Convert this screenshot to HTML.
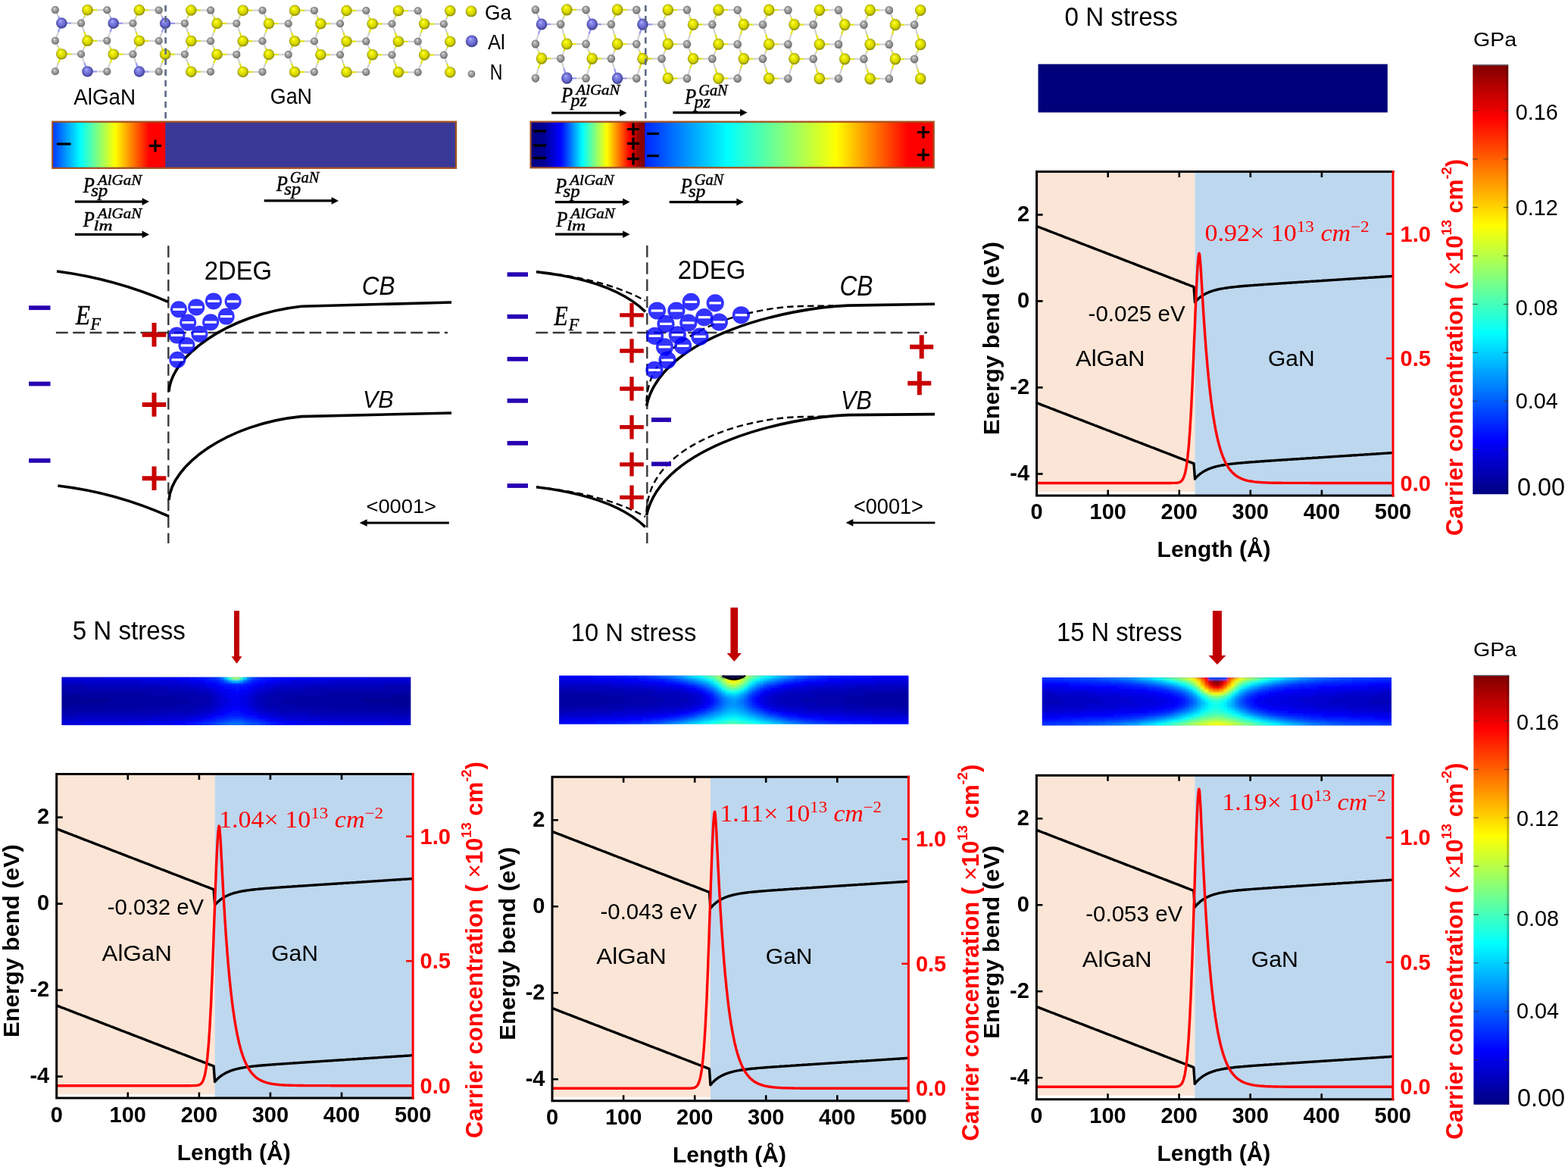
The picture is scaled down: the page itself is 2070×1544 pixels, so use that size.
<!DOCTYPE html><html><head><meta charset="utf-8"><title>AlGaN/GaN</title><style>html,body{margin:0;padding:0;background:#fff;overflow:hidden}svg{display:block}</style></head><body>
<svg width="2070" height="1544" viewBox="0 0 2070 1544">
<rect width="2070" height="1544" fill="#fff"/>
<defs>
<radialGradient id="gGa" cx="0.5" cy="0.5" r="0.55" fx="0.38" fy="0.3"><stop offset="0" stop-color="#ffffa0"/><stop offset="0.2" stop-color="#f4f400"/><stop offset="0.65" stop-color="#d2d200"/><stop offset="1" stop-color="#6e6e00"/></radialGradient>
<radialGradient id="gAl" cx="0.5" cy="0.5" r="0.55" fx="0.38" fy="0.3"><stop offset="0" stop-color="#c8c8ff"/><stop offset="0.2" stop-color="#8c8cf0"/><stop offset="0.65" stop-color="#6666cc"/><stop offset="1" stop-color="#2a2a70"/></radialGradient>
<radialGradient id="gN" cx="0.5" cy="0.5" r="0.55" fx="0.38" fy="0.3"><stop offset="0" stop-color="#eeeeee"/><stop offset="0.25" stop-color="#b4b4b4"/><stop offset="0.7" stop-color="#8c8c8c"/><stop offset="1" stop-color="#4a4a4a"/></radialGradient>
<linearGradient id="bar1" gradientUnits="userSpaceOnUse" x1="70" y1="0" x2="218" y2="0"><stop offset="0.0000" stop-color="#0038ff"/><stop offset="0.0405" stop-color="#0059ff"/><stop offset="0.0811" stop-color="#007aff"/><stop offset="0.1216" stop-color="#009cff"/><stop offset="0.1622" stop-color="#00bdff"/><stop offset="0.2027" stop-color="#00deff"/><stop offset="0.2432" stop-color="#00ffff"/><stop offset="0.2950" stop-color="#2bffd4"/><stop offset="0.3468" stop-color="#55ffaa"/><stop offset="0.3986" stop-color="#80ff80"/><stop offset="0.4505" stop-color="#aaff55"/><stop offset="0.5023" stop-color="#d5ff2a"/><stop offset="0.5541" stop-color="#ffff00"/><stop offset="0.6047" stop-color="#ffd500"/><stop offset="0.6554" stop-color="#ffaa00"/><stop offset="0.7061" stop-color="#ff8000"/><stop offset="0.7568" stop-color="#ff5500"/><stop offset="0.8074" stop-color="#ff2a00"/><stop offset="0.8581" stop-color="#ff0000"/><stop offset="0.8818" stop-color="#ff0000"/><stop offset="0.9054" stop-color="#ff0000"/><stop offset="0.9291" stop-color="#ff0000"/><stop offset="0.9527" stop-color="#ff0000"/><stop offset="0.9764" stop-color="#ff0000"/><stop offset="1.0000" stop-color="#ff0000"/></linearGradient>
<linearGradient id="bar2a" gradientUnits="userSpaceOnUse" x1="701" y1="0" x2="851" y2="0"><stop offset="0.0000" stop-color="#000080"/><stop offset="0.0189" stop-color="#000083"/><stop offset="0.0378" stop-color="#000086"/><stop offset="0.0567" stop-color="#00008a"/><stop offset="0.0756" stop-color="#00008d"/><stop offset="0.0944" stop-color="#000091"/><stop offset="0.1133" stop-color="#000094"/><stop offset="0.1400" stop-color="#0000a8"/><stop offset="0.1667" stop-color="#0000bd"/><stop offset="0.1933" stop-color="#0000d1"/><stop offset="0.2200" stop-color="#0000e6"/><stop offset="0.2467" stop-color="#0000fa"/><stop offset="0.2733" stop-color="#000fff"/><stop offset="0.3033" stop-color="#0037ff"/><stop offset="0.3333" stop-color="#005fff"/><stop offset="0.3633" stop-color="#0087ff"/><stop offset="0.3933" stop-color="#00afff"/><stop offset="0.4233" stop-color="#00d7ff"/><stop offset="0.4533" stop-color="#00ffff"/><stop offset="0.4889" stop-color="#2bffd4"/><stop offset="0.5244" stop-color="#55ffaa"/><stop offset="0.5600" stop-color="#80ff80"/><stop offset="0.5956" stop-color="#aaff55"/><stop offset="0.6311" stop-color="#d5ff2a"/><stop offset="0.6667" stop-color="#ffff00"/><stop offset="0.7000" stop-color="#ffd500"/><stop offset="0.7333" stop-color="#ffaa00"/><stop offset="0.7667" stop-color="#ff8000"/><stop offset="0.8000" stop-color="#ff5500"/><stop offset="0.8333" stop-color="#ff2a00"/><stop offset="0.8667" stop-color="#ff0000"/><stop offset="0.8800" stop-color="#ed0000"/><stop offset="0.8933" stop-color="#db0000"/><stop offset="0.9067" stop-color="#c90000"/><stop offset="0.9200" stop-color="#b80000"/><stop offset="0.9333" stop-color="#a60000"/><stop offset="0.9467" stop-color="#940000"/><stop offset="0.9556" stop-color="#910000"/><stop offset="0.9644" stop-color="#8d0000"/><stop offset="0.9733" stop-color="#8a0000"/><stop offset="0.9822" stop-color="#860000"/><stop offset="0.9911" stop-color="#830000"/><stop offset="1.0000" stop-color="#800000"/></linearGradient>
<linearGradient id="bar2b" gradientUnits="userSpaceOnUse" x1="851" y1="0" x2="1232" y2="0"><stop offset="0.0000" stop-color="#0024ff"/><stop offset="0.0477" stop-color="#0048ff"/><stop offset="0.0954" stop-color="#006dff"/><stop offset="0.1430" stop-color="#0091ff"/><stop offset="0.1907" stop-color="#00b6ff"/><stop offset="0.2384" stop-color="#00daff"/><stop offset="0.2861" stop-color="#00ffff"/><stop offset="0.3491" stop-color="#2bffd4"/><stop offset="0.4121" stop-color="#55ffaa"/><stop offset="0.4751" stop-color="#80ff80"/><stop offset="0.5381" stop-color="#aaff55"/><stop offset="0.6010" stop-color="#d5ff2a"/><stop offset="0.6640" stop-color="#ffff00"/><stop offset="0.7056" stop-color="#ffd500"/><stop offset="0.7472" stop-color="#ffaa00"/><stop offset="0.7887" stop-color="#ff8000"/><stop offset="0.8303" stop-color="#ff5500"/><stop offset="0.8718" stop-color="#ff2a00"/><stop offset="0.9134" stop-color="#ff0000"/><stop offset="0.9278" stop-color="#ff0000"/><stop offset="0.9423" stop-color="#ff0000"/><stop offset="0.9567" stop-color="#ff0000"/><stop offset="0.9711" stop-color="#ff0000"/><stop offset="0.9856" stop-color="#ff0000"/><stop offset="1.0000" stop-color="#ff0000"/></linearGradient>
<linearGradient id="cbar" x1="0" y1="0" x2="0" y2="1"><stop offset="0.000" stop-color="#800000"/><stop offset="0.025" stop-color="#990000"/><stop offset="0.050" stop-color="#b30000"/><stop offset="0.075" stop-color="#cc0000"/><stop offset="0.100" stop-color="#e50000"/><stop offset="0.125" stop-color="#ff0000"/><stop offset="0.150" stop-color="#ff1a00"/><stop offset="0.175" stop-color="#ff3300"/><stop offset="0.200" stop-color="#ff4c00"/><stop offset="0.225" stop-color="#ff6600"/><stop offset="0.250" stop-color="#ff8000"/><stop offset="0.275" stop-color="#ff9900"/><stop offset="0.300" stop-color="#ffb300"/><stop offset="0.325" stop-color="#ffcc00"/><stop offset="0.350" stop-color="#ffe500"/><stop offset="0.375" stop-color="#ffff00"/><stop offset="0.400" stop-color="#e5ff1a"/><stop offset="0.425" stop-color="#ccff33"/><stop offset="0.450" stop-color="#b3ff4c"/><stop offset="0.475" stop-color="#99ff66"/><stop offset="0.500" stop-color="#80ff80"/><stop offset="0.525" stop-color="#66ff99"/><stop offset="0.550" stop-color="#4cffb3"/><stop offset="0.575" stop-color="#33ffcc"/><stop offset="0.600" stop-color="#1affe5"/><stop offset="0.625" stop-color="#00ffff"/><stop offset="0.650" stop-color="#00e5ff"/><stop offset="0.675" stop-color="#00ccff"/><stop offset="0.700" stop-color="#00b3ff"/><stop offset="0.725" stop-color="#0099ff"/><stop offset="0.750" stop-color="#0080ff"/><stop offset="0.775" stop-color="#0066ff"/><stop offset="0.800" stop-color="#004cff"/><stop offset="0.825" stop-color="#0033ff"/><stop offset="0.850" stop-color="#001aff"/><stop offset="0.875" stop-color="#0000ff"/><stop offset="0.900" stop-color="#0000e5"/><stop offset="0.925" stop-color="#0000cc"/><stop offset="0.950" stop-color="#0000b3"/><stop offset="0.975" stop-color="#000099"/><stop offset="1" stop-color="#000080"/></linearGradient>
<filter id="blur2" x="-5%" y="-20%" width="110%" height="140%"><feGaussianBlur stdDeviation="2.2"/></filter>
<filter id="blur1" x="-5%" y="-20%" width="110%" height="140%"><feGaussianBlur stdDeviation="1.2"/></filter>
<clipPath id="cm5"><rect x="81.4" y="893.5" width="460.9" height="63.5"/></clipPath>
<clipPath id="cm10"><rect x="738.1" y="891.6" width="461.4" height="64.2"/></clipPath>
<clipPath id="cm15"><rect x="1375.7" y="894" width="461.3" height="63.5"/></clipPath>
</defs>
<g stroke-width="2.3"><line x1="115.5" y1="13.2" x2="128.4" y2="13.2" stroke="#e2e21a"/><line x1="128.4" y1="13.2" x2="141.3" y2="13.2" stroke="#d2d2d2"/><line x1="183.9" y1="13.3" x2="196.8" y2="13.4" stroke="#e2e21a"/><line x1="196.8" y1="13.4" x2="209.7" y2="13.4" stroke="#d2d2d2"/><line x1="252.3" y1="13.5" x2="265.2" y2="13.5" stroke="#e2e21a"/><line x1="265.2" y1="13.5" x2="278.1" y2="13.6" stroke="#d2d2d2"/><line x1="320.7" y1="13.7" x2="333.6" y2="13.7" stroke="#e2e21a"/><line x1="333.6" y1="13.7" x2="346.5" y2="13.7" stroke="#d2d2d2"/><line x1="389.1" y1="13.8" x2="402" y2="13.8" stroke="#e2e21a"/><line x1="402" y1="13.8" x2="414.9" y2="13.9" stroke="#d2d2d2"/><line x1="457.5" y1="14" x2="470.4" y2="14" stroke="#e2e21a"/><line x1="470.4" y1="14" x2="483.3" y2="14" stroke="#d2d2d2"/><line x1="525.9" y1="14.1" x2="538.8" y2="14.2" stroke="#e2e21a"/><line x1="538.8" y1="14.2" x2="551.7" y2="14.2" stroke="#d2d2d2"/><line x1="81.3" y1="30.5" x2="94.2" y2="30.5" stroke="#9c9cf2"/><line x1="94.2" y1="30.5" x2="107.1" y2="30.6" stroke="#d2d2d2"/><line x1="149.7" y1="30.7" x2="162.6" y2="30.7" stroke="#9c9cf2"/><line x1="162.6" y1="30.7" x2="175.5" y2="30.7" stroke="#d2d2d2"/><line x1="218.1" y1="30.8" x2="231" y2="30.8" stroke="#9c9cf2"/><line x1="231" y1="30.8" x2="243.9" y2="30.9" stroke="#d2d2d2"/><line x1="286.5" y1="31" x2="299.4" y2="31" stroke="#e2e21a"/><line x1="299.4" y1="31" x2="312.3" y2="31" stroke="#d2d2d2"/><line x1="354.9" y1="31.1" x2="367.8" y2="31.2" stroke="#e2e21a"/><line x1="367.8" y1="31.2" x2="380.7" y2="31.2" stroke="#d2d2d2"/><line x1="423.3" y1="31.3" x2="436.2" y2="31.3" stroke="#e2e21a"/><line x1="436.2" y1="31.3" x2="449.1" y2="31.3" stroke="#d2d2d2"/><line x1="491.7" y1="31.4" x2="504.6" y2="31.5" stroke="#e2e21a"/><line x1="504.6" y1="31.5" x2="517.5" y2="31.5" stroke="#d2d2d2"/><line x1="560.1" y1="31.6" x2="573" y2="31.6" stroke="#e2e21a"/><line x1="573" y1="31.6" x2="585.9" y2="31.7" stroke="#d2d2d2"/><line x1="115.5" y1="53.8" x2="128.4" y2="53.8" stroke="#e2e21a"/><line x1="128.4" y1="53.8" x2="141.3" y2="53.8" stroke="#d2d2d2"/><line x1="183.9" y1="53.9" x2="196.8" y2="54" stroke="#e2e21a"/><line x1="196.8" y1="54" x2="209.7" y2="54" stroke="#d2d2d2"/><line x1="252.3" y1="54.1" x2="265.2" y2="54.1" stroke="#e2e21a"/><line x1="265.2" y1="54.1" x2="278.1" y2="54.2" stroke="#d2d2d2"/><line x1="320.7" y1="54.3" x2="333.6" y2="54.3" stroke="#e2e21a"/><line x1="333.6" y1="54.3" x2="346.5" y2="54.3" stroke="#d2d2d2"/><line x1="389.1" y1="54.4" x2="402" y2="54.4" stroke="#e2e21a"/><line x1="402" y1="54.4" x2="414.9" y2="54.5" stroke="#d2d2d2"/><line x1="457.5" y1="54.6" x2="470.4" y2="54.6" stroke="#e2e21a"/><line x1="470.4" y1="54.6" x2="483.3" y2="54.6" stroke="#d2d2d2"/><line x1="525.9" y1="54.7" x2="538.8" y2="54.8" stroke="#e2e21a"/><line x1="538.8" y1="54.8" x2="551.7" y2="54.8" stroke="#d2d2d2"/><line x1="81.3" y1="71.4" x2="94.2" y2="71.4" stroke="#e2e21a"/><line x1="94.2" y1="71.4" x2="107.1" y2="71.5" stroke="#d2d2d2"/><line x1="149.7" y1="71.6" x2="162.6" y2="71.6" stroke="#e2e21a"/><line x1="162.6" y1="71.6" x2="175.5" y2="71.6" stroke="#d2d2d2"/><line x1="218.1" y1="71.7" x2="231" y2="71.7" stroke="#e2e21a"/><line x1="231" y1="71.7" x2="243.9" y2="71.8" stroke="#d2d2d2"/><line x1="286.5" y1="71.9" x2="299.4" y2="71.9" stroke="#e2e21a"/><line x1="299.4" y1="71.9" x2="312.3" y2="71.9" stroke="#d2d2d2"/><line x1="354.9" y1="72" x2="367.8" y2="72.1" stroke="#e2e21a"/><line x1="367.8" y1="72.1" x2="380.7" y2="72.1" stroke="#d2d2d2"/><line x1="423.3" y1="72.2" x2="436.2" y2="72.2" stroke="#e2e21a"/><line x1="436.2" y1="72.2" x2="449.1" y2="72.2" stroke="#d2d2d2"/><line x1="491.7" y1="72.3" x2="504.6" y2="72.4" stroke="#e2e21a"/><line x1="504.6" y1="72.4" x2="517.5" y2="72.4" stroke="#d2d2d2"/><line x1="560.1" y1="72.5" x2="573" y2="72.5" stroke="#e2e21a"/><line x1="573" y1="72.5" x2="585.9" y2="72.6" stroke="#d2d2d2"/><line x1="115.5" y1="94.4" x2="128.4" y2="94.4" stroke="#9c9cf2"/><line x1="128.4" y1="94.4" x2="141.3" y2="94.4" stroke="#d2d2d2"/><line x1="183.9" y1="94.5" x2="196.8" y2="94.6" stroke="#9c9cf2"/><line x1="196.8" y1="94.6" x2="209.7" y2="94.6" stroke="#d2d2d2"/><line x1="252.3" y1="94.7" x2="265.2" y2="94.7" stroke="#e2e21a"/><line x1="265.2" y1="94.7" x2="278.1" y2="94.8" stroke="#d2d2d2"/><line x1="320.7" y1="94.9" x2="333.6" y2="94.9" stroke="#e2e21a"/><line x1="333.6" y1="94.9" x2="346.5" y2="94.9" stroke="#d2d2d2"/><line x1="389.1" y1="95" x2="402" y2="95" stroke="#e2e21a"/><line x1="402" y1="95" x2="414.9" y2="95.1" stroke="#d2d2d2"/><line x1="457.5" y1="95.2" x2="470.4" y2="95.2" stroke="#e2e21a"/><line x1="470.4" y1="95.2" x2="483.3" y2="95.2" stroke="#d2d2d2"/><line x1="525.9" y1="95.3" x2="538.8" y2="95.4" stroke="#e2e21a"/><line x1="538.8" y1="95.4" x2="551.7" y2="95.4" stroke="#d2d2d2"/><line x1="72.9" y1="13.1" x2="77.1" y2="21.8" stroke="#d2d2d2"/><line x1="77.1" y1="21.8" x2="81.3" y2="30.5" stroke="#9c9cf2"/><line x1="141.3" y1="13.2" x2="145.5" y2="21.9" stroke="#d2d2d2"/><line x1="145.5" y1="21.9" x2="149.7" y2="30.7" stroke="#9c9cf2"/><line x1="115.5" y1="13.2" x2="111.3" y2="21.9" stroke="#e2e21a"/><line x1="111.3" y1="21.9" x2="107.1" y2="30.6" stroke="#d2d2d2"/><line x1="209.7" y1="13.4" x2="213.9" y2="22.1" stroke="#d2d2d2"/><line x1="213.9" y1="22.1" x2="218.1" y2="30.8" stroke="#9c9cf2"/><line x1="183.9" y1="13.3" x2="179.7" y2="22" stroke="#e2e21a"/><line x1="179.7" y1="22" x2="175.5" y2="30.7" stroke="#d2d2d2"/><line x1="278.1" y1="13.6" x2="282.3" y2="22.3" stroke="#d2d2d2"/><line x1="282.3" y1="22.3" x2="286.5" y2="31" stroke="#e2e21a"/><line x1="252.3" y1="13.5" x2="248.1" y2="22.2" stroke="#e2e21a"/><line x1="248.1" y1="22.2" x2="243.9" y2="30.9" stroke="#d2d2d2"/><line x1="346.5" y1="13.7" x2="350.7" y2="22.4" stroke="#d2d2d2"/><line x1="350.7" y1="22.4" x2="354.9" y2="31.1" stroke="#e2e21a"/><line x1="320.7" y1="13.7" x2="316.5" y2="22.3" stroke="#e2e21a"/><line x1="316.5" y1="22.3" x2="312.3" y2="31" stroke="#d2d2d2"/><line x1="414.9" y1="13.9" x2="419.1" y2="22.6" stroke="#d2d2d2"/><line x1="419.1" y1="22.6" x2="423.3" y2="31.3" stroke="#e2e21a"/><line x1="389.1" y1="13.8" x2="384.9" y2="22.5" stroke="#e2e21a"/><line x1="384.9" y1="22.5" x2="380.7" y2="31.2" stroke="#d2d2d2"/><line x1="483.3" y1="14" x2="487.5" y2="22.7" stroke="#d2d2d2"/><line x1="487.5" y1="22.7" x2="491.7" y2="31.4" stroke="#e2e21a"/><line x1="457.5" y1="14" x2="453.3" y2="22.7" stroke="#e2e21a"/><line x1="453.3" y1="22.7" x2="449.1" y2="31.3" stroke="#d2d2d2"/><line x1="551.7" y1="14.2" x2="555.9" y2="22.9" stroke="#d2d2d2"/><line x1="555.9" y1="22.9" x2="560.1" y2="31.6" stroke="#e2e21a"/><line x1="525.9" y1="14.1" x2="521.7" y2="22.8" stroke="#e2e21a"/><line x1="521.7" y1="22.8" x2="517.5" y2="31.5" stroke="#d2d2d2"/><line x1="594.3" y1="14.3" x2="590.1" y2="23" stroke="#e2e21a"/><line x1="590.1" y1="23" x2="585.9" y2="31.7" stroke="#d2d2d2"/><line x1="72.9" y1="53.7" x2="77.1" y2="42.1" stroke="#d2d2d2"/><line x1="77.1" y1="42.1" x2="81.3" y2="30.5" stroke="#9c9cf2"/><line x1="141.3" y1="53.8" x2="145.5" y2="42.2" stroke="#d2d2d2"/><line x1="145.5" y1="42.2" x2="149.7" y2="30.7" stroke="#9c9cf2"/><line x1="115.5" y1="53.8" x2="111.3" y2="42.2" stroke="#e2e21a"/><line x1="111.3" y1="42.2" x2="107.1" y2="30.6" stroke="#d2d2d2"/><line x1="209.7" y1="54" x2="213.9" y2="42.4" stroke="#d2d2d2"/><line x1="213.9" y1="42.4" x2="218.1" y2="30.8" stroke="#9c9cf2"/><line x1="183.9" y1="53.9" x2="179.7" y2="42.3" stroke="#e2e21a"/><line x1="179.7" y1="42.3" x2="175.5" y2="30.7" stroke="#d2d2d2"/><line x1="278.1" y1="54.2" x2="282.3" y2="42.6" stroke="#d2d2d2"/><line x1="282.3" y1="42.6" x2="286.5" y2="31" stroke="#e2e21a"/><line x1="252.3" y1="54.1" x2="248.1" y2="42.5" stroke="#e2e21a"/><line x1="248.1" y1="42.5" x2="243.9" y2="30.9" stroke="#d2d2d2"/><line x1="346.5" y1="54.3" x2="350.7" y2="42.7" stroke="#d2d2d2"/><line x1="350.7" y1="42.7" x2="354.9" y2="31.1" stroke="#e2e21a"/><line x1="320.7" y1="54.3" x2="316.5" y2="42.6" stroke="#e2e21a"/><line x1="316.5" y1="42.6" x2="312.3" y2="31" stroke="#d2d2d2"/><line x1="414.9" y1="54.5" x2="419.1" y2="42.9" stroke="#d2d2d2"/><line x1="419.1" y1="42.9" x2="423.3" y2="31.3" stroke="#e2e21a"/><line x1="389.1" y1="54.4" x2="384.9" y2="42.8" stroke="#e2e21a"/><line x1="384.9" y1="42.8" x2="380.7" y2="31.2" stroke="#d2d2d2"/><line x1="483.3" y1="54.6" x2="487.5" y2="43" stroke="#d2d2d2"/><line x1="487.5" y1="43" x2="491.7" y2="31.4" stroke="#e2e21a"/><line x1="457.5" y1="54.6" x2="453.3" y2="43" stroke="#e2e21a"/><line x1="453.3" y1="43" x2="449.1" y2="31.3" stroke="#d2d2d2"/><line x1="551.7" y1="54.8" x2="555.9" y2="43.2" stroke="#d2d2d2"/><line x1="555.9" y1="43.2" x2="560.1" y2="31.6" stroke="#e2e21a"/><line x1="525.9" y1="54.7" x2="521.7" y2="43.1" stroke="#e2e21a"/><line x1="521.7" y1="43.1" x2="517.5" y2="31.5" stroke="#d2d2d2"/><line x1="594.3" y1="54.9" x2="590.1" y2="43.3" stroke="#e2e21a"/><line x1="590.1" y1="43.3" x2="585.9" y2="31.7" stroke="#d2d2d2"/><line x1="72.9" y1="53.7" x2="77.1" y2="62.5" stroke="#d2d2d2"/><line x1="77.1" y1="62.5" x2="81.3" y2="71.4" stroke="#e2e21a"/><line x1="141.3" y1="53.8" x2="145.5" y2="62.7" stroke="#d2d2d2"/><line x1="145.5" y1="62.7" x2="149.7" y2="71.6" stroke="#e2e21a"/><line x1="115.5" y1="53.8" x2="111.3" y2="62.6" stroke="#e2e21a"/><line x1="111.3" y1="62.6" x2="107.1" y2="71.5" stroke="#d2d2d2"/><line x1="209.7" y1="54" x2="213.9" y2="62.9" stroke="#d2d2d2"/><line x1="213.9" y1="62.9" x2="218.1" y2="71.7" stroke="#e2e21a"/><line x1="183.9" y1="53.9" x2="179.7" y2="62.8" stroke="#e2e21a"/><line x1="179.7" y1="62.8" x2="175.5" y2="71.6" stroke="#d2d2d2"/><line x1="278.1" y1="54.2" x2="282.3" y2="63" stroke="#d2d2d2"/><line x1="282.3" y1="63" x2="286.5" y2="71.9" stroke="#e2e21a"/><line x1="252.3" y1="54.1" x2="248.1" y2="62.9" stroke="#e2e21a"/><line x1="248.1" y1="62.9" x2="243.9" y2="71.8" stroke="#d2d2d2"/><line x1="346.5" y1="54.3" x2="350.7" y2="63.2" stroke="#d2d2d2"/><line x1="350.7" y1="63.2" x2="354.9" y2="72" stroke="#e2e21a"/><line x1="320.7" y1="54.3" x2="316.5" y2="63.1" stroke="#e2e21a"/><line x1="316.5" y1="63.1" x2="312.3" y2="71.9" stroke="#d2d2d2"/><line x1="414.9" y1="54.5" x2="419.1" y2="63.3" stroke="#d2d2d2"/><line x1="419.1" y1="63.3" x2="423.3" y2="72.2" stroke="#e2e21a"/><line x1="389.1" y1="54.4" x2="384.9" y2="63.2" stroke="#e2e21a"/><line x1="384.9" y1="63.2" x2="380.7" y2="72.1" stroke="#d2d2d2"/><line x1="483.3" y1="54.6" x2="487.5" y2="63.5" stroke="#d2d2d2"/><line x1="487.5" y1="63.5" x2="491.7" y2="72.3" stroke="#e2e21a"/><line x1="457.5" y1="54.6" x2="453.3" y2="63.4" stroke="#e2e21a"/><line x1="453.3" y1="63.4" x2="449.1" y2="72.2" stroke="#d2d2d2"/><line x1="551.7" y1="54.8" x2="555.9" y2="63.6" stroke="#d2d2d2"/><line x1="555.9" y1="63.6" x2="560.1" y2="72.5" stroke="#e2e21a"/><line x1="525.9" y1="54.7" x2="521.7" y2="63.6" stroke="#e2e21a"/><line x1="521.7" y1="63.6" x2="517.5" y2="72.4" stroke="#d2d2d2"/><line x1="594.3" y1="54.9" x2="590.1" y2="63.7" stroke="#e2e21a"/><line x1="590.1" y1="63.7" x2="585.9" y2="72.6" stroke="#d2d2d2"/><line x1="72.9" y1="94.3" x2="77.1" y2="82.8" stroke="#d2d2d2"/><line x1="77.1" y1="82.8" x2="81.3" y2="71.4" stroke="#e2e21a"/><line x1="141.3" y1="94.4" x2="145.5" y2="83" stroke="#d2d2d2"/><line x1="145.5" y1="83" x2="149.7" y2="71.6" stroke="#e2e21a"/><line x1="115.5" y1="94.4" x2="111.3" y2="82.9" stroke="#9c9cf2"/><line x1="111.3" y1="82.9" x2="107.1" y2="71.5" stroke="#d2d2d2"/><line x1="209.7" y1="94.6" x2="213.9" y2="83.2" stroke="#d2d2d2"/><line x1="213.9" y1="83.2" x2="218.1" y2="71.7" stroke="#e2e21a"/><line x1="183.9" y1="94.5" x2="179.7" y2="83.1" stroke="#9c9cf2"/><line x1="179.7" y1="83.1" x2="175.5" y2="71.6" stroke="#d2d2d2"/><line x1="278.1" y1="94.8" x2="282.3" y2="83.3" stroke="#d2d2d2"/><line x1="282.3" y1="83.3" x2="286.5" y2="71.9" stroke="#e2e21a"/><line x1="252.3" y1="94.7" x2="248.1" y2="83.2" stroke="#e2e21a"/><line x1="248.1" y1="83.2" x2="243.9" y2="71.8" stroke="#d2d2d2"/><line x1="346.5" y1="94.9" x2="350.7" y2="83.5" stroke="#d2d2d2"/><line x1="350.7" y1="83.5" x2="354.9" y2="72" stroke="#e2e21a"/><line x1="320.7" y1="94.9" x2="316.5" y2="83.4" stroke="#e2e21a"/><line x1="316.5" y1="83.4" x2="312.3" y2="71.9" stroke="#d2d2d2"/><line x1="414.9" y1="95.1" x2="419.1" y2="83.6" stroke="#d2d2d2"/><line x1="419.1" y1="83.6" x2="423.3" y2="72.2" stroke="#e2e21a"/><line x1="389.1" y1="95" x2="384.9" y2="83.5" stroke="#e2e21a"/><line x1="384.9" y1="83.5" x2="380.7" y2="72.1" stroke="#d2d2d2"/><line x1="483.3" y1="95.2" x2="487.5" y2="83.8" stroke="#d2d2d2"/><line x1="487.5" y1="83.8" x2="491.7" y2="72.3" stroke="#e2e21a"/><line x1="457.5" y1="95.2" x2="453.3" y2="83.7" stroke="#e2e21a"/><line x1="453.3" y1="83.7" x2="449.1" y2="72.2" stroke="#d2d2d2"/><line x1="551.7" y1="95.4" x2="555.9" y2="83.9" stroke="#d2d2d2"/><line x1="555.9" y1="83.9" x2="560.1" y2="72.5" stroke="#e2e21a"/><line x1="525.9" y1="95.3" x2="521.7" y2="83.9" stroke="#e2e21a"/><line x1="521.7" y1="83.9" x2="517.5" y2="72.4" stroke="#d2d2d2"/><line x1="594.3" y1="95.5" x2="590.1" y2="84" stroke="#e2e21a"/><line x1="590.1" y1="84" x2="585.9" y2="72.6" stroke="#d2d2d2"/></g>
<g><circle cx="72.9" cy="13.1" r="5" fill="url(#gN)"/><circle cx="115.5" cy="13.2" r="7.2" fill="url(#gGa)"/><circle cx="141.3" cy="13.2" r="5" fill="url(#gN)"/><circle cx="183.9" cy="13.3" r="7.2" fill="url(#gGa)"/><circle cx="209.7" cy="13.4" r="5" fill="url(#gN)"/><circle cx="252.3" cy="13.5" r="7.2" fill="url(#gGa)"/><circle cx="278.1" cy="13.6" r="5" fill="url(#gN)"/><circle cx="320.7" cy="13.7" r="7.2" fill="url(#gGa)"/><circle cx="346.5" cy="13.7" r="5" fill="url(#gN)"/><circle cx="389.1" cy="13.8" r="7.2" fill="url(#gGa)"/><circle cx="414.9" cy="13.9" r="5" fill="url(#gN)"/><circle cx="457.5" cy="14" r="7.2" fill="url(#gGa)"/><circle cx="483.3" cy="14" r="5" fill="url(#gN)"/><circle cx="525.9" cy="14.1" r="7.2" fill="url(#gGa)"/><circle cx="551.7" cy="14.2" r="5" fill="url(#gN)"/><circle cx="594.3" cy="14.3" r="7.2" fill="url(#gGa)"/><circle cx="81.3" cy="30.5" r="7.2" fill="url(#gAl)"/><circle cx="107.1" cy="30.6" r="5" fill="url(#gN)"/><circle cx="149.7" cy="30.7" r="7.2" fill="url(#gAl)"/><circle cx="175.5" cy="30.7" r="5" fill="url(#gN)"/><circle cx="218.1" cy="30.8" r="7.2" fill="url(#gAl)"/><circle cx="243.9" cy="30.9" r="5" fill="url(#gN)"/><circle cx="286.5" cy="31" r="7.2" fill="url(#gGa)"/><circle cx="312.3" cy="31" r="5" fill="url(#gN)"/><circle cx="354.9" cy="31.1" r="7.2" fill="url(#gGa)"/><circle cx="380.7" cy="31.2" r="5" fill="url(#gN)"/><circle cx="423.3" cy="31.3" r="7.2" fill="url(#gGa)"/><circle cx="449.1" cy="31.3" r="5" fill="url(#gN)"/><circle cx="491.7" cy="31.4" r="7.2" fill="url(#gGa)"/><circle cx="517.5" cy="31.5" r="5" fill="url(#gN)"/><circle cx="560.1" cy="31.6" r="7.2" fill="url(#gGa)"/><circle cx="585.9" cy="31.7" r="5" fill="url(#gN)"/><circle cx="72.9" cy="53.7" r="5" fill="url(#gN)"/><circle cx="115.5" cy="53.8" r="7.2" fill="url(#gGa)"/><circle cx="141.3" cy="53.8" r="5" fill="url(#gN)"/><circle cx="183.9" cy="53.9" r="7.2" fill="url(#gGa)"/><circle cx="209.7" cy="54" r="5" fill="url(#gN)"/><circle cx="252.3" cy="54.1" r="7.2" fill="url(#gGa)"/><circle cx="278.1" cy="54.2" r="5" fill="url(#gN)"/><circle cx="320.7" cy="54.3" r="7.2" fill="url(#gGa)"/><circle cx="346.5" cy="54.3" r="5" fill="url(#gN)"/><circle cx="389.1" cy="54.4" r="7.2" fill="url(#gGa)"/><circle cx="414.9" cy="54.5" r="5" fill="url(#gN)"/><circle cx="457.5" cy="54.6" r="7.2" fill="url(#gGa)"/><circle cx="483.3" cy="54.6" r="5" fill="url(#gN)"/><circle cx="525.9" cy="54.7" r="7.2" fill="url(#gGa)"/><circle cx="551.7" cy="54.8" r="5" fill="url(#gN)"/><circle cx="594.3" cy="54.9" r="7.2" fill="url(#gGa)"/><circle cx="81.3" cy="71.4" r="7.2" fill="url(#gGa)"/><circle cx="107.1" cy="71.5" r="5" fill="url(#gN)"/><circle cx="149.7" cy="71.6" r="7.2" fill="url(#gGa)"/><circle cx="175.5" cy="71.6" r="5" fill="url(#gN)"/><circle cx="218.1" cy="71.7" r="7.2" fill="url(#gGa)"/><circle cx="243.9" cy="71.8" r="5" fill="url(#gN)"/><circle cx="286.5" cy="71.9" r="7.2" fill="url(#gGa)"/><circle cx="312.3" cy="71.9" r="5" fill="url(#gN)"/><circle cx="354.9" cy="72" r="7.2" fill="url(#gGa)"/><circle cx="380.7" cy="72.1" r="5" fill="url(#gN)"/><circle cx="423.3" cy="72.2" r="7.2" fill="url(#gGa)"/><circle cx="449.1" cy="72.2" r="5" fill="url(#gN)"/><circle cx="491.7" cy="72.3" r="7.2" fill="url(#gGa)"/><circle cx="517.5" cy="72.4" r="5" fill="url(#gN)"/><circle cx="560.1" cy="72.5" r="7.2" fill="url(#gGa)"/><circle cx="585.9" cy="72.6" r="5" fill="url(#gN)"/><circle cx="72.9" cy="94.3" r="5" fill="url(#gN)"/><circle cx="115.5" cy="94.4" r="7.2" fill="url(#gAl)"/><circle cx="141.3" cy="94.4" r="5" fill="url(#gN)"/><circle cx="183.9" cy="94.5" r="7.2" fill="url(#gAl)"/><circle cx="209.7" cy="94.6" r="5" fill="url(#gN)"/><circle cx="252.3" cy="94.7" r="7.2" fill="url(#gGa)"/><circle cx="278.1" cy="94.8" r="5" fill="url(#gN)"/><circle cx="320.7" cy="94.9" r="7.2" fill="url(#gGa)"/><circle cx="346.5" cy="94.9" r="5" fill="url(#gN)"/><circle cx="389.1" cy="95" r="7.2" fill="url(#gGa)"/><circle cx="414.9" cy="95.1" r="5" fill="url(#gN)"/><circle cx="457.5" cy="95.2" r="7.2" fill="url(#gGa)"/><circle cx="483.3" cy="95.2" r="5" fill="url(#gN)"/><circle cx="525.9" cy="95.3" r="7.2" fill="url(#gGa)"/><circle cx="551.7" cy="95.4" r="5" fill="url(#gN)"/><circle cx="594.3" cy="95.5" r="7.2" fill="url(#gGa)"/></g>
<circle cx="622.1" cy="14.9" r="7.4" fill="url(#gGa)"/>
<circle cx="622.8" cy="54.4" r="7.9" fill="url(#gAl)"/>
<circle cx="622.5" cy="97.6" r="4.8" fill="url(#gN)"/>
<text x="640" y="25.7" font-family="'Liberation Sans', Arial, sans-serif" font-size="27.79" textLength="35.27" lengthAdjust="spacingAndGlyphs">Ga</text>
<text x="644" y="64.8" font-family="'Liberation Sans', Arial, sans-serif" font-size="27.72" textLength="22.80" lengthAdjust="spacingAndGlyphs">Al</text>
<text x="646.7" y="104.7" font-family="'Liberation Sans', Arial, sans-serif" font-size="28.78" textLength="16.70" lengthAdjust="spacingAndGlyphs">N</text>
<line x1="218.6" y1="7" x2="218.6" y2="156.3" stroke="#5a6987" stroke-width="2.6" stroke-dasharray="8.3 5.8"/>
<text x="97.2" y="138" font-family="'Liberation Sans', Arial, sans-serif" font-size="28.97" textLength="81.81" lengthAdjust="spacingAndGlyphs">AlGaN</text>
<text x="356.8" y="137" font-family="'Liberation Sans', Arial, sans-serif" font-size="29.08" textLength="55.20" lengthAdjust="spacingAndGlyphs">GaN</text>
<rect x="69.3" y="160.7" width="532.7" height="61.1" fill="#3a3896" stroke="#a4521e" stroke-width="2.3"/>
<rect x="70.4" y="161.8" width="147.8" height="58.9" fill="url(#bar1)"/>
<line x1="75" y1="190" x2="93.5" y2="190" stroke="#000" stroke-width="3.2"/>
<path d="M197 192.4H213M205 184.4V200.4" stroke="#000" stroke-width="3.2" fill="none"/>
<text x="109.7" y="254.3" font-family="'Liberation Serif', 'Times New Roman', serif" font-size="29.92" font-style="italic" textLength="15.15" lengthAdjust="spacingAndGlyphs" stroke="#000" stroke-width="0.5">P</text>
<text x="129" y="243.5" font-family="'Liberation Serif', 'Times New Roman', serif" font-size="19.45" font-style="italic" textLength="58.16" lengthAdjust="spacingAndGlyphs" stroke="#000" stroke-width="0.45">AlGaN</text>
<text x="120.2" y="259.3" font-family="'Liberation Serif', 'Times New Roman', serif" font-size="22.29" font-style="italic" textLength="22.10" lengthAdjust="spacingAndGlyphs" stroke="#000" stroke-width="0.45">sp</text>
<line x1="98.9" y1="266.1" x2="188.6" y2="266.1" stroke="#000" stroke-width="3.2"/>
<path d="M197 266.1L187.6 261.3L187.6 270.9z" fill="#000"/>
<text x="109.7" y="298.7" font-family="'Liberation Serif', 'Times New Roman', serif" font-size="29.92" font-style="italic" textLength="15.15" lengthAdjust="spacingAndGlyphs" stroke="#000" stroke-width="0.5">P</text>
<text x="129" y="287.9" font-family="'Liberation Serif', 'Times New Roman', serif" font-size="19.45" font-style="italic" textLength="58.16" lengthAdjust="spacingAndGlyphs" stroke="#000" stroke-width="0.45">AlGaN</text>
<text x="123.6" y="303.7" font-family="'Liberation Serif', 'Times New Roman', serif" font-size="19.88" font-style="italic" textLength="25.00" lengthAdjust="spacingAndGlyphs" stroke="#000" stroke-width="0.45">lm</text>
<line x1="98.9" y1="309.4" x2="188.6" y2="309.4" stroke="#000" stroke-width="3.2"/>
<path d="M197 309.4L187.6 304.6L187.6 314.2z" fill="#000"/>
<text x="364.7" y="251.6" font-family="'Liberation Serif', 'Times New Roman', serif" font-size="29.92" font-style="italic" textLength="15.15" lengthAdjust="spacingAndGlyphs" stroke="#000" stroke-width="0.5">P</text>
<text x="382.8" y="240.8" font-family="'Liberation Serif', 'Times New Roman', serif" font-size="20.39" font-style="italic" stroke="#000" stroke-width="0.45">GaN</text>
<text x="375.2" y="256.6" font-family="'Liberation Serif', 'Times New Roman', serif" font-size="22.29" font-style="italic" textLength="22.10" lengthAdjust="spacingAndGlyphs" stroke="#000" stroke-width="0.45">sp</text>
<line x1="348.7" y1="264.9" x2="438.6" y2="264.9" stroke="#000" stroke-width="3.2"/>
<path d="M447 264.9L437.6 260.1L437.6 269.7z" fill="#000"/>
<line x1="222.3" y1="324.3" x2="222.3" y2="717" stroke="#3a3a3a" stroke-width="2.4" stroke-dasharray="15.4 6.9"/>
<line x1="73.9" y1="439" x2="591" y2="439" stroke="#3a3a3a" stroke-width="2.4" stroke-dasharray="15.9 6.4"/>
<g fill="none" stroke="#000" stroke-width="3.6">
<path d="M75 358Q151.5 367.9 222 398.3"/>
<path d="M223 516.6C226 470 300 415 398 404.3L596 399"/>
<path d="M76.4 641Q153 650 223 681.4"/>
<path d="M223 660C226 614 300 559 398 549.6L596 545"/>
</g>
<text x="100.1" y="427.7" font-family="'Liberation Serif', 'Times New Roman', serif" font-size="35.88" font-style="italic" textLength="19.02" lengthAdjust="spacingAndGlyphs" stroke="#000" stroke-width="0.5">E</text>
<text x="119.6" y="434.8" font-family="'Liberation Serif', 'Times New Roman', serif" font-size="23.66" font-style="italic" textLength="13.56" lengthAdjust="spacingAndGlyphs" stroke="#000" stroke-width="0.4">F</text>
<text x="269.8" y="368.7" font-family="'Liberation Sans', Arial, sans-serif" font-size="35.24" textLength="89.31" lengthAdjust="spacingAndGlyphs">2DEG</text>
<text x="477.8" y="388.5" font-family="'Liberation Sans', Arial, sans-serif" font-size="35.53" font-style="italic" textLength="43.71" lengthAdjust="spacingAndGlyphs">CB</text>
<text x="479" y="538.1" font-family="'Liberation Sans', Arial, sans-serif" font-size="31.25" font-style="italic" textLength="40.50" lengthAdjust="spacingAndGlyphs">VB</text>
<text x="483.5" y="676.8" font-family="'Liberation Sans', Arial, sans-serif" font-size="25.50" textLength="92.49" lengthAdjust="spacingAndGlyphs">&lt;0001&gt;</text>
<line x1="592.8" y1="690" x2="483.6" y2="690" stroke="#000" stroke-width="2.8"/>
<path d="M474.6 690L484.6 685.2L484.6 694.8z" fill="#000"/>
<line x1="38.1" y1="406.2" x2="66.5" y2="406.2" stroke="#2600b2" stroke-width="5.8"/>
<line x1="38.1" y1="506.5" x2="66.5" y2="506.5" stroke="#2600b2" stroke-width="5.8"/>
<line x1="38.1" y1="607.8" x2="66.5" y2="607.8" stroke="#2600b2" stroke-width="5.8"/>
<path d="M187.7 441.7H219.3M203.5 425.9V457.5" stroke="#c80000" stroke-width="6" fill="none"/>
<path d="M187.7 534H219.3M203.5 518.2V549.8" stroke="#c80000" stroke-width="6" fill="none"/>
<path d="M187.7 631.3H219.3M203.5 615.5V647.1" stroke="#c80000" stroke-width="6" fill="none"/>
<circle cx="236" cy="408.3" r="11" fill="#0000ff" fill-opacity="0.8"/>
<line x1="228.2" y1="408.3" x2="243.8" y2="408.3" stroke="#fff" stroke-width="3.2"/>
<circle cx="259.2" cy="405.4" r="11" fill="#0000ff" fill-opacity="0.8"/>
<line x1="251.4" y1="405.4" x2="267" y2="405.4" stroke="#fff" stroke-width="3.2"/>
<circle cx="281.9" cy="397.4" r="11" fill="#0000ff" fill-opacity="0.8"/>
<line x1="274.1" y1="397.4" x2="289.7" y2="397.4" stroke="#fff" stroke-width="3.2"/>
<circle cx="307.6" cy="397.8" r="11" fill="#0000ff" fill-opacity="0.8"/>
<line x1="299.8" y1="397.8" x2="315.4" y2="397.8" stroke="#fff" stroke-width="3.2"/>
<circle cx="248.2" cy="425.6" r="11" fill="#0000ff" fill-opacity="0.8"/>
<line x1="240.4" y1="425.6" x2="256" y2="425.6" stroke="#fff" stroke-width="3.2"/>
<circle cx="278.1" cy="425.2" r="11" fill="#0000ff" fill-opacity="0.8"/>
<line x1="270.3" y1="425.2" x2="285.9" y2="425.2" stroke="#fff" stroke-width="3.2"/>
<circle cx="298.7" cy="417.6" r="11" fill="#0000ff" fill-opacity="0.8"/>
<line x1="290.9" y1="417.6" x2="306.5" y2="417.6" stroke="#fff" stroke-width="3.2"/>
<circle cx="233.5" cy="442.4" r="11" fill="#0000ff" fill-opacity="0.8"/>
<line x1="225.7" y1="442.4" x2="241.3" y2="442.4" stroke="#fff" stroke-width="3.2"/>
<circle cx="263.4" cy="440.7" r="11" fill="#0000ff" fill-opacity="0.8"/>
<line x1="255.6" y1="440.7" x2="271.2" y2="440.7" stroke="#fff" stroke-width="3.2"/>
<circle cx="246.5" cy="455.9" r="11" fill="#0000ff" fill-opacity="0.8"/>
<line x1="238.7" y1="455.9" x2="254.3" y2="455.9" stroke="#fff" stroke-width="3.2"/>
<circle cx="234.3" cy="474.8" r="11" fill="#0000ff" fill-opacity="0.8"/>
<line x1="226.5" y1="474.8" x2="242.1" y2="474.8" stroke="#fff" stroke-width="3.2"/>
<g stroke-width="2.3"><line x1="748.4" y1="12.8" x2="761" y2="12.9" stroke="#e2e21a"/><line x1="761" y1="12.9" x2="773.6" y2="12.9" stroke="#d2d2d2"/><line x1="815.1" y1="12.9" x2="827.7" y2="13" stroke="#e2e21a"/><line x1="827.7" y1="13" x2="840.3" y2="13" stroke="#d2d2d2"/><line x1="881.8" y1="13" x2="894.4" y2="13.1" stroke="#e2e21a"/><line x1="894.4" y1="13.1" x2="907" y2="13.1" stroke="#d2d2d2"/><line x1="948.5" y1="13.1" x2="961.1" y2="13.1" stroke="#e2e21a"/><line x1="961.1" y1="13.1" x2="973.7" y2="13.2" stroke="#d2d2d2"/><line x1="1015.2" y1="13.2" x2="1027.8" y2="13.2" stroke="#e2e21a"/><line x1="1027.8" y1="13.2" x2="1040.4" y2="13.3" stroke="#d2d2d2"/><line x1="1081.8" y1="13.3" x2="1094.4" y2="13.3" stroke="#e2e21a"/><line x1="1094.4" y1="13.3" x2="1107" y2="13.3" stroke="#d2d2d2"/><line x1="1148.6" y1="13.4" x2="1161.2" y2="13.4" stroke="#e2e21a"/><line x1="1161.2" y1="13.4" x2="1173.8" y2="13.4" stroke="#d2d2d2"/><line x1="715" y1="32" x2="727.6" y2="32" stroke="#9c9cf2"/><line x1="727.6" y1="32" x2="740.2" y2="32" stroke="#d2d2d2"/><line x1="781.7" y1="32.1" x2="794.3" y2="32.1" stroke="#9c9cf2"/><line x1="794.3" y1="32.1" x2="806.9" y2="32.1" stroke="#d2d2d2"/><line x1="848.4" y1="32.2" x2="861" y2="32.2" stroke="#9c9cf2"/><line x1="861" y1="32.2" x2="873.6" y2="32.2" stroke="#d2d2d2"/><line x1="915.1" y1="32.3" x2="927.7" y2="32.3" stroke="#e2e21a"/><line x1="927.7" y1="32.3" x2="940.3" y2="32.3" stroke="#d2d2d2"/><line x1="981.8" y1="32.4" x2="994.4" y2="32.4" stroke="#e2e21a"/><line x1="994.4" y1="32.4" x2="1007" y2="32.4" stroke="#d2d2d2"/><line x1="1048.5" y1="32.5" x2="1061.1" y2="32.5" stroke="#e2e21a"/><line x1="1061.1" y1="32.5" x2="1073.7" y2="32.5" stroke="#d2d2d2"/><line x1="1115.2" y1="32.6" x2="1127.8" y2="32.6" stroke="#e2e21a"/><line x1="1127.8" y1="32.6" x2="1140.4" y2="32.6" stroke="#d2d2d2"/><line x1="1181.9" y1="32.7" x2="1194.5" y2="32.7" stroke="#e2e21a"/><line x1="1194.5" y1="32.7" x2="1207.1" y2="32.7" stroke="#d2d2d2"/><line x1="748.4" y1="58" x2="761" y2="58.1" stroke="#e2e21a"/><line x1="761" y1="58.1" x2="773.6" y2="58.1" stroke="#d2d2d2"/><line x1="815.1" y1="58.1" x2="827.7" y2="58.2" stroke="#e2e21a"/><line x1="827.7" y1="58.2" x2="840.3" y2="58.2" stroke="#d2d2d2"/><line x1="881.8" y1="58.2" x2="894.4" y2="58.3" stroke="#e2e21a"/><line x1="894.4" y1="58.3" x2="907" y2="58.3" stroke="#d2d2d2"/><line x1="948.5" y1="58.3" x2="961.1" y2="58.3" stroke="#e2e21a"/><line x1="961.1" y1="58.3" x2="973.7" y2="58.4" stroke="#d2d2d2"/><line x1="1015.2" y1="58.4" x2="1027.8" y2="58.4" stroke="#e2e21a"/><line x1="1027.8" y1="58.4" x2="1040.4" y2="58.5" stroke="#d2d2d2"/><line x1="1081.8" y1="58.5" x2="1094.4" y2="58.5" stroke="#e2e21a"/><line x1="1094.4" y1="58.5" x2="1107" y2="58.5" stroke="#d2d2d2"/><line x1="1148.6" y1="58.6" x2="1161.2" y2="58.6" stroke="#e2e21a"/><line x1="1161.2" y1="58.6" x2="1173.8" y2="58.6" stroke="#d2d2d2"/><line x1="715" y1="77.2" x2="727.6" y2="77.2" stroke="#e2e21a"/><line x1="727.6" y1="77.2" x2="740.2" y2="77.2" stroke="#d2d2d2"/><line x1="781.7" y1="77.3" x2="794.3" y2="77.3" stroke="#e2e21a"/><line x1="794.3" y1="77.3" x2="806.9" y2="77.3" stroke="#d2d2d2"/><line x1="848.4" y1="77.4" x2="861" y2="77.4" stroke="#e2e21a"/><line x1="861" y1="77.4" x2="873.6" y2="77.4" stroke="#d2d2d2"/><line x1="915.1" y1="77.5" x2="927.7" y2="77.5" stroke="#e2e21a"/><line x1="927.7" y1="77.5" x2="940.3" y2="77.5" stroke="#d2d2d2"/><line x1="981.8" y1="77.6" x2="994.4" y2="77.6" stroke="#e2e21a"/><line x1="994.4" y1="77.6" x2="1007" y2="77.6" stroke="#d2d2d2"/><line x1="1048.5" y1="77.7" x2="1061.1" y2="77.7" stroke="#e2e21a"/><line x1="1061.1" y1="77.7" x2="1073.7" y2="77.7" stroke="#d2d2d2"/><line x1="1115.2" y1="77.8" x2="1127.8" y2="77.8" stroke="#e2e21a"/><line x1="1127.8" y1="77.8" x2="1140.4" y2="77.8" stroke="#d2d2d2"/><line x1="1181.9" y1="77.9" x2="1194.5" y2="77.9" stroke="#e2e21a"/><line x1="1194.5" y1="77.9" x2="1207.1" y2="77.9" stroke="#d2d2d2"/><line x1="748.4" y1="103.2" x2="761" y2="103.3" stroke="#9c9cf2"/><line x1="761" y1="103.3" x2="773.6" y2="103.3" stroke="#d2d2d2"/><line x1="815.1" y1="103.3" x2="827.7" y2="103.4" stroke="#9c9cf2"/><line x1="827.7" y1="103.4" x2="840.3" y2="103.4" stroke="#d2d2d2"/><line x1="881.8" y1="103.4" x2="894.4" y2="103.5" stroke="#e2e21a"/><line x1="894.4" y1="103.5" x2="907" y2="103.5" stroke="#d2d2d2"/><line x1="948.5" y1="103.5" x2="961.1" y2="103.5" stroke="#e2e21a"/><line x1="961.1" y1="103.5" x2="973.7" y2="103.6" stroke="#d2d2d2"/><line x1="1015.2" y1="103.6" x2="1027.8" y2="103.6" stroke="#e2e21a"/><line x1="1027.8" y1="103.6" x2="1040.4" y2="103.7" stroke="#d2d2d2"/><line x1="1081.8" y1="103.7" x2="1094.4" y2="103.7" stroke="#e2e21a"/><line x1="1094.4" y1="103.7" x2="1107" y2="103.7" stroke="#d2d2d2"/><line x1="1148.6" y1="103.8" x2="1161.2" y2="103.8" stroke="#e2e21a"/><line x1="1161.2" y1="103.8" x2="1173.8" y2="103.8" stroke="#d2d2d2"/><line x1="706.9" y1="12.8" x2="710.9" y2="22.4" stroke="#d2d2d2"/><line x1="710.9" y1="22.4" x2="715" y2="32" stroke="#9c9cf2"/><line x1="773.6" y1="12.9" x2="777.6" y2="22.5" stroke="#d2d2d2"/><line x1="777.6" y1="22.5" x2="781.7" y2="32.1" stroke="#9c9cf2"/><line x1="748.4" y1="12.8" x2="744.3" y2="22.4" stroke="#e2e21a"/><line x1="744.3" y1="22.4" x2="740.2" y2="32" stroke="#d2d2d2"/><line x1="840.3" y1="13" x2="844.3" y2="22.6" stroke="#d2d2d2"/><line x1="844.3" y1="22.6" x2="848.4" y2="32.2" stroke="#9c9cf2"/><line x1="815.1" y1="12.9" x2="811" y2="22.5" stroke="#e2e21a"/><line x1="811" y1="22.5" x2="806.9" y2="32.1" stroke="#d2d2d2"/><line x1="907" y1="13.1" x2="911" y2="22.7" stroke="#d2d2d2"/><line x1="911" y1="22.7" x2="915.1" y2="32.3" stroke="#e2e21a"/><line x1="881.8" y1="13" x2="877.7" y2="22.6" stroke="#e2e21a"/><line x1="877.7" y1="22.6" x2="873.6" y2="32.2" stroke="#d2d2d2"/><line x1="973.7" y1="13.2" x2="977.7" y2="22.8" stroke="#d2d2d2"/><line x1="977.7" y1="22.8" x2="981.8" y2="32.4" stroke="#e2e21a"/><line x1="948.5" y1="13.1" x2="944.4" y2="22.7" stroke="#e2e21a"/><line x1="944.4" y1="22.7" x2="940.3" y2="32.3" stroke="#d2d2d2"/><line x1="1040.4" y1="13.3" x2="1044.4" y2="22.9" stroke="#d2d2d2"/><line x1="1044.4" y1="22.9" x2="1048.5" y2="32.5" stroke="#e2e21a"/><line x1="1015.2" y1="13.2" x2="1011.1" y2="22.8" stroke="#e2e21a"/><line x1="1011.1" y1="22.8" x2="1007" y2="32.4" stroke="#d2d2d2"/><line x1="1107" y1="13.3" x2="1111.1" y2="23" stroke="#d2d2d2"/><line x1="1111.1" y1="23" x2="1115.2" y2="32.6" stroke="#e2e21a"/><line x1="1081.8" y1="13.3" x2="1077.8" y2="22.9" stroke="#e2e21a"/><line x1="1077.8" y1="22.9" x2="1073.7" y2="32.5" stroke="#d2d2d2"/><line x1="1173.8" y1="13.4" x2="1177.8" y2="23" stroke="#d2d2d2"/><line x1="1177.8" y1="23" x2="1181.9" y2="32.7" stroke="#e2e21a"/><line x1="1148.6" y1="13.4" x2="1144.5" y2="23" stroke="#e2e21a"/><line x1="1144.5" y1="23" x2="1140.4" y2="32.6" stroke="#d2d2d2"/><line x1="1215.2" y1="13.5" x2="1211.2" y2="23.1" stroke="#e2e21a"/><line x1="1211.2" y1="23.1" x2="1207.1" y2="32.7" stroke="#d2d2d2"/><line x1="706.9" y1="58" x2="710.9" y2="45" stroke="#d2d2d2"/><line x1="710.9" y1="45" x2="715" y2="32" stroke="#9c9cf2"/><line x1="773.6" y1="58.1" x2="777.6" y2="45.1" stroke="#d2d2d2"/><line x1="777.6" y1="45.1" x2="781.7" y2="32.1" stroke="#9c9cf2"/><line x1="748.4" y1="58" x2="744.3" y2="45" stroke="#e2e21a"/><line x1="744.3" y1="45" x2="740.2" y2="32" stroke="#d2d2d2"/><line x1="840.3" y1="58.2" x2="844.3" y2="45.2" stroke="#d2d2d2"/><line x1="844.3" y1="45.2" x2="848.4" y2="32.2" stroke="#9c9cf2"/><line x1="815.1" y1="58.1" x2="811" y2="45.1" stroke="#e2e21a"/><line x1="811" y1="45.1" x2="806.9" y2="32.1" stroke="#d2d2d2"/><line x1="907" y1="58.3" x2="911" y2="45.3" stroke="#d2d2d2"/><line x1="911" y1="45.3" x2="915.1" y2="32.3" stroke="#e2e21a"/><line x1="881.8" y1="58.2" x2="877.7" y2="45.2" stroke="#e2e21a"/><line x1="877.7" y1="45.2" x2="873.6" y2="32.2" stroke="#d2d2d2"/><line x1="973.7" y1="58.4" x2="977.7" y2="45.4" stroke="#d2d2d2"/><line x1="977.7" y1="45.4" x2="981.8" y2="32.4" stroke="#e2e21a"/><line x1="948.5" y1="58.3" x2="944.4" y2="45.3" stroke="#e2e21a"/><line x1="944.4" y1="45.3" x2="940.3" y2="32.3" stroke="#d2d2d2"/><line x1="1040.4" y1="58.5" x2="1044.4" y2="45.5" stroke="#d2d2d2"/><line x1="1044.4" y1="45.5" x2="1048.5" y2="32.5" stroke="#e2e21a"/><line x1="1015.2" y1="58.4" x2="1011.1" y2="45.4" stroke="#e2e21a"/><line x1="1011.1" y1="45.4" x2="1007" y2="32.4" stroke="#d2d2d2"/><line x1="1107" y1="58.5" x2="1111.1" y2="45.6" stroke="#d2d2d2"/><line x1="1111.1" y1="45.6" x2="1115.2" y2="32.6" stroke="#e2e21a"/><line x1="1081.8" y1="58.5" x2="1077.8" y2="45.5" stroke="#e2e21a"/><line x1="1077.8" y1="45.5" x2="1073.7" y2="32.5" stroke="#d2d2d2"/><line x1="1173.8" y1="58.6" x2="1177.8" y2="45.6" stroke="#d2d2d2"/><line x1="1177.8" y1="45.6" x2="1181.9" y2="32.7" stroke="#e2e21a"/><line x1="1148.6" y1="58.6" x2="1144.5" y2="45.6" stroke="#e2e21a"/><line x1="1144.5" y1="45.6" x2="1140.4" y2="32.6" stroke="#d2d2d2"/><line x1="1215.2" y1="58.7" x2="1211.2" y2="45.7" stroke="#e2e21a"/><line x1="1211.2" y1="45.7" x2="1207.1" y2="32.7" stroke="#d2d2d2"/><line x1="706.9" y1="58" x2="710.9" y2="67.6" stroke="#d2d2d2"/><line x1="710.9" y1="67.6" x2="715" y2="77.2" stroke="#e2e21a"/><line x1="773.6" y1="58.1" x2="777.6" y2="67.7" stroke="#d2d2d2"/><line x1="777.6" y1="67.7" x2="781.7" y2="77.3" stroke="#e2e21a"/><line x1="748.4" y1="58" x2="744.3" y2="67.6" stroke="#e2e21a"/><line x1="744.3" y1="67.6" x2="740.2" y2="77.2" stroke="#d2d2d2"/><line x1="840.3" y1="58.2" x2="844.3" y2="67.8" stroke="#d2d2d2"/><line x1="844.3" y1="67.8" x2="848.4" y2="77.4" stroke="#e2e21a"/><line x1="815.1" y1="58.1" x2="811" y2="67.7" stroke="#e2e21a"/><line x1="811" y1="67.7" x2="806.9" y2="77.3" stroke="#d2d2d2"/><line x1="907" y1="58.3" x2="911" y2="67.9" stroke="#d2d2d2"/><line x1="911" y1="67.9" x2="915.1" y2="77.5" stroke="#e2e21a"/><line x1="881.8" y1="58.2" x2="877.7" y2="67.8" stroke="#e2e21a"/><line x1="877.7" y1="67.8" x2="873.6" y2="77.4" stroke="#d2d2d2"/><line x1="973.7" y1="58.4" x2="977.7" y2="68" stroke="#d2d2d2"/><line x1="977.7" y1="68" x2="981.8" y2="77.6" stroke="#e2e21a"/><line x1="948.5" y1="58.3" x2="944.4" y2="67.9" stroke="#e2e21a"/><line x1="944.4" y1="67.9" x2="940.3" y2="77.5" stroke="#d2d2d2"/><line x1="1040.4" y1="58.5" x2="1044.4" y2="68.1" stroke="#d2d2d2"/><line x1="1044.4" y1="68.1" x2="1048.5" y2="77.7" stroke="#e2e21a"/><line x1="1015.2" y1="58.4" x2="1011.1" y2="68" stroke="#e2e21a"/><line x1="1011.1" y1="68" x2="1007" y2="77.6" stroke="#d2d2d2"/><line x1="1107" y1="58.5" x2="1111.1" y2="68.2" stroke="#d2d2d2"/><line x1="1111.1" y1="68.2" x2="1115.2" y2="77.8" stroke="#e2e21a"/><line x1="1081.8" y1="58.5" x2="1077.8" y2="68.1" stroke="#e2e21a"/><line x1="1077.8" y1="68.1" x2="1073.7" y2="77.7" stroke="#d2d2d2"/><line x1="1173.8" y1="58.6" x2="1177.8" y2="68.2" stroke="#d2d2d2"/><line x1="1177.8" y1="68.2" x2="1181.9" y2="77.9" stroke="#e2e21a"/><line x1="1148.6" y1="58.6" x2="1144.5" y2="68.2" stroke="#e2e21a"/><line x1="1144.5" y1="68.2" x2="1140.4" y2="77.8" stroke="#d2d2d2"/><line x1="1215.2" y1="58.7" x2="1211.2" y2="68.3" stroke="#e2e21a"/><line x1="1211.2" y1="68.3" x2="1207.1" y2="77.9" stroke="#d2d2d2"/><line x1="706.9" y1="103.2" x2="710.9" y2="90.2" stroke="#d2d2d2"/><line x1="710.9" y1="90.2" x2="715" y2="77.2" stroke="#e2e21a"/><line x1="773.6" y1="103.3" x2="777.6" y2="90.3" stroke="#d2d2d2"/><line x1="777.6" y1="90.3" x2="781.7" y2="77.3" stroke="#e2e21a"/><line x1="748.4" y1="103.2" x2="744.3" y2="90.2" stroke="#9c9cf2"/><line x1="744.3" y1="90.2" x2="740.2" y2="77.2" stroke="#d2d2d2"/><line x1="840.3" y1="103.4" x2="844.3" y2="90.4" stroke="#d2d2d2"/><line x1="844.3" y1="90.4" x2="848.4" y2="77.4" stroke="#e2e21a"/><line x1="815.1" y1="103.3" x2="811" y2="90.3" stroke="#9c9cf2"/><line x1="811" y1="90.3" x2="806.9" y2="77.3" stroke="#d2d2d2"/><line x1="907" y1="103.5" x2="911" y2="90.5" stroke="#d2d2d2"/><line x1="911" y1="90.5" x2="915.1" y2="77.5" stroke="#e2e21a"/><line x1="881.8" y1="103.4" x2="877.7" y2="90.4" stroke="#e2e21a"/><line x1="877.7" y1="90.4" x2="873.6" y2="77.4" stroke="#d2d2d2"/><line x1="973.7" y1="103.6" x2="977.7" y2="90.6" stroke="#d2d2d2"/><line x1="977.7" y1="90.6" x2="981.8" y2="77.6" stroke="#e2e21a"/><line x1="948.5" y1="103.5" x2="944.4" y2="90.5" stroke="#e2e21a"/><line x1="944.4" y1="90.5" x2="940.3" y2="77.5" stroke="#d2d2d2"/><line x1="1040.4" y1="103.7" x2="1044.4" y2="90.7" stroke="#d2d2d2"/><line x1="1044.4" y1="90.7" x2="1048.5" y2="77.7" stroke="#e2e21a"/><line x1="1015.2" y1="103.6" x2="1011.1" y2="90.6" stroke="#e2e21a"/><line x1="1011.1" y1="90.6" x2="1007" y2="77.6" stroke="#d2d2d2"/><line x1="1107" y1="103.7" x2="1111.1" y2="90.8" stroke="#d2d2d2"/><line x1="1111.1" y1="90.8" x2="1115.2" y2="77.8" stroke="#e2e21a"/><line x1="1081.8" y1="103.7" x2="1077.8" y2="90.7" stroke="#e2e21a"/><line x1="1077.8" y1="90.7" x2="1073.7" y2="77.7" stroke="#d2d2d2"/><line x1="1173.8" y1="103.8" x2="1177.8" y2="90.8" stroke="#d2d2d2"/><line x1="1177.8" y1="90.8" x2="1181.9" y2="77.9" stroke="#e2e21a"/><line x1="1148.6" y1="103.8" x2="1144.5" y2="90.8" stroke="#e2e21a"/><line x1="1144.5" y1="90.8" x2="1140.4" y2="77.8" stroke="#d2d2d2"/><line x1="1215.2" y1="103.9" x2="1211.2" y2="90.9" stroke="#e2e21a"/><line x1="1211.2" y1="90.9" x2="1207.1" y2="77.9" stroke="#d2d2d2"/></g>
<g><ellipse cx="706.9" cy="12.8" rx="5.2" ry="5.5" fill="url(#gN)"/><ellipse cx="748.4" cy="12.8" rx="7.2" ry="7.6" fill="url(#gGa)"/><ellipse cx="773.6" cy="12.9" rx="5.2" ry="5.5" fill="url(#gN)"/><ellipse cx="815.1" cy="12.9" rx="7.2" ry="7.6" fill="url(#gGa)"/><ellipse cx="840.3" cy="13" rx="5.2" ry="5.5" fill="url(#gN)"/><ellipse cx="881.8" cy="13" rx="7.2" ry="7.6" fill="url(#gGa)"/><ellipse cx="907" cy="13.1" rx="5.2" ry="5.5" fill="url(#gN)"/><ellipse cx="948.5" cy="13.1" rx="7.2" ry="7.6" fill="url(#gGa)"/><ellipse cx="973.7" cy="13.2" rx="5.2" ry="5.5" fill="url(#gN)"/><ellipse cx="1015.2" cy="13.2" rx="7.2" ry="7.6" fill="url(#gGa)"/><ellipse cx="1040.4" cy="13.3" rx="5.2" ry="5.5" fill="url(#gN)"/><ellipse cx="1081.8" cy="13.3" rx="7.2" ry="7.6" fill="url(#gGa)"/><ellipse cx="1107" cy="13.3" rx="5.2" ry="5.5" fill="url(#gN)"/><ellipse cx="1148.6" cy="13.4" rx="7.2" ry="7.6" fill="url(#gGa)"/><ellipse cx="1173.8" cy="13.4" rx="5.2" ry="5.5" fill="url(#gN)"/><ellipse cx="1215.2" cy="13.5" rx="7.2" ry="7.6" fill="url(#gGa)"/><ellipse cx="715" cy="32" rx="7.2" ry="7.6" fill="url(#gAl)"/><ellipse cx="740.2" cy="32" rx="5.2" ry="5.5" fill="url(#gN)"/><ellipse cx="781.7" cy="32.1" rx="7.2" ry="7.6" fill="url(#gAl)"/><ellipse cx="806.9" cy="32.1" rx="5.2" ry="5.5" fill="url(#gN)"/><ellipse cx="848.4" cy="32.2" rx="7.2" ry="7.6" fill="url(#gAl)"/><ellipse cx="873.6" cy="32.2" rx="5.2" ry="5.5" fill="url(#gN)"/><ellipse cx="915.1" cy="32.3" rx="7.2" ry="7.6" fill="url(#gGa)"/><ellipse cx="940.3" cy="32.3" rx="5.2" ry="5.5" fill="url(#gN)"/><ellipse cx="981.8" cy="32.4" rx="7.2" ry="7.6" fill="url(#gGa)"/><ellipse cx="1007" cy="32.4" rx="5.2" ry="5.5" fill="url(#gN)"/><ellipse cx="1048.5" cy="32.5" rx="7.2" ry="7.6" fill="url(#gGa)"/><ellipse cx="1073.7" cy="32.5" rx="5.2" ry="5.5" fill="url(#gN)"/><ellipse cx="1115.2" cy="32.6" rx="7.2" ry="7.6" fill="url(#gGa)"/><ellipse cx="1140.4" cy="32.6" rx="5.2" ry="5.5" fill="url(#gN)"/><ellipse cx="1181.9" cy="32.7" rx="7.2" ry="7.6" fill="url(#gGa)"/><ellipse cx="1207.1" cy="32.7" rx="5.2" ry="5.5" fill="url(#gN)"/><ellipse cx="706.9" cy="58" rx="5.2" ry="5.5" fill="url(#gN)"/><ellipse cx="748.4" cy="58" rx="7.2" ry="7.6" fill="url(#gGa)"/><ellipse cx="773.6" cy="58.1" rx="5.2" ry="5.5" fill="url(#gN)"/><ellipse cx="815.1" cy="58.1" rx="7.2" ry="7.6" fill="url(#gGa)"/><ellipse cx="840.3" cy="58.2" rx="5.2" ry="5.5" fill="url(#gN)"/><ellipse cx="881.8" cy="58.2" rx="7.2" ry="7.6" fill="url(#gGa)"/><ellipse cx="907" cy="58.3" rx="5.2" ry="5.5" fill="url(#gN)"/><ellipse cx="948.5" cy="58.3" rx="7.2" ry="7.6" fill="url(#gGa)"/><ellipse cx="973.7" cy="58.4" rx="5.2" ry="5.5" fill="url(#gN)"/><ellipse cx="1015.2" cy="58.4" rx="7.2" ry="7.6" fill="url(#gGa)"/><ellipse cx="1040.4" cy="58.5" rx="5.2" ry="5.5" fill="url(#gN)"/><ellipse cx="1081.8" cy="58.5" rx="7.2" ry="7.6" fill="url(#gGa)"/><ellipse cx="1107" cy="58.5" rx="5.2" ry="5.5" fill="url(#gN)"/><ellipse cx="1148.6" cy="58.6" rx="7.2" ry="7.6" fill="url(#gGa)"/><ellipse cx="1173.8" cy="58.6" rx="5.2" ry="5.5" fill="url(#gN)"/><ellipse cx="1215.2" cy="58.7" rx="7.2" ry="7.6" fill="url(#gGa)"/><ellipse cx="715" cy="77.2" rx="7.2" ry="7.6" fill="url(#gGa)"/><ellipse cx="740.2" cy="77.2" rx="5.2" ry="5.5" fill="url(#gN)"/><ellipse cx="781.7" cy="77.3" rx="7.2" ry="7.6" fill="url(#gGa)"/><ellipse cx="806.9" cy="77.3" rx="5.2" ry="5.5" fill="url(#gN)"/><ellipse cx="848.4" cy="77.4" rx="7.2" ry="7.6" fill="url(#gGa)"/><ellipse cx="873.6" cy="77.4" rx="5.2" ry="5.5" fill="url(#gN)"/><ellipse cx="915.1" cy="77.5" rx="7.2" ry="7.6" fill="url(#gGa)"/><ellipse cx="940.3" cy="77.5" rx="5.2" ry="5.5" fill="url(#gN)"/><ellipse cx="981.8" cy="77.6" rx="7.2" ry="7.6" fill="url(#gGa)"/><ellipse cx="1007" cy="77.6" rx="5.2" ry="5.5" fill="url(#gN)"/><ellipse cx="1048.5" cy="77.7" rx="7.2" ry="7.6" fill="url(#gGa)"/><ellipse cx="1073.7" cy="77.7" rx="5.2" ry="5.5" fill="url(#gN)"/><ellipse cx="1115.2" cy="77.8" rx="7.2" ry="7.6" fill="url(#gGa)"/><ellipse cx="1140.4" cy="77.8" rx="5.2" ry="5.5" fill="url(#gN)"/><ellipse cx="1181.9" cy="77.9" rx="7.2" ry="7.6" fill="url(#gGa)"/><ellipse cx="1207.1" cy="77.9" rx="5.2" ry="5.5" fill="url(#gN)"/><ellipse cx="706.9" cy="103.2" rx="5.2" ry="5.5" fill="url(#gN)"/><ellipse cx="748.4" cy="103.2" rx="7.2" ry="7.6" fill="url(#gAl)"/><ellipse cx="773.6" cy="103.3" rx="5.2" ry="5.5" fill="url(#gN)"/><ellipse cx="815.1" cy="103.3" rx="7.2" ry="7.6" fill="url(#gAl)"/><ellipse cx="840.3" cy="103.4" rx="5.2" ry="5.5" fill="url(#gN)"/><ellipse cx="881.8" cy="103.4" rx="7.2" ry="7.6" fill="url(#gGa)"/><ellipse cx="907" cy="103.5" rx="5.2" ry="5.5" fill="url(#gN)"/><ellipse cx="948.5" cy="103.5" rx="7.2" ry="7.6" fill="url(#gGa)"/><ellipse cx="973.7" cy="103.6" rx="5.2" ry="5.5" fill="url(#gN)"/><ellipse cx="1015.2" cy="103.6" rx="7.2" ry="7.6" fill="url(#gGa)"/><ellipse cx="1040.4" cy="103.7" rx="5.2" ry="5.5" fill="url(#gN)"/><ellipse cx="1081.8" cy="103.7" rx="7.2" ry="7.6" fill="url(#gGa)"/><ellipse cx="1107" cy="103.7" rx="5.2" ry="5.5" fill="url(#gN)"/><ellipse cx="1148.6" cy="103.8" rx="7.2" ry="7.6" fill="url(#gGa)"/><ellipse cx="1173.8" cy="103.8" rx="5.2" ry="5.5" fill="url(#gN)"/><ellipse cx="1215.2" cy="103.9" rx="7.2" ry="7.6" fill="url(#gGa)"/></g>
<line x1="852.3" y1="7" x2="852.3" y2="156.3" stroke="#5a6987" stroke-width="2.6" stroke-dasharray="8.3 5.8"/>
<text x="741.1" y="135.4" font-family="'Liberation Serif', 'Times New Roman', serif" font-size="29.92" font-style="italic" textLength="15.15" lengthAdjust="spacingAndGlyphs" stroke="#000" stroke-width="0.5">P</text>
<text x="760.4" y="124.6" font-family="'Liberation Serif', 'Times New Roman', serif" font-size="19.45" font-style="italic" textLength="58.16" lengthAdjust="spacingAndGlyphs" stroke="#000" stroke-width="0.45">AlGaN</text>
<text x="753.6" y="140.4" font-family="'Liberation Serif', 'Times New Roman', serif" font-size="22.08" font-style="italic" textLength="21.20" lengthAdjust="spacingAndGlyphs" stroke="#000" stroke-width="0.45">pz</text>
<line x1="728.1" y1="149" x2="819.1" y2="149" stroke="#000" stroke-width="3.2"/>
<path d="M827.5 149L818.1 144.2L818.1 153.8z" fill="#000"/>
<text x="904.1" y="136.8" font-family="'Liberation Serif', 'Times New Roman', serif" font-size="29.92" font-style="italic" textLength="15.15" lengthAdjust="spacingAndGlyphs" stroke="#000" stroke-width="0.5">P</text>
<text x="922.2" y="126" font-family="'Liberation Serif', 'Times New Roman', serif" font-size="20.39" font-style="italic" stroke="#000" stroke-width="0.45">GaN</text>
<text x="916.6" y="141.8" font-family="'Liberation Serif', 'Times New Roman', serif" font-size="22.08" font-style="italic" textLength="21.20" lengthAdjust="spacingAndGlyphs" stroke="#000" stroke-width="0.45">pz</text>
<line x1="888.4" y1="148.6" x2="978.1" y2="148.6" stroke="#000" stroke-width="3.2"/>
<path d="M986.5 148.6L977.1 143.8L977.1 153.4z" fill="#000"/>
<rect x="700.6" y="160.7" width="532.1" height="60.6" fill="url(#bar2b)" stroke="#a4521e" stroke-width="2.3"/>
<rect x="701.7" y="161.8" width="149.6" height="58.4" fill="url(#bar2a)"/>
<line x1="703.7" y1="173" x2="721.1" y2="173" stroke="#000" stroke-width="3.4"/>
<line x1="703.7" y1="192" x2="721.1" y2="192" stroke="#000" stroke-width="3.4"/>
<line x1="703.7" y1="208.5" x2="721.1" y2="208.5" stroke="#000" stroke-width="3.4"/>
<path d="M828 170.5H844M836 162.5V178.5" stroke="#000" stroke-width="3.2" fill="none"/>
<path d="M828 189.4H844M836 181.4V197.4" stroke="#000" stroke-width="3.2" fill="none"/>
<path d="M828 209.7H844M836 201.7V217.7" stroke="#000" stroke-width="3.2" fill="none"/>
<line x1="854" y1="176.4" x2="870" y2="176.4" stroke="#000" stroke-width="3.2"/>
<line x1="854" y1="205.6" x2="870" y2="205.6" stroke="#000" stroke-width="3.2"/>
<path d="M1211 174.5H1227M1219 166.5V182.5" stroke="#000" stroke-width="3.2" fill="none"/>
<path d="M1211 204.3H1227M1219 196.3V212.3" stroke="#000" stroke-width="3.2" fill="none"/>
<text x="733" y="254.5" font-family="'Liberation Serif', 'Times New Roman', serif" font-size="29.92" font-style="italic" textLength="15.15" lengthAdjust="spacingAndGlyphs" stroke="#000" stroke-width="0.5">P</text>
<text x="752.3" y="243.7" font-family="'Liberation Serif', 'Times New Roman', serif" font-size="19.45" font-style="italic" textLength="58.16" lengthAdjust="spacingAndGlyphs" stroke="#000" stroke-width="0.45">AlGaN</text>
<text x="743.5" y="259.5" font-family="'Liberation Serif', 'Times New Roman', serif" font-size="22.29" font-style="italic" textLength="22.10" lengthAdjust="spacingAndGlyphs" stroke="#000" stroke-width="0.45">sp</text>
<line x1="732.9" y1="266.6" x2="823.2" y2="266.6" stroke="#000" stroke-width="3.2"/>
<path d="M831.6 266.6L822.2 261.8L822.2 271.4z" fill="#000"/>
<text x="734.3" y="299.1" font-family="'Liberation Serif', 'Times New Roman', serif" font-size="29.92" font-style="italic" textLength="15.15" lengthAdjust="spacingAndGlyphs" stroke="#000" stroke-width="0.5">P</text>
<text x="753.6" y="288.3" font-family="'Liberation Serif', 'Times New Roman', serif" font-size="19.45" font-style="italic" textLength="58.16" lengthAdjust="spacingAndGlyphs" stroke="#000" stroke-width="0.45">AlGaN</text>
<text x="748.2" y="304.1" font-family="'Liberation Serif', 'Times New Roman', serif" font-size="19.88" font-style="italic" textLength="25.00" lengthAdjust="spacingAndGlyphs" stroke="#000" stroke-width="0.45">lm</text>
<line x1="732.9" y1="309.2" x2="823.2" y2="309.2" stroke="#000" stroke-width="3.2"/>
<path d="M831.6 309.2L822.2 304.4L822.2 314z" fill="#000"/>
<text x="898.6" y="254.5" font-family="'Liberation Serif', 'Times New Roman', serif" font-size="29.92" font-style="italic" textLength="15.15" lengthAdjust="spacingAndGlyphs" stroke="#000" stroke-width="0.5">P</text>
<text x="916.7" y="243.7" font-family="'Liberation Serif', 'Times New Roman', serif" font-size="20.39" font-style="italic" stroke="#000" stroke-width="0.45">GaN</text>
<text x="909.1" y="259.5" font-family="'Liberation Serif', 'Times New Roman', serif" font-size="22.29" font-style="italic" textLength="22.10" lengthAdjust="spacingAndGlyphs" stroke="#000" stroke-width="0.45">sp</text>
<line x1="883.7" y1="266.6" x2="973.3" y2="266.6" stroke="#000" stroke-width="3.2"/>
<path d="M981.7 266.6L972.3 261.8L972.3 271.4z" fill="#000"/>
<line x1="854.3" y1="324" x2="854.3" y2="717" stroke="#3a3a3a" stroke-width="2.4" stroke-dasharray="15.4 6.9"/>
<line x1="707.4" y1="439" x2="1224" y2="439" stroke="#3a3a3a" stroke-width="2.4" stroke-dasharray="15.9 6.4"/>
<g fill="none" stroke="#000" stroke-width="2.4" stroke-dasharray="8.5 5">
<path d="M708 358.7Q800 368 852 397"/>
<path d="M853.5 530C856.1 438.9 988 404.8 1060 404L1100 403.4"/>
<path d="M708 642.8Q800 652 852 682"/>
<path d="M853.5 676C856.1 584.9 988 550.8 1060 550L1100 549.3"/>
</g>
<g fill="none" stroke="#000" stroke-width="3.6">
<path d="M708 358.7Q810 370 852 411.4"/>
<path d="M853.5 535.6C873.5 442 1041.3 406 1120 403.1L1234 401.3"/>
<path d="M708 642.8Q810 655 852 695.5"/>
<path d="M853.5 680.1C873.5 586.5 1041.3 550.5 1120 547.6L1234 546.6"/>
</g>
<text x="731.6" y="429" font-family="'Liberation Serif', 'Times New Roman', serif" font-size="36.34" font-style="italic" textLength="18.14" lengthAdjust="spacingAndGlyphs" stroke="#000" stroke-width="0.5">E</text>
<text x="750.7" y="435.8" font-family="'Liberation Serif', 'Times New Roman', serif" font-size="23.66" font-style="italic" textLength="13.56" lengthAdjust="spacingAndGlyphs" stroke="#000" stroke-width="0.4">F</text>
<text x="894.7" y="368.1" font-family="'Liberation Sans', Arial, sans-serif" font-size="34.53" textLength="89.71" lengthAdjust="spacingAndGlyphs">2DEG</text>
<text x="1108.4" y="390.2" font-family="'Liberation Sans', Arial, sans-serif" font-size="37.11" font-style="italic" textLength="44.11" lengthAdjust="spacingAndGlyphs">CB</text>
<text x="1110" y="539.5" font-family="'Liberation Sans', Arial, sans-serif" font-size="34.88" font-style="italic" textLength="40.90" lengthAdjust="spacingAndGlyphs">VB</text>
<text x="1126.9" y="677.5" font-family="'Liberation Sans', Arial, sans-serif" font-size="28.80" textLength="91.99" lengthAdjust="spacingAndGlyphs">&lt;0001&gt;</text>
<line x1="1234.4" y1="689.8" x2="1125.3" y2="689.8" stroke="#000" stroke-width="2.8"/>
<path d="M1116.6 689.8L1126.3 685L1126.3 694.5z" fill="#000"/>
<line x1="669.6" y1="362.2" x2="697" y2="362.2" stroke="#2600b2" stroke-width="5.8"/>
<line x1="669.6" y1="417.8" x2="697" y2="417.8" stroke="#2600b2" stroke-width="5.8"/>
<line x1="669.6" y1="473.8" x2="697" y2="473.8" stroke="#2600b2" stroke-width="5.8"/>
<line x1="669.6" y1="528.8" x2="697" y2="528.8" stroke="#2600b2" stroke-width="5.8"/>
<line x1="669.6" y1="584.8" x2="697" y2="584.8" stroke="#2600b2" stroke-width="5.8"/>
<line x1="669.6" y1="641" x2="697" y2="641" stroke="#2600b2" stroke-width="5.8"/>
<path d="M818.2 415.8H849.8M834 400.1V431.6" stroke="#c80000" stroke-width="5.3" fill="none"/>
<path d="M818.2 463H849.8M834 447.2V478.8" stroke="#c80000" stroke-width="5.3" fill="none"/>
<path d="M818.2 513H849.8M834 497.2V528.8" stroke="#c80000" stroke-width="5.3" fill="none"/>
<path d="M818.2 563.6H849.8M834 547.9V579.4" stroke="#c80000" stroke-width="5.3" fill="none"/>
<path d="M818.2 612.9H849.8M834 597.1V628.6" stroke="#c80000" stroke-width="5.3" fill="none"/>
<path d="M818.2 656.4H849.8M834 640.6V672.1" stroke="#c80000" stroke-width="5.3" fill="none"/>
<line x1="860" y1="554" x2="886" y2="554" stroke="#2600b2" stroke-width="5.8"/>
<line x1="860" y1="612.3" x2="886" y2="612.3" stroke="#2600b2" stroke-width="5.8"/>
<path d="M1201.2 457.8H1232.2M1216.7 442.3V473.3" stroke="#c80000" stroke-width="6" fill="none"/>
<path d="M1198.3 505.7H1229.3M1213.8 490.2V521.2" stroke="#c80000" stroke-width="6" fill="none"/>
<circle cx="867.4" cy="410" r="11.6" fill="#0000ff" fill-opacity="0.8"/>
<line x1="859.6" y1="410" x2="875.2" y2="410" stroke="#fff" stroke-width="3.2"/>
<circle cx="892.9" cy="410" r="11.6" fill="#0000ff" fill-opacity="0.8"/>
<line x1="885.1" y1="410" x2="900.7" y2="410" stroke="#fff" stroke-width="3.2"/>
<circle cx="912.3" cy="398.4" r="11.6" fill="#0000ff" fill-opacity="0.8"/>
<line x1="904.5" y1="398.4" x2="920.1" y2="398.4" stroke="#fff" stroke-width="3.2"/>
<circle cx="944.2" cy="399.9" r="11.6" fill="#0000ff" fill-opacity="0.8"/>
<line x1="936.4" y1="399.9" x2="952" y2="399.9" stroke="#fff" stroke-width="3.2"/>
<circle cx="929.7" cy="418.7" r="11.6" fill="#0000ff" fill-opacity="0.8"/>
<line x1="921.9" y1="418.7" x2="937.5" y2="418.7" stroke="#fff" stroke-width="3.2"/>
<circle cx="879" cy="427.4" r="11.6" fill="#0000ff" fill-opacity="0.8"/>
<line x1="871.2" y1="427.4" x2="886.8" y2="427.4" stroke="#fff" stroke-width="3.2"/>
<circle cx="908.8" cy="426" r="11.6" fill="#0000ff" fill-opacity="0.8"/>
<line x1="901" y1="426" x2="916.6" y2="426" stroke="#fff" stroke-width="3.2"/>
<circle cx="949.4" cy="425" r="11.6" fill="#0000ff" fill-opacity="0.8"/>
<line x1="941.6" y1="425" x2="957.2" y2="425" stroke="#fff" stroke-width="3.2"/>
<circle cx="978.4" cy="415.8" r="11.6" fill="#0000ff" fill-opacity="0.8"/>
<line x1="970.6" y1="415.8" x2="986.2" y2="415.8" stroke="#fff" stroke-width="3.2"/>
<circle cx="864.5" cy="443.3" r="11.6" fill="#0000ff" fill-opacity="0.8"/>
<line x1="856.7" y1="443.3" x2="872.3" y2="443.3" stroke="#fff" stroke-width="3.2"/>
<circle cx="894.3" cy="441.9" r="11.6" fill="#0000ff" fill-opacity="0.8"/>
<line x1="886.5" y1="441.9" x2="902.1" y2="441.9" stroke="#fff" stroke-width="3.2"/>
<circle cx="923.9" cy="444.2" r="11.6" fill="#0000ff" fill-opacity="0.8"/>
<line x1="916.1" y1="444.2" x2="931.7" y2="444.2" stroke="#fff" stroke-width="3.2"/>
<circle cx="877.5" cy="457.8" r="11.6" fill="#0000ff" fill-opacity="0.8"/>
<line x1="869.7" y1="457.8" x2="885.3" y2="457.8" stroke="#fff" stroke-width="3.2"/>
<circle cx="901.6" cy="456.4" r="11.6" fill="#0000ff" fill-opacity="0.8"/>
<line x1="893.8" y1="456.4" x2="909.4" y2="456.4" stroke="#fff" stroke-width="3.2"/>
<circle cx="881" cy="475.2" r="11.6" fill="#0000ff" fill-opacity="0.8"/>
<line x1="873.2" y1="475.2" x2="888.8" y2="475.2" stroke="#fff" stroke-width="3.2"/>
<circle cx="863.9" cy="488.3" r="11.6" fill="#0000ff" fill-opacity="0.8"/>
<line x1="856.1" y1="488.3" x2="871.7" y2="488.3" stroke="#fff" stroke-width="3.2"/>
<text x="1405.6" y="33.8" font-family="'Liberation Sans', Arial, sans-serif" font-size="34.24" textLength="149.10" lengthAdjust="spacingAndGlyphs">0 N stress</text>
<rect x="1370.5" y="84.6" width="461.3" height="63.8" fill="#00007a"/>
<rect x="1368.6" y="226.4" width="208.9" height="422.5" fill="#fbe5d6"/>
<rect x="1577.5" y="226.4" width="261.5" height="427.5" fill="#bdd7ee"/>
<polyline points="1368.6,298.6 1370.5,299.3 1372.4,300 1374.2,300.7 1376.1,301.5 1378,302.2 1379.9,302.9 1381.8,303.6 1383.7,304.4 1385.5,305.1 1387.4,305.8 1389.3,306.5 1391.2,307.3 1393.1,308 1394.9,308.7 1396.8,309.5 1398.7,310.2 1400.6,310.9 1402.5,311.6 1404.4,312.4 1406.2,313.1 1408.1,313.8 1410,314.5 1411.9,315.3 1413.8,316 1415.6,316.7 1417.5,317.4 1419.4,318.2 1421.3,318.9 1423.2,319.6 1425,320.3 1426.9,321.1 1428.8,321.8 1430.7,322.5 1432.6,323.2 1434.5,324 1436.3,324.7 1438.2,325.4 1440.1,326.1 1442,326.9 1443.9,327.6 1445.7,328.3 1447.6,329 1449.5,329.8 1451.4,330.5 1453.3,331.2 1455.2,332 1457,332.7 1458.9,333.4 1460.8,334.1 1462.7,334.9 1464.6,335.6 1466.4,336.3 1468.3,337 1470.2,337.8 1472.1,338.5 1474,339.2 1475.9,339.9 1477.7,340.7 1479.6,341.4 1481.5,342.1 1483.4,342.8 1485.3,343.6 1487.1,344.3 1489,345 1490.9,345.7 1492.8,346.5 1494.7,347.2 1496.5,347.9 1498.4,348.6 1500.3,349.4 1502.2,350.1 1504.1,350.8 1506,351.6 1507.8,352.3 1509.7,353 1511.6,353.7 1513.5,354.5 1515.4,355.2 1517.2,355.9 1519.1,356.6 1521,357.4 1522.9,358.1 1524.8,358.8 1526.7,359.5 1528.5,360.3 1530.4,361 1532.3,361.7 1534.2,362.4 1536.1,363.2 1537.9,363.9 1539.8,364.6 1541.7,365.3 1543.6,366.1 1545.5,366.8 1547.4,367.5 1549.2,368.2 1551.1,369 1553,369.7 1554.9,370.4 1556.8,371.1 1558.6,371.9 1560.5,372.6 1562.4,373.3 1564.3,374.1 1566.2,374.8 1568,375.5 1569.9,376.2 1571.8,377 1573.7,377.7 1576,378.6 1577.5,398.8 1577.9,398.3 1578.4,397.8 1578.9,397.3 1579.3,396.8 1579.8,396.3 1580.3,395.8 1580.8,395.4 1581.2,394.9 1581.7,394.5 1582.2,394.1 1582.6,393.7 1583.1,393.3 1583.6,392.9 1584,392.5 1584.5,392.1 1585,391.8 1585.5,391.4 1585.9,391.1 1586.4,390.8 1586.9,390.4 1587.3,390.1 1587.8,389.8 1588.3,389.5 1588.7,389.2 1589.2,389 1589.7,388.7 1590.2,388.4 1590.6,388.2 1591.1,387.9 1591.6,387.7 1592,387.4 1592.5,387.2 1593,386.9 1593.5,386.7 1593.9,386.5 1594.4,386.3 1594.9,386.1 1595.3,385.9 1595.8,385.7 1596.3,385.5 1596.7,385.3 1597.2,385.1 1597.7,385 1598.2,384.8 1598.6,384.6 1599.1,384.4 1599.6,384.3 1600,384.1 1600.5,384 1601,383.8 1601.4,383.7 1601.9,383.5 1602.4,383.4 1602.9,383.3 1603.3,383.1 1603.8,383 1604.3,382.9 1604.7,382.7 1605.2,382.6 1605.7,382.5 1607.6,382 1609.4,381.6 1611.3,381.2 1613.2,380.9 1615.1,380.6 1617,380.2 1618.9,380 1620.7,379.7 1622.6,379.4 1624.5,379.2 1626.4,379 1628.3,378.8 1630.1,378.6 1632,378.4 1633.9,378.2 1635.8,378 1637.7,377.8 1639.6,377.7 1641.4,377.5 1643.3,377.3 1645.2,377.2 1647.1,377 1649,376.9 1650.8,376.7 1652.7,376.6 1654.6,376.5 1656.5,376.3 1658.4,376.2 1660.2,376.1 1662.1,375.9 1664,375.8 1665.9,375.7 1667.8,375.5 1669.7,375.4 1671.5,375.3 1673.4,375.1 1675.3,375 1677.2,374.9 1679.1,374.8 1680.9,374.6 1682.8,374.5 1684.7,374.4 1686.6,374.3 1688.5,374.1 1690.4,374 1692.2,373.9 1694.1,373.8 1696,373.7 1697.9,373.5 1699.8,373.4 1701.6,373.3 1703.5,373.2 1705.4,373 1707.3,372.9 1709.2,372.8 1711.1,372.7 1712.9,372.5 1714.8,372.4 1716.7,372.3 1718.6,372.2 1720.5,372.1 1722.3,371.9 1724.2,371.8 1726.1,371.7 1728,371.6 1729.9,371.4 1731.7,371.3 1733.6,371.2 1735.5,371.1 1737.4,371 1739.3,370.8 1741.2,370.7 1743,370.6 1744.9,370.5 1746.8,370.3 1748.7,370.2 1750.6,370.1 1752.4,370 1754.3,369.9 1756.2,369.7 1758.1,369.6 1760,369.5 1761.9,369.4 1763.7,369.3 1765.6,369.1 1767.5,369 1769.4,368.9 1771.3,368.8 1773.1,368.6 1775,368.5 1776.9,368.4 1778.8,368.3 1780.7,368.2 1782.6,368 1784.4,367.9 1786.3,367.8 1788.2,367.7 1790.1,367.5 1792,367.4 1793.8,367.3 1795.7,367.2 1797.6,367.1 1799.5,366.9 1801.4,366.8 1803.2,366.7 1805.1,366.6 1807,366.4 1808.9,366.3 1810.8,366.2 1812.7,366.1 1814.5,366 1816.4,365.8 1818.3,365.7 1820.2,365.6 1822.1,365.5 1823.9,365.3 1825.8,365.2 1827.7,365.1 1829.6,365 1831.5,364.9 1833.4,364.7 1835.2,364.6 1837.1,364.5 1839,364.4" fill="none" stroke="#000" stroke-width="3.4" stroke-linejoin="round"/>
<polyline points="1368.6,531.7 1370.5,532.4 1372.4,533.1 1374.2,533.9 1376.1,534.6 1378,535.3 1379.9,536 1381.8,536.8 1383.7,537.5 1385.5,538.2 1387.4,539 1389.3,539.7 1391.2,540.4 1393.1,541.1 1394.9,541.9 1396.8,542.6 1398.7,543.3 1400.6,544 1402.5,544.8 1404.4,545.5 1406.2,546.2 1408.1,546.9 1410,547.7 1411.9,548.4 1413.8,549.1 1415.6,549.8 1417.5,550.6 1419.4,551.3 1421.3,552 1423.2,552.7 1425,553.5 1426.9,554.2 1428.8,554.9 1430.7,555.6 1432.6,556.4 1434.5,557.1 1436.3,557.8 1438.2,558.5 1440.1,559.3 1442,560 1443.9,560.7 1445.7,561.5 1447.6,562.2 1449.5,562.9 1451.4,563.6 1453.3,564.4 1455.2,565.1 1457,565.8 1458.9,566.5 1460.8,567.3 1462.7,568 1464.6,568.7 1466.4,569.4 1468.3,570.2 1470.2,570.9 1472.1,571.6 1474,572.3 1475.9,573.1 1477.7,573.8 1479.6,574.5 1481.5,575.2 1483.4,576 1485.3,576.7 1487.1,577.4 1489,578.1 1490.9,578.9 1492.8,579.6 1494.7,580.3 1496.5,581.1 1498.4,581.8 1500.3,582.5 1502.2,583.2 1504.1,584 1506,584.7 1507.8,585.4 1509.7,586.1 1511.6,586.9 1513.5,587.6 1515.4,588.3 1517.2,589 1519.1,589.8 1521,590.5 1522.9,591.2 1524.8,591.9 1526.7,592.7 1528.5,593.4 1530.4,594.1 1532.3,594.8 1534.2,595.6 1536.1,596.3 1537.9,597 1539.8,597.7 1541.7,598.5 1543.6,599.2 1545.5,599.9 1547.4,600.7 1549.2,601.4 1551.1,602.1 1553,602.8 1554.9,603.6 1556.8,604.3 1558.6,605 1560.5,605.7 1562.4,606.5 1564.3,607.2 1566.2,607.9 1568,608.6 1569.9,609.4 1571.8,610.1 1573.7,610.8 1576,611.7 1577.5,632 1577.9,631.4 1578.4,630.9 1578.9,630.4 1579.3,629.9 1579.8,629.4 1580.3,628.9 1580.8,628.5 1581.2,628 1581.7,627.6 1582.2,627.2 1582.6,626.8 1583.1,626.4 1583.6,626 1584,625.6 1584.5,625.3 1585,624.9 1585.5,624.6 1585.9,624.2 1586.4,623.9 1586.9,623.6 1587.3,623.3 1587.8,622.9 1588.3,622.7 1588.7,622.4 1589.2,622.1 1589.7,621.8 1590.2,621.5 1590.6,621.3 1591.1,621 1591.6,620.8 1592,620.5 1592.5,620.3 1593,620.1 1593.5,619.9 1593.9,619.6 1594.4,619.4 1594.9,619.2 1595.3,619 1595.8,618.8 1596.3,618.6 1596.7,618.4 1597.2,618.3 1597.7,618.1 1598.2,617.9 1598.6,617.7 1599.1,617.6 1599.6,617.4 1600,617.3 1600.5,617.1 1601,617 1601.4,616.8 1601.9,616.7 1602.4,616.5 1602.9,616.4 1603.3,616.2 1603.8,616.1 1604.3,616 1604.7,615.9 1605.2,615.7 1605.7,615.6 1607.6,615.2 1609.4,614.8 1611.3,614.4 1613.2,614 1615.1,613.7 1617,613.4 1618.9,613.1 1620.7,612.8 1622.6,612.6 1624.5,612.3 1626.4,612.1 1628.3,611.9 1630.1,611.7 1632,611.5 1633.9,611.3 1635.8,611.1 1637.7,611 1639.6,610.8 1641.4,610.6 1643.3,610.5 1645.2,610.3 1647.1,610.2 1649,610 1650.8,609.9 1652.7,609.7 1654.6,609.6 1656.5,609.5 1658.4,609.3 1660.2,609.2 1662.1,609.1 1664,608.9 1665.9,608.8 1667.8,608.7 1669.7,608.5 1671.5,608.4 1673.4,608.3 1675.3,608.2 1677.2,608 1679.1,607.9 1680.9,607.8 1682.8,607.6 1684.7,607.5 1686.6,607.4 1688.5,607.3 1690.4,607.2 1692.2,607 1694.1,606.9 1696,606.8 1697.9,606.7 1699.8,606.5 1701.6,606.4 1703.5,606.3 1705.4,606.2 1707.3,606 1709.2,605.9 1711.1,605.8 1712.9,605.7 1714.8,605.6 1716.7,605.4 1718.6,605.3 1720.5,605.2 1722.3,605.1 1724.2,604.9 1726.1,604.8 1728,604.7 1729.9,604.6 1731.7,604.5 1733.6,604.3 1735.5,604.2 1737.4,604.1 1739.3,604 1741.2,603.8 1743,603.7 1744.9,603.6 1746.8,603.5 1748.7,603.4 1750.6,603.2 1752.4,603.1 1754.3,603 1756.2,602.9 1758.1,602.7 1760,602.6 1761.9,602.5 1763.7,602.4 1765.6,602.3 1767.5,602.1 1769.4,602 1771.3,601.9 1773.1,601.8 1775,601.6 1776.9,601.5 1778.8,601.4 1780.7,601.3 1782.6,601.2 1784.4,601 1786.3,600.9 1788.2,600.8 1790.1,600.7 1792,600.6 1793.8,600.4 1795.7,600.3 1797.6,600.2 1799.5,600.1 1801.4,599.9 1803.2,599.8 1805.1,599.7 1807,599.6 1808.9,599.5 1810.8,599.3 1812.7,599.2 1814.5,599.1 1816.4,599 1818.3,598.8 1820.2,598.7 1822.1,598.6 1823.9,598.5 1825.8,598.4 1827.7,598.2 1829.6,598.1 1831.5,598 1833.4,597.9 1835.2,597.7 1837.1,597.6 1839,597.5" fill="none" stroke="#000" stroke-width="3.4" stroke-linejoin="round"/>
<polyline points="1368.6,637.5 1370.5,637.5 1372.4,637.5 1374.2,637.5 1376.1,637.5 1378,637.5 1379.9,637.5 1381.8,637.5 1383.7,637.5 1385.5,637.5 1387.4,637.5 1389.3,637.5 1391.2,637.5 1393.1,637.5 1394.9,637.5 1396.8,637.5 1398.7,637.5 1400.6,637.5 1402.5,637.5 1404.4,637.5 1406.2,637.5 1408.1,637.5 1410,637.5 1411.9,637.5 1413.8,637.5 1415.6,637.5 1417.5,637.5 1419.4,637.5 1421.3,637.5 1423.2,637.5 1425,637.5 1426.9,637.5 1428.8,637.5 1430.7,637.5 1432.6,637.5 1434.5,637.5 1436.3,637.5 1438.2,637.5 1440.1,637.5 1442,637.5 1443.9,637.5 1445.7,637.5 1447.6,637.5 1449.5,637.5 1451.4,637.5 1453.3,637.5 1455.2,637.5 1457,637.5 1458.9,637.5 1460.8,637.5 1462.7,637.5 1464.6,637.5 1466.4,637.5 1468.3,637.5 1470.2,637.5 1472.1,637.5 1474,637.5 1475.9,637.5 1477.7,637.5 1479.6,637.5 1481.5,637.5 1483.4,637.5 1485.3,637.5 1487.1,637.5 1489,637.5 1490.9,637.5 1492.8,637.5 1494.7,637.5 1496.5,637.5 1498.4,637.5 1500.3,637.5 1502.2,637.5 1504.1,637.5 1506,637.5 1507.8,637.5 1509.7,637.5 1511.6,637.5 1513.5,637.5 1515.4,637.5 1517.2,637.5 1519.1,637.5 1521,637.5 1522.9,637.5 1524.8,637.5 1526.7,637.5 1528.5,637.5 1530.4,637.5 1532.3,637.5 1534.2,637.5 1536.1,637.5 1537.9,637.5 1539.8,637.5 1541.7,637.5 1543.6,637.5 1545.5,637.5 1547.4,637.4 1547.8,637.4 1548.3,637.4 1548.8,637.4 1549.2,637.4 1549.7,637.4 1550.2,637.4 1550.6,637.4 1551.1,637.4 1551.6,637.4 1552.1,637.3 1552.5,637.3 1553,637.3 1553.5,637.2 1553.9,637.2 1554.4,637.1 1554.9,637.1 1555.3,637 1555.8,636.9 1556.3,636.7 1556.8,636.6 1557.2,636.4 1557.7,636.2 1558.2,635.9 1558.6,635.6 1559.1,635.3 1559.6,634.9 1560.1,634.4 1560.5,633.8 1561,633.2 1561.5,632.4 1561.9,631.6 1562.4,630.6 1562.9,629.4 1563.3,628.1 1563.8,626.7 1564.3,625 1564.8,623.1 1565.2,620.9 1565.7,618.5 1566.2,615.8 1566.6,612.8 1567.1,609.4 1567.6,605.7 1568,601.6 1568.5,597.1 1569,592.1 1569.5,586.7 1569.9,580.9 1570.4,574.5 1570.9,567.7 1571.3,560.3 1571.8,552.5 1572.3,544.1 1572.8,535.2 1573.2,525.9 1573.7,516.1 1574.2,505.9 1574.6,495.3 1575.1,484.4 1575.6,473.2 1576,461.8 1576.5,450.2 1577,438.6 1577.5,427 1577.9,415.6 1578.4,404.4 1578.9,393.6 1579.3,383.2 1579.8,373.5 1580.3,364.4 1580.8,356.3 1581.2,349.2 1581.7,343.3 1582.2,338.6 1582.6,335.5 1583.1,334.3 1583.6,335.5 1584,339.2 1584.5,344.5 1585,351.1 1585.5,358.4 1585.9,366 1586.4,373.9 1586.9,381.8 1587.3,389.6 1587.8,397.4 1588.3,405 1588.7,412.4 1589.2,419.7 1589.7,426.8 1590.2,433.7 1590.6,440.4 1591.1,446.9 1591.6,453.2 1592,459.3 1592.5,465.2 1593,470.9 1593.5,476.5 1593.9,481.9 1594.4,487.1 1594.9,492.1 1595.3,497 1595.8,501.7 1596.3,506.2 1596.7,510.6 1597.2,514.9 1597.7,519 1598.2,523 1598.6,526.8 1599.1,530.6 1599.6,534.2 1600,537.6 1600.5,541 1601,544.3 1601.4,547.4 1601.9,550.4 1602.4,553.4 1602.9,556.2 1603.3,559 1603.8,561.6 1604.3,564.2 1604.7,566.6 1605.2,569 1605.7,571.3 1606.2,573.6 1606.6,575.7 1607.1,577.8 1607.6,579.8 1608,581.8 1608.5,583.7 1609,585.5 1609.4,587.2 1609.9,588.9 1610.4,590.6 1610.9,592.2 1611.3,593.7 1611.8,595.2 1612.3,596.6 1612.7,598 1613.2,599.3 1613.7,600.6 1614.1,601.9 1614.6,603.1 1615.1,604.2 1615.6,605.4 1616,606.4 1616.5,607.5 1617,608.5 1617.4,609.5 1617.9,610.4 1618.4,611.3 1618.9,612.2 1619.3,613.1 1619.8,613.9 1620.3,614.7 1620.7,615.5 1621.2,616.2 1621.7,616.9 1622.1,617.6 1622.6,618.3 1623.1,619 1623.6,619.6 1624,620.2 1624.5,620.8 1625,621.3 1625.4,621.9 1625.9,622.4 1626.4,622.9 1626.8,623.4 1627.3,623.9 1627.8,624.3 1628.3,624.8 1628.7,625.2 1629.2,625.6 1629.7,626 1630.1,626.4 1630.6,626.8 1631.1,627.2 1631.6,627.5 1632,627.8 1632.5,628.2 1633,628.5 1633.4,628.8 1633.9,629.1 1634.4,629.4 1634.8,629.6 1635.3,629.9 1635.8,630.2 1636.3,630.4 1636.7,630.6 1637.2,630.9 1637.7,631.1 1638.1,631.3 1638.6,631.5 1639.1,631.7 1639.6,631.9 1640,632.1 1640.5,632.3 1641,632.5 1641.4,632.6 1643.3,633.3 1645.2,633.8 1647.1,634.3 1649,634.7 1650.8,635 1652.7,635.3 1654.6,635.6 1656.5,635.9 1658.4,636.1 1660.2,636.2 1662.1,636.4 1664,636.5 1665.9,636.7 1667.8,636.8 1669.7,636.8 1671.5,636.9 1673.4,637 1675.3,637.1 1677.2,637.1 1679.1,637.2 1680.9,637.2 1682.8,637.2 1684.7,637.3 1686.6,637.3 1688.5,637.3 1690.4,637.3 1692.2,637.3 1694.1,637.4 1696,637.4 1697.9,637.4 1699.8,637.4 1701.6,637.4 1703.5,637.4 1705.4,637.4 1707.3,637.4 1709.2,637.4 1711.1,637.4 1712.9,637.4 1714.8,637.4 1716.7,637.4 1718.6,637.4 1720.5,637.4 1722.3,637.4 1724.2,637.4 1726.1,637.4 1728,637.4 1729.9,637.5 1731.7,637.5 1733.6,637.5 1735.5,637.5 1737.4,637.5 1739.3,637.5 1741.2,637.5 1743,637.5 1744.9,637.5 1746.8,637.5 1748.7,637.5 1750.6,637.5 1752.4,637.5 1754.3,637.5 1756.2,637.5 1758.1,637.5 1760,637.5 1761.9,637.5 1763.7,637.5 1765.6,637.5 1767.5,637.5 1769.4,637.5 1771.3,637.5 1773.1,637.5 1775,637.5 1776.9,637.5 1778.8,637.5 1780.7,637.5 1782.6,637.5 1784.4,637.5 1786.3,637.5 1788.2,637.5 1790.1,637.5 1792,637.5 1793.8,637.5 1795.7,637.5 1797.6,637.5 1799.5,637.5 1801.4,637.5 1803.2,637.5 1805.1,637.5 1807,637.5 1808.9,637.5 1810.8,637.5 1812.7,637.5 1814.5,637.5 1816.4,637.5 1818.3,637.5 1820.2,637.5 1822.1,637.5 1823.9,637.5 1825.8,637.5 1827.7,637.5 1829.6,637.5 1831.5,637.5 1833.4,637.5 1835.2,637.5 1837.1,637.5 1839,637.5" fill="none" stroke="#ff0000" stroke-width="3.4" stroke-linejoin="round"/>
<path d="M1839 226.4H1368.6M1368.6 226.4V653.9H1839" fill="none" stroke="#000" stroke-width="3" stroke-linecap="square"/>
<line x1="1839" y1="226.4" x2="1839" y2="653.9" stroke="#ff0000" stroke-width="3" stroke-linecap="square"/>
<path d="M1462.7 653.9v-7.5M1462.7 226.4v7.5M1556.8 653.9v-7.5M1556.8 226.4v7.5M1650.8 653.9v-7.5M1650.8 226.4v7.5M1744.9 653.9v-7.5M1744.9 226.4v7.5M1368.6 283.4h8M1368.6 397.4h8M1368.6 511.4h8M1368.6 625.4h8" stroke="#000" stroke-width="2.6"/>
<path d="M1839 637.5h-9M1839 473h-9M1839 308.6h-9" stroke="#ff0000" stroke-width="2.6"/>
<g font-family="'Liberation Sans', Arial, sans-serif" font-weight="bold" font-size="29" text-anchor="middle"><text x="1368.6" y="685.4">0</text><text x="1462.7" y="685.4">100</text><text x="1556.8" y="685.4">200</text><text x="1650.8" y="685.4">300</text><text x="1744.9" y="685.4">400</text><text x="1839" y="685.4">500</text></g>
<g font-family="'Liberation Sans', Arial, sans-serif" font-weight="bold" font-size="29" text-anchor="end"><text x="1359.1" y="291.9">2</text><text x="1359.1" y="405.9">0</text><text x="1359.1" y="519.9">-2</text><text x="1359.1" y="633.9">-4</text></g>
<g font-family="'Liberation Sans', Arial, sans-serif" font-weight="bold" font-size="29" fill="#ff0000"><text x="1848.5" y="647.5">0.0</text><text x="1848.5" y="483">0.5</text><text x="1848.5" y="318.6">1.0</text></g>
<text transform="translate(1319.2 446.4) rotate(-90)" x="0" y="0" text-anchor="middle" font-family="'Liberation Sans', Arial, sans-serif" font-weight="bold" font-size="30" textLength="255" lengthAdjust="spacingAndGlyphs">Energy bend (eV)</text>
<text transform="translate(1931.1 458.4) rotate(-90)" x="0" y="0" text-anchor="middle" font-family="'Liberation Sans', Arial, sans-serif" font-weight="bold" font-size="30.5" fill="#ff0000" textLength="497" lengthAdjust="spacingAndGlyphs">Carrier concentration ( <tspan font-weight="normal">&#215;</tspan>10<tspan dy="-15" font-size="18">13</tspan><tspan dy="15"> cm</tspan><tspan dy="-15" font-size="18">-2</tspan><tspan dy="15">)</tspan></text>
<text x="1602.6" y="735.4" text-anchor="middle" font-family="'Liberation Sans', Arial, sans-serif" font-weight="bold" font-size="30">Length (&#197;)</text>
<text x="1590.6" y="318.3" font-family="'Liberation Serif', 'Times New Roman', serif" font-size="31" fill="#ff0000" textLength="217" lengthAdjust="spacingAndGlyphs">0.92&#215; 10<tspan dy="-12" font-size="21">13</tspan><tspan dy="12"> </tspan><tspan font-style="italic">cm</tspan><tspan dy="-12" font-size="21">&#8722;2</tspan></text>
<text x="1436.6" y="423.6" font-family="'Liberation Sans', Arial, sans-serif" font-size="29" textLength="128" lengthAdjust="spacingAndGlyphs">-0.025 eV</text>
<text x="1420" y="482.7" font-family="'Liberation Sans', Arial, sans-serif" font-size="29" textLength="91.5" lengthAdjust="spacingAndGlyphs">AlGaN</text>
<text x="1674" y="482.7" font-family="'Liberation Sans', Arial, sans-serif" font-size="29" textLength="61.6" lengthAdjust="spacingAndGlyphs">GaN</text>
<rect x="1944.3" y="85.4" width="46.9" height="566.8" fill="url(#cbar)"/>
<rect x="1988.2" y="85.4" width="3" height="566.8" fill="#000" fill-opacity="0.22"/>
<rect x="1944.3" y="85.4" width="46.9" height="1.2" fill="#556070"/>
<path d="M1944.3 145.9h6.5M1991.2 145.9h-6.5M1944.3 209.8h6.5M1991.2 209.8h-6.5M1944.3 273.7h6.5M1991.2 273.7h-6.5M1944.3 337.6h6.5M1991.2 337.6h-6.5M1944.3 401.5h6.5M1991.2 401.5h-6.5M1944.3 465.4h6.5M1991.2 465.4h-6.5M1944.3 529.3h6.5M1991.2 529.3h-6.5M1944.3 593.2h6.5M1991.2 593.2h-6.5" stroke="#333" stroke-width="1.3" stroke-opacity="0.7"/>
<text x="2003" y="654.3" font-family="'Liberation Sans', Arial, sans-serif" font-size="32.66" textLength="63.01" lengthAdjust="spacingAndGlyphs">0.00</text>
<g font-family="'Liberation Sans', Arial, sans-serif" font-size="28.8"><text x="2000.8" y="157.7">0.16</text><text x="2000.8" y="284.3">0.12</text><text x="2000.8" y="416.3">0.08</text><text x="2000.8" y="538.6">0.04</text></g>
<text x="1945" y="60.7" font-family="'Liberation Sans', Arial, sans-serif" font-size="25.21" textLength="57.17" lengthAdjust="spacingAndGlyphs">GPa</text>
<text x="95.7" y="843.8" font-family="'Liberation Sans', Arial, sans-serif" font-size="34.59" textLength="149.20" lengthAdjust="spacingAndGlyphs">5 N stress</text>
<text x="753.8" y="845.7" font-family="'Liberation Sans', Arial, sans-serif" font-size="33.95" textLength="165.50" lengthAdjust="spacingAndGlyphs">10 N stress</text>
<text x="1395" y="845.7" font-family="'Liberation Sans', Arial, sans-serif" font-size="34.45" textLength="165.50" lengthAdjust="spacingAndGlyphs">15 N stress</text>
<path d="M309 806H316V866.2H319.5L312.5 875.7L305.5 866.2H309z" fill="#c00000"/>
<path d="M964.4 801.7H974.1V862H978.9L969.3 873L959.6 862H964.4z" fill="#c00000"/>
<path d="M1600.9 806H1612.9V865.1H1618.4L1606.9 877.1L1595.4 865.1H1600.9z" fill="#c00000"/>
<g clip-path="url(#cm5)"><g filter="url(#blur1)"><rect x="79.4" y="891.5" width="464.9" height="67.5" fill="#0000a2"/><path d="M80.9 893h56v5h-56z" fill="#0000da"/><path d="M135.9 893h71v5h-71z" fill="#0000e6"/><path d="M205.9 893h31v5h-31z" fill="#0000f1"/><path d="M235.9 893h16v5h-16z" fill="#0000fc"/><path d="M250.9 893h11v5h-11z" fill="#0008ff"/><path d="M260.9 893h11v5h-11z" fill="#0014ff"/><path d="M270.9 893h6v5h-6z" fill="#001fff"/><path d="M275.9 893h6v5h-6z" fill="#002aff"/><path d="M280.9 893h6v5h-6z" fill="#0036ff"/><path d="M285.9 893h6v5h-6z" fill="#0041ff"/><path d="M290.9 893h6v5h-6z" fill="#006fff"/><path d="M295.9 893h6v5h-6z" fill="#00c9ff"/><path d="M300.9 893h6v5h-6z" fill="#3cffc3"/><path d="M305.9 893h6v5h-6z" fill="#96ff69"/><path d="M310.9 893h6v5h-6z" fill="#a2ff5e"/><path d="M315.9 893h6v5h-6z" fill="#47ffb8"/><path d="M320.9 893h6v5h-6z" fill="#00d4ff"/><path d="M325.9 893h6v5h-6z" fill="#007aff"/><path d="M330.9 893h6v5h-6z" fill="#004dff"/><path d="M335.9 893h6v5h-6z" fill="#0036ff"/><path d="M340.9 893h6v5h-6z" fill="#002aff"/><path d="M345.9 893h6v5h-6z" fill="#001fff"/><path d="M350.9 893h11v5h-11z" fill="#0014ff"/><path d="M360.9 893h11v5h-11z" fill="#0008ff"/><path d="M370.9 893h16v5h-16z" fill="#0000fc"/><path d="M385.9 893h31v5h-31z" fill="#0000f1"/><path d="M415.9 893h71v5h-71z" fill="#0000e6"/><path d="M485.9 893h61v5h-61z" fill="#0000da"/><path d="M80.9 897h106v5h-106z" fill="#0000cf"/><path d="M185.9 897h51v5h-51z" fill="#0000da"/><path d="M235.9 897h16v5h-16z" fill="#0000e6"/><path d="M250.9 897h16v5h-16z" fill="#0000f1"/><path d="M265.9 897h6v5h-6z" fill="#0000fc"/><path d="M270.9 897h11v5h-11z" fill="#0008ff"/><path d="M280.9 897h6v5h-6z" fill="#0014ff"/><path d="M285.9 897h6v5h-6z" fill="#001fff"/><path d="M290.9 897h6v5h-6z" fill="#0036ff"/><path d="M295.9 897h6v5h-6z" fill="#0058ff"/><path d="M300.9 897h6v5h-6z" fill="#0091ff"/><path d="M305.9 897h6v5h-6z" fill="#00b3ff"/><path d="M310.9 897h6v5h-6z" fill="#00beff"/><path d="M315.9 897h6v5h-6z" fill="#009cff"/><path d="M320.9 897h6v5h-6z" fill="#0063ff"/><path d="M325.9 897h6v5h-6z" fill="#0041ff"/><path d="M330.9 897h6v5h-6z" fill="#001fff"/><path d="M335.9 897h6v5h-6z" fill="#0014ff"/><path d="M340.9 897h11v5h-11z" fill="#0008ff"/><path d="M350.9 897h11v5h-11z" fill="#0000fc"/><path d="M360.9 897h11v5h-11z" fill="#0000f1"/><path d="M370.9 897h16v5h-16z" fill="#0000e6"/><path d="M385.9 897h51v5h-51z" fill="#0000da"/><path d="M435.9 897h111v5h-111z" fill="#0000cf"/><path d="M80.9 901h31v5h-31z" fill="#0000b8"/><path d="M110.9 901h101v5h-101z" fill="#0000c3"/><path d="M210.9 901h41v5h-41z" fill="#0000cf"/><path d="M250.9 901h16v5h-16z" fill="#0000da"/><path d="M265.9 901h6v5h-6z" fill="#0000e6"/><path d="M270.9 901h11v5h-11z" fill="#0000f1"/><path d="M280.9 901h6v5h-6z" fill="#0000fc"/><path d="M285.9 901h6v5h-6z" fill="#0008ff"/><path d="M290.9 901h6v5h-6z" fill="#0014ff"/><path d="M295.9 901h11v5h-11z" fill="#001fff"/><path d="M305.9 901h16v5h-16z" fill="#002aff"/><path d="M320.9 901h6v5h-6z" fill="#001fff"/><path d="M325.9 901h6v5h-6z" fill="#0014ff"/><path d="M330.9 901h6v5h-6z" fill="#0008ff"/><path d="M335.9 901h6v5h-6z" fill="#0000fc"/><path d="M340.9 901h11v5h-11z" fill="#0000f1"/><path d="M350.9 901h11v5h-11z" fill="#0000e6"/><path d="M360.9 901h11v5h-11z" fill="#0000da"/><path d="M370.9 901h41v5h-41z" fill="#0000cf"/><path d="M410.9 901h101v5h-101z" fill="#0000c3"/><path d="M510.9 901h36v5h-36z" fill="#0000b8"/><path d="M80.9 905h41v5h-41z" fill="#0000ad"/><path d="M120.9 905h106v5h-106z" fill="#0000b8"/><path d="M225.9 905h31v5h-31z" fill="#0000c3"/><path d="M255.9 905h16v5h-16z" fill="#0000cf"/><path d="M270.9 905h6v5h-6z" fill="#0000da"/><path d="M275.9 905h11v5h-11z" fill="#0000e6"/><path d="M285.9 905h6v5h-6z" fill="#0000f1"/><path d="M290.9 905h6v5h-6z" fill="#0000fc"/><path d="M295.9 905h11v5h-11z" fill="#0008ff"/><path d="M305.9 905h11v5h-11z" fill="#0014ff"/><path d="M315.9 905h11v5h-11z" fill="#0008ff"/><path d="M325.9 905h6v5h-6z" fill="#0000fc"/><path d="M330.9 905h6v5h-6z" fill="#0000f1"/><path d="M335.9 905h11v5h-11z" fill="#0000e6"/><path d="M345.9 905h6v5h-6z" fill="#0000da"/><path d="M350.9 905h16v5h-16z" fill="#0000cf"/><path d="M365.9 905h31v5h-31z" fill="#0000c3"/><path d="M395.9 905h106v5h-106z" fill="#0000b8"/><path d="M500.9 905h46v5h-46z" fill="#0000ad"/><path d="M90.9 909h131v5h-131z" fill="#0000ad"/><path d="M220.9 909h41v5h-41z" fill="#0000b8"/><path d="M260.9 909h16v5h-16z" fill="#0000c3"/><path d="M275.9 909h6v5h-6z" fill="#0000cf"/><path d="M280.9 909h6v5h-6z" fill="#0000da"/><path d="M285.9 909h6v5h-6z" fill="#0000e6"/><path d="M290.9 909h11v5h-11z" fill="#0000f1"/><path d="M300.9 909h11v5h-11z" fill="#0000fc"/><path d="M310.9 909h6v5h-6z" fill="#0008ff"/><path d="M315.9 909h11v5h-11z" fill="#0000fc"/><path d="M325.9 909h6v5h-6z" fill="#0000f1"/><path d="M330.9 909h6v5h-6z" fill="#0000e6"/><path d="M335.9 909h6v5h-6z" fill="#0000da"/><path d="M340.9 909h11v5h-11z" fill="#0000cf"/><path d="M350.9 909h11v5h-11z" fill="#0000c3"/><path d="M360.9 909h41v5h-41z" fill="#0000b8"/><path d="M400.9 909h131v5h-131z" fill="#0000ad"/><path d="M195.9 913h66v5h-66z" fill="#0000ad"/><path d="M260.9 913h16v5h-16z" fill="#0000b8"/><path d="M275.9 913h6v5h-6z" fill="#0000c3"/><path d="M280.9 913h6v5h-6z" fill="#0000cf"/><path d="M285.9 913h6v5h-6z" fill="#0000da"/><path d="M290.9 913h11v5h-11z" fill="#0000e6"/><path d="M300.9 913h6v5h-6z" fill="#0000f1"/><path d="M305.9 913h11v5h-11z" fill="#0000fc"/><path d="M315.9 913h11v5h-11z" fill="#0000f1"/><path d="M325.9 913h6v5h-6z" fill="#0000e6"/><path d="M330.9 913h6v5h-6z" fill="#0000da"/><path d="M335.9 913h6v5h-6z" fill="#0000cf"/><path d="M340.9 913h11v5h-11z" fill="#0000c3"/><path d="M350.9 913h11v5h-11z" fill="#0000b8"/><path d="M360.9 913h71v5h-71z" fill="#0000ad"/><path d="M80.9 917h26v5h-26z" fill="#000096"/><path d="M235.9 917h36v5h-36z" fill="#0000ad"/><path d="M270.9 917h11v5h-11z" fill="#0000b8"/><path d="M280.9 917h6v5h-6z" fill="#0000c3"/><path d="M285.9 917h6v5h-6z" fill="#0000cf"/><path d="M290.9 917h6v5h-6z" fill="#0000da"/><path d="M295.9 917h6v5h-6z" fill="#0000e6"/><path d="M300.9 917h21v5h-21z" fill="#0000f1"/><path d="M320.9 917h6v5h-6z" fill="#0000e6"/><path d="M325.9 917h6v5h-6z" fill="#0000da"/><path d="M330.9 917h6v5h-6z" fill="#0000cf"/><path d="M335.9 917h6v5h-6z" fill="#0000c3"/><path d="M340.9 917h11v5h-11z" fill="#0000b8"/><path d="M350.9 917h36v5h-36z" fill="#0000ad"/><path d="M520.9 917h26v5h-26z" fill="#000096"/><path d="M80.9 921h66v5h-66z" fill="#000096"/><path d="M250.9 921h26v5h-26z" fill="#0000ad"/><path d="M275.9 921h6v5h-6z" fill="#0000b8"/><path d="M280.9 921h6v5h-6z" fill="#0000c3"/><path d="M285.9 921h6v5h-6z" fill="#0000cf"/><path d="M290.9 921h11v5h-11z" fill="#0000da"/><path d="M300.9 921h6v5h-6z" fill="#0000e6"/><path d="M305.9 921h11v5h-11z" fill="#0000f1"/><path d="M315.9 921h11v5h-11z" fill="#0000e6"/><path d="M325.9 921h6v5h-6z" fill="#0000da"/><path d="M330.9 921h6v5h-6z" fill="#0000cf"/><path d="M335.9 921h6v5h-6z" fill="#0000c3"/><path d="M340.9 921h11v5h-11z" fill="#0000b8"/><path d="M350.9 921h21v5h-21z" fill="#0000ad"/><path d="M475.9 921h71v5h-71z" fill="#000096"/><path d="M80.9 925h61v5h-61z" fill="#000096"/><path d="M250.9 925h26v5h-26z" fill="#0000ad"/><path d="M275.9 925h6v5h-6z" fill="#0000b8"/><path d="M280.9 925h6v5h-6z" fill="#0000c3"/><path d="M285.9 925h6v5h-6z" fill="#0000cf"/><path d="M290.9 925h11v5h-11z" fill="#0000da"/><path d="M300.9 925h6v5h-6z" fill="#0000e6"/><path d="M305.9 925h11v5h-11z" fill="#0000f1"/><path d="M315.9 925h11v5h-11z" fill="#0000e6"/><path d="M325.9 925h6v5h-6z" fill="#0000da"/><path d="M330.9 925h6v5h-6z" fill="#0000cf"/><path d="M335.9 925h6v5h-6z" fill="#0000c3"/><path d="M340.9 925h11v5h-11z" fill="#0000b8"/><path d="M350.9 925h21v5h-21z" fill="#0000ad"/><path d="M480.9 925h66v5h-66z" fill="#000096"/><path d="M80.9 929h11v5h-11z" fill="#000096"/><path d="M230.9 929h41v5h-41z" fill="#0000ad"/><path d="M270.9 929h11v5h-11z" fill="#0000b8"/><path d="M280.9 929h6v5h-6z" fill="#0000c3"/><path d="M285.9 929h6v5h-6z" fill="#0000cf"/><path d="M290.9 929h6v5h-6z" fill="#0000da"/><path d="M295.9 929h6v5h-6z" fill="#0000e6"/><path d="M300.9 929h21v5h-21z" fill="#0000f1"/><path d="M320.9 929h6v5h-6z" fill="#0000e6"/><path d="M325.9 929h6v5h-6z" fill="#0000da"/><path d="M330.9 929h6v5h-6z" fill="#0000cf"/><path d="M335.9 929h11v5h-11z" fill="#0000c3"/><path d="M345.9 929h6v5h-6z" fill="#0000b8"/><path d="M350.9 929h41v5h-41z" fill="#0000ad"/><path d="M530.9 929h16v5h-16z" fill="#000096"/><path d="M185.9 933h71v5h-71z" fill="#0000ad"/><path d="M255.9 933h16v5h-16z" fill="#0000b8"/><path d="M270.9 933h11v5h-11z" fill="#0000c3"/><path d="M280.9 933h6v5h-6z" fill="#0000cf"/><path d="M285.9 933h6v5h-6z" fill="#0000da"/><path d="M290.9 933h6v5h-6z" fill="#0000e6"/><path d="M295.9 933h11v5h-11z" fill="#0000f1"/><path d="M305.9 933h11v5h-11z" fill="#0000fc"/><path d="M315.9 933h11v5h-11z" fill="#0000f1"/><path d="M325.9 933h6v5h-6z" fill="#0000e6"/><path d="M330.9 933h6v5h-6z" fill="#0000da"/><path d="M335.9 933h6v5h-6z" fill="#0000cf"/><path d="M340.9 933h11v5h-11z" fill="#0000c3"/><path d="M350.9 933h16v5h-16z" fill="#0000b8"/><path d="M365.9 933h71v5h-71z" fill="#0000ad"/><path d="M80.9 937h131v5h-131z" fill="#0000ad"/><path d="M210.9 937h51v5h-51z" fill="#0000b8"/><path d="M260.9 937h11v5h-11z" fill="#0000c3"/><path d="M270.9 937h11v5h-11z" fill="#0000cf"/><path d="M280.9 937h6v5h-6z" fill="#0000da"/><path d="M285.9 937h6v5h-6z" fill="#0000e6"/><path d="M290.9 937h6v5h-6z" fill="#0000f1"/><path d="M295.9 937h11v5h-11z" fill="#0000fc"/><path d="M305.9 937h11v5h-11z" fill="#0008ff"/><path d="M315.9 937h11v5h-11z" fill="#0000fc"/><path d="M325.9 937h6v5h-6z" fill="#0000f1"/><path d="M330.9 937h6v5h-6z" fill="#0000e6"/><path d="M335.9 937h6v5h-6z" fill="#0000da"/><path d="M340.9 937h11v5h-11z" fill="#0000cf"/><path d="M350.9 937h16v5h-16z" fill="#0000c3"/><path d="M365.9 937h46v5h-46z" fill="#0000b8"/><path d="M410.9 937h136v5h-136z" fill="#0000ad"/><path d="M80.9 941h21v5h-21z" fill="#0000ad"/><path d="M100.9 941h116v5h-116z" fill="#0000b8"/><path d="M215.9 941h41v5h-41z" fill="#0000c3"/><path d="M255.9 941h11v5h-11z" fill="#0000cf"/><path d="M265.9 941h11v5h-11z" fill="#0000da"/><path d="M275.9 941h6v5h-6z" fill="#0000e6"/><path d="M280.9 941h11v5h-11z" fill="#0000f1"/><path d="M290.9 941h6v5h-6z" fill="#0000fc"/><path d="M295.9 941h6v5h-6z" fill="#0008ff"/><path d="M300.9 941h21v5h-21z" fill="#0014ff"/><path d="M320.9 941h6v5h-6z" fill="#0008ff"/><path d="M325.9 941h11v5h-11z" fill="#0000fc"/><path d="M335.9 941h6v5h-6z" fill="#0000f1"/><path d="M340.9 941h6v5h-6z" fill="#0000e6"/><path d="M345.9 941h11v5h-11z" fill="#0000da"/><path d="M355.9 941h11v5h-11z" fill="#0000cf"/><path d="M365.9 941h41v5h-41z" fill="#0000c3"/><path d="M405.9 941h116v5h-116z" fill="#0000b8"/><path d="M520.9 941h26v5h-26z" fill="#0000ad"/><path d="M80.9 945h6v5h-6z" fill="#0000b8"/><path d="M85.9 945h116v5h-116z" fill="#0000c3"/><path d="M200.9 945h46v5h-46z" fill="#0000cf"/><path d="M245.9 945h16v5h-16z" fill="#0000da"/><path d="M260.9 945h11v5h-11z" fill="#0000e6"/><path d="M270.9 945h6v5h-6z" fill="#0000f1"/><path d="M275.9 945h6v5h-6z" fill="#0000fc"/><path d="M280.9 945h6v5h-6z" fill="#0008ff"/><path d="M285.9 945h11v5h-11z" fill="#0014ff"/><path d="M295.9 945h6v5h-6z" fill="#001fff"/><path d="M300.9 945h21v5h-21z" fill="#002aff"/><path d="M320.9 945h6v5h-6z" fill="#001fff"/><path d="M325.9 945h11v5h-11z" fill="#0014ff"/><path d="M335.9 945h6v5h-6z" fill="#0008ff"/><path d="M340.9 945h6v5h-6z" fill="#0000fc"/><path d="M345.9 945h11v5h-11z" fill="#0000f1"/><path d="M355.9 945h6v5h-6z" fill="#0000e6"/><path d="M360.9 945h16v5h-16z" fill="#0000da"/><path d="M375.9 945h46v5h-46z" fill="#0000cf"/><path d="M420.9 945h121v5h-121z" fill="#0000c3"/><path d="M540.9 945h6v5h-6z" fill="#0000b8"/><path d="M80.9 949h91v5h-91z" fill="#0000cf"/><path d="M170.9 949h56v5h-56z" fill="#0000da"/><path d="M225.9 949h21v5h-21z" fill="#0000e6"/><path d="M245.9 949h11v5h-11z" fill="#0000f1"/><path d="M255.9 949h11v5h-11z" fill="#0000fc"/><path d="M265.9 949h6v5h-6z" fill="#0008ff"/><path d="M270.9 949h6v5h-6z" fill="#0014ff"/><path d="M275.9 949h11v5h-11z" fill="#001fff"/><path d="M285.9 949h6v5h-6z" fill="#002aff"/><path d="M290.9 949h6v5h-6z" fill="#0036ff"/><path d="M295.9 949h11v5h-11z" fill="#0041ff"/><path d="M305.9 949h16v5h-16z" fill="#004dff"/><path d="M320.9 949h6v5h-6z" fill="#0041ff"/><path d="M325.9 949h6v5h-6z" fill="#0036ff"/><path d="M330.9 949h11v5h-11z" fill="#002aff"/><path d="M340.9 949h6v5h-6z" fill="#001fff"/><path d="M345.9 949h6v5h-6z" fill="#0014ff"/><path d="M350.9 949h6v5h-6z" fill="#0008ff"/><path d="M355.9 949h11v5h-11z" fill="#0000fc"/><path d="M365.9 949h11v5h-11z" fill="#0000f1"/><path d="M375.9 949h21v5h-21z" fill="#0000e6"/><path d="M395.9 949h56v5h-56z" fill="#0000da"/><path d="M450.9 949h96v5h-96z" fill="#0000cf"/><path d="M80.9 953h31v5h-31z" fill="#0000da"/><path d="M110.9 953h86v5h-86z" fill="#0000e6"/><path d="M195.9 953h36v5h-36z" fill="#0000f1"/><path d="M230.9 953h16v5h-16z" fill="#0000fc"/><path d="M245.9 953h11v5h-11z" fill="#0008ff"/><path d="M255.9 953h6v5h-6z" fill="#0014ff"/><path d="M260.9 953h6v5h-6z" fill="#001fff"/><path d="M265.9 953h11v5h-11z" fill="#002aff"/><path d="M275.9 953h6v5h-6z" fill="#0036ff"/><path d="M280.9 953h6v5h-6z" fill="#0041ff"/><path d="M285.9 953h6v5h-6z" fill="#004dff"/><path d="M290.9 953h6v5h-6z" fill="#0058ff"/><path d="M295.9 953h6v5h-6z" fill="#0063ff"/><path d="M300.9 953h21v5h-21z" fill="#006fff"/><path d="M320.9 953h6v5h-6z" fill="#0063ff"/><path d="M325.9 953h6v5h-6z" fill="#0058ff"/><path d="M330.9 953h11v5h-11z" fill="#004dff"/><path d="M340.9 953h6v5h-6z" fill="#0041ff"/><path d="M345.9 953h6v5h-6z" fill="#0036ff"/><path d="M350.9 953h6v5h-6z" fill="#002aff"/><path d="M355.9 953h6v5h-6z" fill="#001fff"/><path d="M360.9 953h6v5h-6z" fill="#0014ff"/><path d="M365.9 953h11v5h-11z" fill="#0008ff"/><path d="M375.9 953h16v5h-16z" fill="#0000fc"/><path d="M390.9 953h36v5h-36z" fill="#0000f1"/><path d="M425.9 953h86v5h-86z" fill="#0000e6"/><path d="M510.9 953h36v5h-36z" fill="#0000da"/></g></g>
<g clip-path="url(#cm10)"><g filter="url(#blur1)"><rect x="736.1" y="889.6" width="465.4" height="68.2" fill="#0000ad"/><path d="M737.6 891.1h46v5h-46z" fill="#0000fc"/><path d="M782.6 891.1h31v5h-31z" fill="#0008ff"/><path d="M812.6 891.1h16v5h-16z" fill="#0014ff"/><path d="M827.6 891.1h16v5h-16z" fill="#001fff"/><path d="M842.6 891.1h11v5h-11z" fill="#002aff"/><path d="M852.6 891.1h11v5h-11z" fill="#0036ff"/><path d="M862.6 891.1h6v5h-6z" fill="#0041ff"/><path d="M867.6 891.1h6v5h-6z" fill="#004dff"/><path d="M872.6 891.1h6v5h-6z" fill="#0058ff"/><path d="M877.6 891.1h6v5h-6z" fill="#0063ff"/><path d="M882.6 891.1h6v5h-6z" fill="#006fff"/><path d="M887.6 891.1h6v5h-6z" fill="#007aff"/><path d="M892.6 891.1h6v5h-6z" fill="#0091ff"/><path d="M897.6 891.1h6v5h-6z" fill="#009cff"/><path d="M902.6 891.1h6v5h-6z" fill="#00b3ff"/><path d="M907.6 891.1h6v5h-6z" fill="#00c9ff"/><path d="M912.6 891.1h6v5h-6z" fill="#00e0ff"/><path d="M917.6 891.1h6v5h-6z" fill="#00ebff"/><path d="M922.6 891.1h6v5h-6z" fill="#03fffc"/><path d="M927.6 891.1h6v5h-6z" fill="#25ffda"/><path d="M932.6 891.1h6v5h-6z" fill="#3cffc3"/><path d="M937.6 891.1h6v5h-6z" fill="#5effa2"/><path d="M942.6 891.1h6v5h-6z" fill="#80ff80"/><path d="M947.6 891.1h6v5h-6z" fill="#adff52"/><path d="M952.6 891.1h31v5h-31z" fill="#000080"/><path d="M982.6 891.1h6v5h-6z" fill="#b8ff47"/><path d="M987.6 891.1h6v5h-6z" fill="#8bff74"/><path d="M992.6 891.1h6v5h-6z" fill="#69ff96"/><path d="M997.6 891.1h6v5h-6z" fill="#47ffb8"/><path d="M1002.6 891.1h6v5h-6z" fill="#25ffda"/><path d="M1007.6 891.1h6v5h-6z" fill="#0efff1"/><path d="M1012.6 891.1h6v5h-6z" fill="#00f6ff"/><path d="M1017.6 891.1h6v5h-6z" fill="#00e0ff"/><path d="M1022.6 891.1h6v5h-6z" fill="#00c9ff"/><path d="M1027.6 891.1h6v5h-6z" fill="#00b3ff"/><path d="M1032.6 891.1h6v5h-6z" fill="#00a7ff"/><path d="M1037.6 891.1h6v5h-6z" fill="#0091ff"/><path d="M1042.6 891.1h6v5h-6z" fill="#0085ff"/><path d="M1047.6 891.1h6v5h-6z" fill="#006fff"/><path d="M1052.6 891.1h6v5h-6z" fill="#0063ff"/><path d="M1057.6 891.1h6v5h-6z" fill="#0058ff"/><path d="M1062.6 891.1h6v5h-6z" fill="#004dff"/><path d="M1067.6 891.1h11v5h-11z" fill="#0041ff"/><path d="M1077.6 891.1h6v5h-6z" fill="#0036ff"/><path d="M1082.6 891.1h11v5h-11z" fill="#002aff"/><path d="M1092.6 891.1h16v5h-16z" fill="#001fff"/><path d="M1107.6 891.1h21v5h-21z" fill="#0014ff"/><path d="M1127.6 891.1h26v5h-26z" fill="#0008ff"/><path d="M1152.6 891.1h46v5h-46z" fill="#0000fc"/><path d="M1197.6 891.1h6v5h-6z" fill="#0000f1"/><path d="M737.6 895.1h51v5h-51z" fill="#0000e6"/><path d="M787.6 895.1h36v5h-36z" fill="#0000f1"/><path d="M822.6 895.1h21v5h-21z" fill="#0000fc"/><path d="M842.6 895.1h16v5h-16z" fill="#0008ff"/><path d="M857.6 895.1h11v5h-11z" fill="#0014ff"/><path d="M867.6 895.1h11v5h-11z" fill="#001fff"/><path d="M877.6 895.1h6v5h-6z" fill="#002aff"/><path d="M882.6 895.1h6v5h-6z" fill="#0036ff"/><path d="M887.6 895.1h6v5h-6z" fill="#0041ff"/><path d="M892.6 895.1h6v5h-6z" fill="#004dff"/><path d="M897.6 895.1h6v5h-6z" fill="#0063ff"/><path d="M902.6 895.1h6v5h-6z" fill="#006fff"/><path d="M907.6 895.1h6v5h-6z" fill="#0085ff"/><path d="M912.6 895.1h6v5h-6z" fill="#0091ff"/><path d="M917.6 895.1h6v5h-6z" fill="#00a7ff"/><path d="M922.6 895.1h6v5h-6z" fill="#00beff"/><path d="M927.6 895.1h6v5h-6z" fill="#00d4ff"/><path d="M932.6 895.1h6v5h-6z" fill="#00f6ff"/><path d="M937.6 895.1h6v5h-6z" fill="#1affe5"/><path d="M942.6 895.1h6v5h-6z" fill="#47ffb8"/><path d="M947.6 895.1h6v5h-6z" fill="#74ff8b"/><path d="M952.6 895.1h6v5h-6z" fill="#b8ff47"/><path d="M957.6 895.1h6v5h-6z" fill="#e5ff1a"/><path d="M962.6 895.1h6v5h-6z" fill="#fff700"/><path d="M967.6 895.1h6v5h-6z" fill="#ffeb00"/><path d="M972.6 895.1h6v5h-6z" fill="#f1ff0e"/><path d="M977.6 895.1h6v5h-6z" fill="#c3ff3c"/><path d="M982.6 895.1h6v5h-6z" fill="#8bff74"/><path d="M987.6 895.1h6v5h-6z" fill="#52ffad"/><path d="M992.6 895.1h6v5h-6z" fill="#25ffda"/><path d="M997.6 895.1h6v5h-6z" fill="#03fffc"/><path d="M1002.6 895.1h6v5h-6z" fill="#00e0ff"/><path d="M1007.6 895.1h6v5h-6z" fill="#00c9ff"/><path d="M1012.6 895.1h6v5h-6z" fill="#00b3ff"/><path d="M1017.6 895.1h6v5h-6z" fill="#009cff"/><path d="M1022.6 895.1h6v5h-6z" fill="#0085ff"/><path d="M1027.6 895.1h6v5h-6z" fill="#007aff"/><path d="M1032.6 895.1h6v5h-6z" fill="#0063ff"/><path d="M1037.6 895.1h6v5h-6z" fill="#0058ff"/><path d="M1042.6 895.1h6v5h-6z" fill="#004dff"/><path d="M1047.6 895.1h11v5h-11z" fill="#0036ff"/><path d="M1057.6 895.1h6v5h-6z" fill="#002aff"/><path d="M1062.6 895.1h6v5h-6z" fill="#001fff"/><path d="M1067.6 895.1h11v5h-11z" fill="#0014ff"/><path d="M1077.6 895.1h16v5h-16z" fill="#0008ff"/><path d="M1092.6 895.1h21v5h-21z" fill="#0000fc"/><path d="M1112.6 895.1h36v5h-36z" fill="#0000f1"/><path d="M1147.6 895.1h56v5h-56z" fill="#0000e6"/><path d="M737.6 899.1h41v5h-41z" fill="#0000cf"/><path d="M777.6 899.1h46v5h-46z" fill="#0000da"/><path d="M822.6 899.1h31v5h-31z" fill="#0000e6"/><path d="M852.6 899.1h16v5h-16z" fill="#0000f1"/><path d="M867.6 899.1h11v5h-11z" fill="#0000fc"/><path d="M877.6 899.1h11v5h-11z" fill="#0008ff"/><path d="M887.6 899.1h6v5h-6z" fill="#0014ff"/><path d="M892.6 899.1h6v5h-6z" fill="#001fff"/><path d="M897.6 899.1h6v5h-6z" fill="#002aff"/><path d="M902.6 899.1h6v5h-6z" fill="#0036ff"/><path d="M907.6 899.1h6v5h-6z" fill="#004dff"/><path d="M912.6 899.1h6v5h-6z" fill="#0058ff"/><path d="M917.6 899.1h6v5h-6z" fill="#006fff"/><path d="M922.6 899.1h6v5h-6z" fill="#0085ff"/><path d="M927.6 899.1h6v5h-6z" fill="#009cff"/><path d="M932.6 899.1h6v5h-6z" fill="#00b3ff"/><path d="M937.6 899.1h6v5h-6z" fill="#00e0ff"/><path d="M942.6 899.1h6v5h-6z" fill="#0efff1"/><path d="M947.6 899.1h6v5h-6z" fill="#47ffb8"/><path d="M952.6 899.1h6v5h-6z" fill="#80ff80"/><path d="M957.6 899.1h6v5h-6z" fill="#c3ff3c"/><path d="M962.6 899.1h11v5h-11z" fill="#e5ff1a"/><path d="M972.6 899.1h6v5h-6z" fill="#cfff30"/><path d="M977.6 899.1h6v5h-6z" fill="#96ff69"/><path d="M982.6 899.1h6v5h-6z" fill="#5effa2"/><path d="M987.6 899.1h6v5h-6z" fill="#1affe5"/><path d="M992.6 899.1h6v5h-6z" fill="#00ebff"/><path d="M997.6 899.1h6v5h-6z" fill="#00beff"/><path d="M1002.6 899.1h6v5h-6z" fill="#00a7ff"/><path d="M1007.6 899.1h6v5h-6z" fill="#0085ff"/><path d="M1012.6 899.1h6v5h-6z" fill="#006fff"/><path d="M1017.6 899.1h6v5h-6z" fill="#0063ff"/><path d="M1022.6 899.1h6v5h-6z" fill="#004dff"/><path d="M1027.6 899.1h6v5h-6z" fill="#0041ff"/><path d="M1032.6 899.1h6v5h-6z" fill="#002aff"/><path d="M1037.6 899.1h6v5h-6z" fill="#001fff"/><path d="M1042.6 899.1h6v5h-6z" fill="#0014ff"/><path d="M1047.6 899.1h11v5h-11z" fill="#0008ff"/><path d="M1057.6 899.1h11v5h-11z" fill="#0000fc"/><path d="M1067.6 899.1h21v5h-21z" fill="#0000f1"/><path d="M1087.6 899.1h26v5h-26z" fill="#0000e6"/><path d="M1112.6 899.1h46v5h-46z" fill="#0000da"/><path d="M1157.6 899.1h46v5h-46z" fill="#0000cf"/><path d="M737.6 903.1h71v5h-71z" fill="#0000c3"/><path d="M807.6 903.1h41v5h-41z" fill="#0000cf"/><path d="M847.6 903.1h26v5h-26z" fill="#0000da"/><path d="M872.6 903.1h16v5h-16z" fill="#0000e6"/><path d="M887.6 903.1h11v5h-11z" fill="#0000f1"/><path d="M897.6 903.1h6v5h-6z" fill="#0000fc"/><path d="M902.6 903.1h6v5h-6z" fill="#0008ff"/><path d="M907.6 903.1h6v5h-6z" fill="#0014ff"/><path d="M912.6 903.1h6v5h-6z" fill="#001fff"/><path d="M917.6 903.1h6v5h-6z" fill="#0036ff"/><path d="M922.6 903.1h6v5h-6z" fill="#004dff"/><path d="M927.6 903.1h6v5h-6z" fill="#0063ff"/><path d="M932.6 903.1h6v5h-6z" fill="#0085ff"/><path d="M937.6 903.1h6v5h-6z" fill="#00a7ff"/><path d="M942.6 903.1h6v5h-6z" fill="#00d4ff"/><path d="M947.6 903.1h6v5h-6z" fill="#0efff1"/><path d="M952.6 903.1h6v5h-6z" fill="#47ffb8"/><path d="M957.6 903.1h6v5h-6z" fill="#80ff80"/><path d="M962.6 903.1h6v5h-6z" fill="#a2ff5e"/><path d="M967.6 903.1h6v5h-6z" fill="#adff52"/><path d="M972.6 903.1h6v5h-6z" fill="#8bff74"/><path d="M977.6 903.1h6v5h-6z" fill="#5effa2"/><path d="M982.6 903.1h6v5h-6z" fill="#25ffda"/><path d="M987.6 903.1h6v5h-6z" fill="#00e0ff"/><path d="M992.6 903.1h6v5h-6z" fill="#00b3ff"/><path d="M997.6 903.1h6v5h-6z" fill="#0085ff"/><path d="M1002.6 903.1h6v5h-6z" fill="#006fff"/><path d="M1007.6 903.1h6v5h-6z" fill="#004dff"/><path d="M1012.6 903.1h6v5h-6z" fill="#0036ff"/><path d="M1017.6 903.1h6v5h-6z" fill="#002aff"/><path d="M1022.6 903.1h6v5h-6z" fill="#001fff"/><path d="M1027.6 903.1h6v5h-6z" fill="#0008ff"/><path d="M1032.6 903.1h11v5h-11z" fill="#0000fc"/><path d="M1042.6 903.1h6v5h-6z" fill="#0000f1"/><path d="M1047.6 903.1h16v5h-16z" fill="#0000e6"/><path d="M1062.6 903.1h26v5h-26z" fill="#0000da"/><path d="M1087.6 903.1h46v5h-46z" fill="#0000cf"/><path d="M1132.6 903.1h66v5h-66z" fill="#0000c3"/><path d="M1197.6 903.1h6v5h-6z" fill="#0000b8"/><path d="M752.6 907.1h71v5h-71z" fill="#0000b8"/><path d="M822.6 907.1h41v5h-41z" fill="#0000c3"/><path d="M862.6 907.1h26v5h-26z" fill="#0000cf"/><path d="M887.6 907.1h16v5h-16z" fill="#0000da"/><path d="M902.6 907.1h6v5h-6z" fill="#0000e6"/><path d="M907.6 907.1h6v5h-6z" fill="#0000f1"/><path d="M912.6 907.1h6v5h-6z" fill="#0000fc"/><path d="M917.6 907.1h6v5h-6z" fill="#0008ff"/><path d="M922.6 907.1h6v5h-6z" fill="#001fff"/><path d="M927.6 907.1h6v5h-6z" fill="#0036ff"/><path d="M932.6 907.1h6v5h-6z" fill="#004dff"/><path d="M937.6 907.1h6v5h-6z" fill="#006fff"/><path d="M942.6 907.1h6v5h-6z" fill="#009cff"/><path d="M947.6 907.1h6v5h-6z" fill="#00d4ff"/><path d="M952.6 907.1h6v5h-6z" fill="#0efff1"/><path d="M957.6 907.1h6v5h-6z" fill="#3cffc3"/><path d="M962.6 907.1h11v5h-11z" fill="#5effa2"/><path d="M972.6 907.1h6v5h-6z" fill="#47ffb8"/><path d="M977.6 907.1h6v5h-6z" fill="#1affe5"/><path d="M982.6 907.1h6v5h-6z" fill="#00e0ff"/><path d="M987.6 907.1h6v5h-6z" fill="#00a7ff"/><path d="M992.6 907.1h6v5h-6z" fill="#007aff"/><path d="M997.6 907.1h6v5h-6z" fill="#0058ff"/><path d="M1002.6 907.1h6v5h-6z" fill="#0036ff"/><path d="M1007.6 907.1h6v5h-6z" fill="#001fff"/><path d="M1012.6 907.1h6v5h-6z" fill="#0014ff"/><path d="M1017.6 907.1h6v5h-6z" fill="#0000fc"/><path d="M1022.6 907.1h6v5h-6z" fill="#0000f1"/><path d="M1027.6 907.1h11v5h-11z" fill="#0000e6"/><path d="M1037.6 907.1h11v5h-11z" fill="#0000da"/><path d="M1047.6 907.1h26v5h-26z" fill="#0000cf"/><path d="M1072.6 907.1h46v5h-46z" fill="#0000c3"/><path d="M1117.6 907.1h71v5h-71z" fill="#0000b8"/><path d="M822.6 911.1h46v5h-46z" fill="#0000b8"/><path d="M867.6 911.1h31v5h-31z" fill="#0000c3"/><path d="M897.6 911.1h11v5h-11z" fill="#0000cf"/><path d="M907.6 911.1h11v5h-11z" fill="#0000da"/><path d="M917.6 911.1h6v5h-6z" fill="#0000e6"/><path d="M922.6 911.1h6v5h-6z" fill="#0000fc"/><path d="M927.6 911.1h6v5h-6z" fill="#0008ff"/><path d="M932.6 911.1h6v5h-6z" fill="#002aff"/><path d="M937.6 911.1h6v5h-6z" fill="#0041ff"/><path d="M942.6 911.1h6v5h-6z" fill="#006fff"/><path d="M947.6 911.1h6v5h-6z" fill="#009cff"/><path d="M952.6 911.1h6v5h-6z" fill="#00c9ff"/><path d="M957.6 911.1h6v5h-6z" fill="#00f6ff"/><path d="M962.6 911.1h11v5h-11z" fill="#0efff1"/><path d="M972.6 911.1h6v5h-6z" fill="#00f6ff"/><path d="M977.6 911.1h6v5h-6z" fill="#00d4ff"/><path d="M982.6 911.1h6v5h-6z" fill="#00a7ff"/><path d="M987.6 911.1h6v5h-6z" fill="#007aff"/><path d="M992.6 911.1h6v5h-6z" fill="#004dff"/><path d="M997.6 911.1h6v5h-6z" fill="#002aff"/><path d="M1002.6 911.1h6v5h-6z" fill="#0014ff"/><path d="M1007.6 911.1h6v5h-6z" fill="#0000fc"/><path d="M1012.6 911.1h6v5h-6z" fill="#0000f1"/><path d="M1017.6 911.1h6v5h-6z" fill="#0000e6"/><path d="M1022.6 911.1h6v5h-6z" fill="#0000da"/><path d="M1027.6 911.1h11v5h-11z" fill="#0000cf"/><path d="M1037.6 911.1h31v5h-31z" fill="#0000c3"/><path d="M1067.6 911.1h51v5h-51z" fill="#0000b8"/><path d="M737.6 915.1h56v5h-56z" fill="#0000a2"/><path d="M857.6 915.1h41v5h-41z" fill="#0000b8"/><path d="M897.6 915.1h16v5h-16z" fill="#0000c3"/><path d="M912.6 915.1h11v5h-11z" fill="#0000cf"/><path d="M922.6 915.1h6v5h-6z" fill="#0000da"/><path d="M927.6 915.1h6v5h-6z" fill="#0000f1"/><path d="M932.6 915.1h6v5h-6z" fill="#0008ff"/><path d="M937.6 915.1h6v5h-6z" fill="#001fff"/><path d="M942.6 915.1h6v5h-6z" fill="#004dff"/><path d="M947.6 915.1h6v5h-6z" fill="#006fff"/><path d="M952.6 915.1h6v5h-6z" fill="#009cff"/><path d="M957.6 915.1h6v5h-6z" fill="#00beff"/><path d="M962.6 915.1h6v5h-6z" fill="#00c9ff"/><path d="M967.6 915.1h6v5h-6z" fill="#00d4ff"/><path d="M972.6 915.1h6v5h-6z" fill="#00beff"/><path d="M977.6 915.1h6v5h-6z" fill="#009cff"/><path d="M982.6 915.1h6v5h-6z" fill="#007aff"/><path d="M987.6 915.1h6v5h-6z" fill="#004dff"/><path d="M992.6 915.1h6v5h-6z" fill="#002aff"/><path d="M997.6 915.1h6v5h-6z" fill="#0014ff"/><path d="M1002.6 915.1h6v5h-6z" fill="#0000f1"/><path d="M1007.6 915.1h6v5h-6z" fill="#0000e6"/><path d="M1012.6 915.1h6v5h-6z" fill="#0000da"/><path d="M1017.6 915.1h6v5h-6z" fill="#0000cf"/><path d="M1022.6 915.1h16v5h-16z" fill="#0000c3"/><path d="M1037.6 915.1h41v5h-41z" fill="#0000b8"/><path d="M1142.6 915.1h61v5h-61z" fill="#0000a2"/><path d="M737.6 919.1h86v5h-86z" fill="#0000a2"/><path d="M877.6 919.1h31v5h-31z" fill="#0000b8"/><path d="M907.6 919.1h11v5h-11z" fill="#0000c3"/><path d="M917.6 919.1h11v5h-11z" fill="#0000cf"/><path d="M927.6 919.1h6v5h-6z" fill="#0000e6"/><path d="M932.6 919.1h6v5h-6z" fill="#0000f1"/><path d="M937.6 919.1h6v5h-6z" fill="#0014ff"/><path d="M942.6 919.1h6v5h-6z" fill="#0036ff"/><path d="M947.6 919.1h6v5h-6z" fill="#0058ff"/><path d="M952.6 919.1h6v5h-6z" fill="#007aff"/><path d="M957.6 919.1h6v5h-6z" fill="#0091ff"/><path d="M962.6 919.1h11v5h-11z" fill="#00a7ff"/><path d="M972.6 919.1h6v5h-6z" fill="#009cff"/><path d="M977.6 919.1h6v5h-6z" fill="#0085ff"/><path d="M982.6 919.1h6v5h-6z" fill="#0063ff"/><path d="M987.6 919.1h6v5h-6z" fill="#0036ff"/><path d="M992.6 919.1h6v5h-6z" fill="#0014ff"/><path d="M997.6 919.1h6v5h-6z" fill="#0000fc"/><path d="M1002.6 919.1h6v5h-6z" fill="#0000e6"/><path d="M1007.6 919.1h6v5h-6z" fill="#0000da"/><path d="M1012.6 919.1h6v5h-6z" fill="#0000cf"/><path d="M1017.6 919.1h11v5h-11z" fill="#0000c3"/><path d="M1027.6 919.1h31v5h-31z" fill="#0000b8"/><path d="M1117.6 919.1h86v5h-86z" fill="#0000a2"/><path d="M737.6 923.1h86v5h-86z" fill="#0000a2"/><path d="M877.6 923.1h31v5h-31z" fill="#0000b8"/><path d="M907.6 923.1h11v5h-11z" fill="#0000c3"/><path d="M917.6 923.1h11v5h-11z" fill="#0000cf"/><path d="M927.6 923.1h6v5h-6z" fill="#0000e6"/><path d="M932.6 923.1h6v5h-6z" fill="#0000f1"/><path d="M937.6 923.1h6v5h-6z" fill="#0008ff"/><path d="M942.6 923.1h6v5h-6z" fill="#002aff"/><path d="M947.6 923.1h6v5h-6z" fill="#004dff"/><path d="M952.6 923.1h6v5h-6z" fill="#006fff"/><path d="M957.6 923.1h6v5h-6z" fill="#0085ff"/><path d="M962.6 923.1h6v5h-6z" fill="#0091ff"/><path d="M967.6 923.1h6v5h-6z" fill="#009cff"/><path d="M972.6 923.1h6v5h-6z" fill="#0085ff"/><path d="M977.6 923.1h6v5h-6z" fill="#006fff"/><path d="M982.6 923.1h6v5h-6z" fill="#0058ff"/><path d="M987.6 923.1h6v5h-6z" fill="#0036ff"/><path d="M992.6 923.1h6v5h-6z" fill="#0014ff"/><path d="M997.6 923.1h6v5h-6z" fill="#0000fc"/><path d="M1002.6 923.1h6v5h-6z" fill="#0000e6"/><path d="M1007.6 923.1h6v5h-6z" fill="#0000da"/><path d="M1012.6 923.1h6v5h-6z" fill="#0000cf"/><path d="M1017.6 923.1h11v5h-11z" fill="#0000c3"/><path d="M1027.6 923.1h31v5h-31z" fill="#0000b8"/><path d="M1117.6 923.1h86v5h-86z" fill="#0000a2"/><path d="M737.6 927.1h61v5h-61z" fill="#0000a2"/><path d="M862.6 927.1h36v5h-36z" fill="#0000b8"/><path d="M897.6 927.1h16v5h-16z" fill="#0000c3"/><path d="M912.6 927.1h11v5h-11z" fill="#0000cf"/><path d="M922.6 927.1h6v5h-6z" fill="#0000da"/><path d="M927.6 927.1h6v5h-6z" fill="#0000e6"/><path d="M932.6 927.1h6v5h-6z" fill="#0000fc"/><path d="M937.6 927.1h6v5h-6z" fill="#0014ff"/><path d="M942.6 927.1h6v5h-6z" fill="#0036ff"/><path d="M947.6 927.1h6v5h-6z" fill="#004dff"/><path d="M952.6 927.1h6v5h-6z" fill="#006fff"/><path d="M957.6 927.1h6v5h-6z" fill="#0085ff"/><path d="M962.6 927.1h11v5h-11z" fill="#0091ff"/><path d="M972.6 927.1h6v5h-6z" fill="#0085ff"/><path d="M977.6 927.1h6v5h-6z" fill="#007aff"/><path d="M982.6 927.1h6v5h-6z" fill="#0058ff"/><path d="M987.6 927.1h6v5h-6z" fill="#0041ff"/><path d="M992.6 927.1h6v5h-6z" fill="#001fff"/><path d="M997.6 927.1h6v5h-6z" fill="#0008ff"/><path d="M1002.6 927.1h6v5h-6z" fill="#0000f1"/><path d="M1007.6 927.1h6v5h-6z" fill="#0000da"/><path d="M1012.6 927.1h11v5h-11z" fill="#0000cf"/><path d="M1022.6 927.1h16v5h-16z" fill="#0000c3"/><path d="M1037.6 927.1h41v5h-41z" fill="#0000b8"/><path d="M1142.6 927.1h61v5h-61z" fill="#0000a2"/><path d="M822.6 931.1h51v5h-51z" fill="#0000b8"/><path d="M872.6 931.1h31v5h-31z" fill="#0000c3"/><path d="M902.6 931.1h11v5h-11z" fill="#0000cf"/><path d="M912.6 931.1h6v5h-6z" fill="#0000da"/><path d="M917.6 931.1h6v5h-6z" fill="#0000e6"/><path d="M922.6 931.1h6v5h-6z" fill="#0000f1"/><path d="M927.6 931.1h6v5h-6z" fill="#0000fc"/><path d="M932.6 931.1h6v5h-6z" fill="#0014ff"/><path d="M937.6 931.1h6v5h-6z" fill="#002aff"/><path d="M942.6 931.1h6v5h-6z" fill="#004dff"/><path d="M947.6 931.1h6v5h-6z" fill="#0063ff"/><path d="M952.6 931.1h6v5h-6z" fill="#007aff"/><path d="M957.6 931.1h6v5h-6z" fill="#0091ff"/><path d="M962.6 931.1h11v5h-11z" fill="#009cff"/><path d="M972.6 931.1h6v5h-6z" fill="#0091ff"/><path d="M977.6 931.1h6v5h-6z" fill="#0085ff"/><path d="M982.6 931.1h6v5h-6z" fill="#006fff"/><path d="M987.6 931.1h6v5h-6z" fill="#004dff"/><path d="M992.6 931.1h6v5h-6z" fill="#0036ff"/><path d="M997.6 931.1h6v5h-6z" fill="#001fff"/><path d="M1002.6 931.1h6v5h-6z" fill="#0008ff"/><path d="M1007.6 931.1h6v5h-6z" fill="#0000f1"/><path d="M1012.6 931.1h6v5h-6z" fill="#0000e6"/><path d="M1017.6 931.1h6v5h-6z" fill="#0000da"/><path d="M1022.6 931.1h16v5h-16z" fill="#0000cf"/><path d="M1037.6 931.1h26v5h-26z" fill="#0000c3"/><path d="M1062.6 931.1h51v5h-51z" fill="#0000b8"/><path d="M1197.6 931.1h6v5h-6z" fill="#0000a2"/><path d="M757.6 935.1h66v5h-66z" fill="#0000b8"/><path d="M822.6 935.1h46v5h-46z" fill="#0000c3"/><path d="M867.6 935.1h26v5h-26z" fill="#0000cf"/><path d="M892.6 935.1h11v5h-11z" fill="#0000da"/><path d="M902.6 935.1h11v5h-11z" fill="#0000e6"/><path d="M912.6 935.1h6v5h-6z" fill="#0000f1"/><path d="M917.6 935.1h6v5h-6z" fill="#0000fc"/><path d="M922.6 935.1h6v5h-6z" fill="#0014ff"/><path d="M927.6 935.1h6v5h-6z" fill="#001fff"/><path d="M932.6 935.1h6v5h-6z" fill="#0036ff"/><path d="M937.6 935.1h6v5h-6z" fill="#004dff"/><path d="M942.6 935.1h6v5h-6z" fill="#0063ff"/><path d="M947.6 935.1h6v5h-6z" fill="#007aff"/><path d="M952.6 935.1h6v5h-6z" fill="#0091ff"/><path d="M957.6 935.1h6v5h-6z" fill="#00a7ff"/><path d="M962.6 935.1h11v5h-11z" fill="#00b3ff"/><path d="M972.6 935.1h6v5h-6z" fill="#00a7ff"/><path d="M977.6 935.1h6v5h-6z" fill="#009cff"/><path d="M982.6 935.1h6v5h-6z" fill="#0085ff"/><path d="M987.6 935.1h6v5h-6z" fill="#006fff"/><path d="M992.6 935.1h6v5h-6z" fill="#0058ff"/><path d="M997.6 935.1h6v5h-6z" fill="#0041ff"/><path d="M1002.6 935.1h6v5h-6z" fill="#002aff"/><path d="M1007.6 935.1h6v5h-6z" fill="#0014ff"/><path d="M1012.6 935.1h6v5h-6z" fill="#0008ff"/><path d="M1017.6 935.1h6v5h-6z" fill="#0000f1"/><path d="M1022.6 935.1h11v5h-11z" fill="#0000e6"/><path d="M1032.6 935.1h11v5h-11z" fill="#0000da"/><path d="M1042.6 935.1h26v5h-26z" fill="#0000cf"/><path d="M1067.6 935.1h46v5h-46z" fill="#0000c3"/><path d="M1112.6 935.1h71v5h-71z" fill="#0000b8"/><path d="M737.6 939.1h6v5h-6z" fill="#0000b8"/><path d="M742.6 939.1h66v5h-66z" fill="#0000c3"/><path d="M807.6 939.1h46v5h-46z" fill="#0000cf"/><path d="M852.6 939.1h26v5h-26z" fill="#0000da"/><path d="M877.6 939.1h16v5h-16z" fill="#0000e6"/><path d="M892.6 939.1h6v5h-6z" fill="#0000f1"/><path d="M897.6 939.1h11v5h-11z" fill="#0000fc"/><path d="M907.6 939.1h6v5h-6z" fill="#0008ff"/><path d="M912.6 939.1h6v5h-6z" fill="#0014ff"/><path d="M917.6 939.1h6v5h-6z" fill="#002aff"/><path d="M922.6 939.1h6v5h-6z" fill="#0036ff"/><path d="M927.6 939.1h6v5h-6z" fill="#004dff"/><path d="M932.6 939.1h6v5h-6z" fill="#0063ff"/><path d="M937.6 939.1h6v5h-6z" fill="#007aff"/><path d="M942.6 939.1h6v5h-6z" fill="#0091ff"/><path d="M947.6 939.1h6v5h-6z" fill="#009cff"/><path d="M952.6 939.1h6v5h-6z" fill="#00b3ff"/><path d="M957.6 939.1h6v5h-6z" fill="#00beff"/><path d="M962.6 939.1h11v5h-11z" fill="#00c9ff"/><path d="M972.6 939.1h6v5h-6z" fill="#00beff"/><path d="M977.6 939.1h6v5h-6z" fill="#00b3ff"/><path d="M982.6 939.1h6v5h-6z" fill="#00a7ff"/><path d="M987.6 939.1h6v5h-6z" fill="#0091ff"/><path d="M992.6 939.1h6v5h-6z" fill="#007aff"/><path d="M997.6 939.1h6v5h-6z" fill="#0063ff"/><path d="M1002.6 939.1h6v5h-6z" fill="#0058ff"/><path d="M1007.6 939.1h6v5h-6z" fill="#0041ff"/><path d="M1012.6 939.1h6v5h-6z" fill="#002aff"/><path d="M1017.6 939.1h6v5h-6z" fill="#001fff"/><path d="M1022.6 939.1h6v5h-6z" fill="#0014ff"/><path d="M1027.6 939.1h6v5h-6z" fill="#0008ff"/><path d="M1032.6 939.1h6v5h-6z" fill="#0000fc"/><path d="M1037.6 939.1h11v5h-11z" fill="#0000f1"/><path d="M1047.6 939.1h11v5h-11z" fill="#0000e6"/><path d="M1057.6 939.1h26v5h-26z" fill="#0000da"/><path d="M1082.6 939.1h46v5h-46z" fill="#0000cf"/><path d="M1127.6 939.1h66v5h-66z" fill="#0000c3"/><path d="M1192.6 939.1h11v5h-11z" fill="#0000b8"/><path d="M737.6 943.1h46v5h-46z" fill="#0000cf"/><path d="M782.6 943.1h46v5h-46z" fill="#0000da"/><path d="M827.6 943.1h31v5h-31z" fill="#0000e6"/><path d="M857.6 943.1h16v5h-16z" fill="#0000f1"/><path d="M872.6 943.1h11v5h-11z" fill="#0000fc"/><path d="M882.6 943.1h11v5h-11z" fill="#0008ff"/><path d="M892.6 943.1h6v5h-6z" fill="#0014ff"/><path d="M897.6 943.1h6v5h-6z" fill="#001fff"/><path d="M902.6 943.1h6v5h-6z" fill="#002aff"/><path d="M907.6 943.1h6v5h-6z" fill="#0036ff"/><path d="M912.6 943.1h6v5h-6z" fill="#0041ff"/><path d="M917.6 943.1h6v5h-6z" fill="#0058ff"/><path d="M922.6 943.1h6v5h-6z" fill="#006fff"/><path d="M927.6 943.1h6v5h-6z" fill="#007aff"/><path d="M932.6 943.1h6v5h-6z" fill="#0091ff"/><path d="M937.6 943.1h6v5h-6z" fill="#009cff"/><path d="M942.6 943.1h6v5h-6z" fill="#00b3ff"/><path d="M947.6 943.1h6v5h-6z" fill="#00beff"/><path d="M952.6 943.1h6v5h-6z" fill="#00d4ff"/><path d="M957.6 943.1h11v5h-11z" fill="#00e0ff"/><path d="M967.6 943.1h6v5h-6z" fill="#00ebff"/><path d="M972.6 943.1h6v5h-6z" fill="#00e0ff"/><path d="M977.6 943.1h6v5h-6z" fill="#00d4ff"/><path d="M982.6 943.1h6v5h-6z" fill="#00c9ff"/><path d="M987.6 943.1h6v5h-6z" fill="#00b3ff"/><path d="M992.6 943.1h6v5h-6z" fill="#00a7ff"/><path d="M997.6 943.1h6v5h-6z" fill="#0091ff"/><path d="M1002.6 943.1h6v5h-6z" fill="#0085ff"/><path d="M1007.6 943.1h6v5h-6z" fill="#006fff"/><path d="M1012.6 943.1h6v5h-6z" fill="#0058ff"/><path d="M1017.6 943.1h6v5h-6z" fill="#004dff"/><path d="M1022.6 943.1h6v5h-6z" fill="#0041ff"/><path d="M1027.6 943.1h6v5h-6z" fill="#002aff"/><path d="M1032.6 943.1h6v5h-6z" fill="#001fff"/><path d="M1037.6 943.1h11v5h-11z" fill="#0014ff"/><path d="M1047.6 943.1h6v5h-6z" fill="#0008ff"/><path d="M1052.6 943.1h11v5h-11z" fill="#0000fc"/><path d="M1062.6 943.1h21v5h-21z" fill="#0000f1"/><path d="M1082.6 943.1h31v5h-31z" fill="#0000e6"/><path d="M1112.6 943.1h41v5h-41z" fill="#0000da"/><path d="M1152.6 943.1h51v5h-51z" fill="#0000cf"/><path d="M737.6 947.1h6v5h-6z" fill="#0000da"/><path d="M742.6 947.1h51v5h-51z" fill="#0000e6"/><path d="M792.6 947.1h31v5h-31z" fill="#0000f1"/><path d="M822.6 947.1h26v5h-26z" fill="#0000fc"/><path d="M847.6 947.1h16v5h-16z" fill="#0008ff"/><path d="M862.6 947.1h11v5h-11z" fill="#0014ff"/><path d="M872.6 947.1h6v5h-6z" fill="#001fff"/><path d="M877.6 947.1h11v5h-11z" fill="#002aff"/><path d="M887.6 947.1h6v5h-6z" fill="#0036ff"/><path d="M892.6 947.1h6v5h-6z" fill="#0041ff"/><path d="M897.6 947.1h6v5h-6z" fill="#004dff"/><path d="M902.6 947.1h6v5h-6z" fill="#0058ff"/><path d="M907.6 947.1h6v5h-6z" fill="#006fff"/><path d="M912.6 947.1h6v5h-6z" fill="#007aff"/><path d="M917.6 947.1h6v5h-6z" fill="#0091ff"/><path d="M922.6 947.1h6v5h-6z" fill="#009cff"/><path d="M927.6 947.1h6v5h-6z" fill="#00b3ff"/><path d="M932.6 947.1h6v5h-6z" fill="#00beff"/><path d="M937.6 947.1h6v5h-6z" fill="#00c9ff"/><path d="M942.6 947.1h6v5h-6z" fill="#00e0ff"/><path d="M947.6 947.1h6v5h-6z" fill="#00ebff"/><path d="M952.6 947.1h6v5h-6z" fill="#00f6ff"/><path d="M957.6 947.1h6v5h-6z" fill="#03fffc"/><path d="M962.6 947.1h11v5h-11z" fill="#0efff1"/><path d="M972.6 947.1h6v5h-6z" fill="#03fffc"/><path d="M977.6 947.1h6v5h-6z" fill="#00f6ff"/><path d="M982.6 947.1h6v5h-6z" fill="#00ebff"/><path d="M987.6 947.1h6v5h-6z" fill="#00e0ff"/><path d="M992.6 947.1h6v5h-6z" fill="#00d4ff"/><path d="M997.6 947.1h6v5h-6z" fill="#00beff"/><path d="M1002.6 947.1h6v5h-6z" fill="#00b3ff"/><path d="M1007.6 947.1h6v5h-6z" fill="#009cff"/><path d="M1012.6 947.1h6v5h-6z" fill="#0091ff"/><path d="M1017.6 947.1h6v5h-6z" fill="#0085ff"/><path d="M1022.6 947.1h6v5h-6z" fill="#006fff"/><path d="M1027.6 947.1h6v5h-6z" fill="#0063ff"/><path d="M1032.6 947.1h6v5h-6z" fill="#0058ff"/><path d="M1037.6 947.1h6v5h-6z" fill="#0041ff"/><path d="M1042.6 947.1h11v5h-11z" fill="#0036ff"/><path d="M1052.6 947.1h6v5h-6z" fill="#002aff"/><path d="M1057.6 947.1h6v5h-6z" fill="#001fff"/><path d="M1062.6 947.1h11v5h-11z" fill="#0014ff"/><path d="M1072.6 947.1h16v5h-16z" fill="#0008ff"/><path d="M1087.6 947.1h26v5h-26z" fill="#0000fc"/><path d="M1112.6 947.1h36v5h-36z" fill="#0000f1"/><path d="M1147.6 947.1h51v5h-51z" fill="#0000e6"/><path d="M1197.6 947.1h6v5h-6z" fill="#0000da"/><path d="M737.6 951.1h6v5h-6z" fill="#0000f1"/><path d="M742.6 951.1h46v5h-46z" fill="#0000fc"/><path d="M787.6 951.1h26v5h-26z" fill="#0008ff"/><path d="M812.6 951.1h21v5h-21z" fill="#0014ff"/><path d="M832.6 951.1h16v5h-16z" fill="#001fff"/><path d="M847.6 951.1h11v5h-11z" fill="#002aff"/><path d="M857.6 951.1h6v5h-6z" fill="#0036ff"/><path d="M862.6 951.1h11v5h-11z" fill="#0041ff"/><path d="M872.6 951.1h6v5h-6z" fill="#004dff"/><path d="M877.6 951.1h6v5h-6z" fill="#0058ff"/><path d="M882.6 951.1h6v5h-6z" fill="#0063ff"/><path d="M887.6 951.1h6v5h-6z" fill="#006fff"/><path d="M892.6 951.1h6v5h-6z" fill="#007aff"/><path d="M897.6 951.1h6v5h-6z" fill="#0085ff"/><path d="M902.6 951.1h6v5h-6z" fill="#0091ff"/><path d="M907.6 951.1h6v5h-6z" fill="#00a7ff"/><path d="M912.6 951.1h6v5h-6z" fill="#00b3ff"/><path d="M917.6 951.1h6v5h-6z" fill="#00beff"/><path d="M922.6 951.1h6v5h-6z" fill="#00d4ff"/><path d="M927.6 951.1h6v5h-6z" fill="#00e0ff"/><path d="M932.6 951.1h6v5h-6z" fill="#00ebff"/><path d="M937.6 951.1h6v5h-6z" fill="#03fffc"/><path d="M942.6 951.1h6v5h-6z" fill="#0efff1"/><path d="M947.6 951.1h6v5h-6z" fill="#1affe5"/><path d="M952.6 951.1h6v5h-6z" fill="#25ffda"/><path d="M957.6 951.1h6v5h-6z" fill="#30ffcf"/><path d="M962.6 951.1h11v5h-11z" fill="#3cffc3"/><path d="M972.6 951.1h6v5h-6z" fill="#30ffcf"/><path d="M977.6 951.1h6v5h-6z" fill="#25ffda"/><path d="M982.6 951.1h6v5h-6z" fill="#1affe5"/><path d="M987.6 951.1h6v5h-6z" fill="#0efff1"/><path d="M992.6 951.1h6v5h-6z" fill="#03fffc"/><path d="M997.6 951.1h6v5h-6z" fill="#00f6ff"/><path d="M1002.6 951.1h6v5h-6z" fill="#00e0ff"/><path d="M1007.6 951.1h6v5h-6z" fill="#00d4ff"/><path d="M1012.6 951.1h6v5h-6z" fill="#00c9ff"/><path d="M1017.6 951.1h6v5h-6z" fill="#00b3ff"/><path d="M1022.6 951.1h6v5h-6z" fill="#00a7ff"/><path d="M1027.6 951.1h6v5h-6z" fill="#009cff"/><path d="M1032.6 951.1h6v5h-6z" fill="#0085ff"/><path d="M1037.6 951.1h6v5h-6z" fill="#007aff"/><path d="M1042.6 951.1h6v5h-6z" fill="#006fff"/><path d="M1047.6 951.1h6v5h-6z" fill="#0063ff"/><path d="M1052.6 951.1h6v5h-6z" fill="#0058ff"/><path d="M1057.6 951.1h6v5h-6z" fill="#004dff"/><path d="M1062.6 951.1h11v5h-11z" fill="#0041ff"/><path d="M1072.6 951.1h6v5h-6z" fill="#0036ff"/><path d="M1077.6 951.1h16v5h-16z" fill="#002aff"/><path d="M1092.6 951.1h11v5h-11z" fill="#001fff"/><path d="M1102.6 951.1h21v5h-21z" fill="#0014ff"/><path d="M1122.6 951.1h31v5h-31z" fill="#0008ff"/><path d="M1152.6 951.1h41v5h-41z" fill="#0000fc"/><path d="M1192.6 951.1h11v5h-11z" fill="#0000f1"/><path d="M737.6 955.1h36v5h-36z" fill="#0014ff"/><path d="M772.6 955.1h26v5h-26z" fill="#001fff"/><path d="M797.6 955.1h16v5h-16z" fill="#002aff"/><path d="M812.6 955.1h16v5h-16z" fill="#0036ff"/><path d="M827.6 955.1h11v5h-11z" fill="#0041ff"/><path d="M837.6 955.1h11v5h-11z" fill="#004dff"/><path d="M847.6 955.1h11v5h-11z" fill="#0058ff"/><path d="M857.6 955.1h6v5h-6z" fill="#0063ff"/><path d="M862.6 955.1h6v5h-6z" fill="#006fff"/><path d="M867.6 955.1h6v5h-6z" fill="#007aff"/><path d="M872.6 955.1h6v5h-6z" fill="#0085ff"/><path d="M877.6 955.1h6v5h-6z" fill="#0091ff"/><path d="M882.6 955.1h6v5h-6z" fill="#009cff"/><path d="M887.6 955.1h6v5h-6z" fill="#00a7ff"/><path d="M892.6 955.1h6v5h-6z" fill="#00b3ff"/><path d="M897.6 955.1h6v5h-6z" fill="#00beff"/><path d="M902.6 955.1h6v5h-6z" fill="#00d4ff"/><path d="M907.6 955.1h6v5h-6z" fill="#00e0ff"/><path d="M912.6 955.1h6v5h-6z" fill="#00ebff"/><path d="M917.6 955.1h6v5h-6z" fill="#00f6ff"/><path d="M922.6 955.1h6v5h-6z" fill="#0efff1"/><path d="M927.6 955.1h6v5h-6z" fill="#1affe5"/><path d="M932.6 955.1h6v5h-6z" fill="#25ffda"/><path d="M937.6 955.1h6v5h-6z" fill="#30ffcf"/><path d="M942.6 955.1h6v5h-6z" fill="#3cffc3"/><path d="M947.6 955.1h6v5h-6z" fill="#47ffb8"/><path d="M952.6 955.1h6v5h-6z" fill="#52ffad"/><path d="M957.6 955.1h6v5h-6z" fill="#5effa2"/><path d="M962.6 955.1h11v5h-11z" fill="#69ff96"/><path d="M972.6 955.1h11v5h-11z" fill="#5effa2"/><path d="M982.6 955.1h6v5h-6z" fill="#52ffad"/><path d="M987.6 955.1h6v5h-6z" fill="#47ffb8"/><path d="M992.6 955.1h6v5h-6z" fill="#3cffc3"/><path d="M997.6 955.1h6v5h-6z" fill="#25ffda"/><path d="M1002.6 955.1h6v5h-6z" fill="#1affe5"/><path d="M1007.6 955.1h6v5h-6z" fill="#0efff1"/><path d="M1012.6 955.1h6v5h-6z" fill="#03fffc"/><path d="M1017.6 955.1h6v5h-6z" fill="#00ebff"/><path d="M1022.6 955.1h6v5h-6z" fill="#00e0ff"/><path d="M1027.6 955.1h6v5h-6z" fill="#00d4ff"/><path d="M1032.6 955.1h6v5h-6z" fill="#00c9ff"/><path d="M1037.6 955.1h6v5h-6z" fill="#00b3ff"/><path d="M1042.6 955.1h6v5h-6z" fill="#00a7ff"/><path d="M1047.6 955.1h6v5h-6z" fill="#009cff"/><path d="M1052.6 955.1h6v5h-6z" fill="#0091ff"/><path d="M1057.6 955.1h6v5h-6z" fill="#0085ff"/><path d="M1062.6 955.1h6v5h-6z" fill="#007aff"/><path d="M1067.6 955.1h6v5h-6z" fill="#006fff"/><path d="M1072.6 955.1h11v5h-11z" fill="#0063ff"/><path d="M1082.6 955.1h6v5h-6z" fill="#0058ff"/><path d="M1087.6 955.1h11v5h-11z" fill="#004dff"/><path d="M1097.6 955.1h11v5h-11z" fill="#0041ff"/><path d="M1107.6 955.1h16v5h-16z" fill="#0036ff"/><path d="M1122.6 955.1h16v5h-16z" fill="#002aff"/><path d="M1137.6 955.1h31v5h-31z" fill="#001fff"/><path d="M1167.6 955.1h36v5h-36z" fill="#0014ff"/></g></g>
<path d="M954 891.6Q969 902 984 891.6Z" fill="#0a0a3a"/><path d="M954 891.6Q969 902 984 891.6" fill="none" stroke="#000" stroke-width="2"/>
<g clip-path="url(#cm15)"><g filter="url(#blur1)"><rect x="1373.7" y="892" width="465.3" height="67.5" fill="#0000da"/><path d="M1375.2 893.5h31v5h-31z" fill="#0036ff"/><path d="M1405.2 893.5h21v5h-21z" fill="#0041ff"/><path d="M1425.2 893.5h21v5h-21z" fill="#004dff"/><path d="M1445.2 893.5h11v5h-11z" fill="#0058ff"/><path d="M1455.2 893.5h11v5h-11z" fill="#0063ff"/><path d="M1465.2 893.5h11v5h-11z" fill="#006fff"/><path d="M1475.2 893.5h6v5h-6z" fill="#007aff"/><path d="M1480.2 893.5h11v5h-11z" fill="#0085ff"/><path d="M1490.2 893.5h6v5h-6z" fill="#0091ff"/><path d="M1495.2 893.5h6v5h-6z" fill="#009cff"/><path d="M1500.2 893.5h6v5h-6z" fill="#00a7ff"/><path d="M1505.2 893.5h6v5h-6z" fill="#00beff"/><path d="M1510.2 893.5h6v5h-6z" fill="#00c9ff"/><path d="M1515.2 893.5h6v5h-6z" fill="#00d4ff"/><path d="M1520.2 893.5h6v5h-6z" fill="#00ebff"/><path d="M1525.2 893.5h6v5h-6z" fill="#03fffc"/><path d="M1530.2 893.5h6v5h-6z" fill="#1affe5"/><path d="M1535.2 893.5h6v5h-6z" fill="#30ffcf"/><path d="M1540.2 893.5h6v5h-6z" fill="#47ffb8"/><path d="M1545.2 893.5h6v5h-6z" fill="#5effa2"/><path d="M1550.2 893.5h6v5h-6z" fill="#74ff8b"/><path d="M1555.2 893.5h6v5h-6z" fill="#8bff74"/><path d="M1560.2 893.5h6v5h-6z" fill="#adff52"/><path d="M1565.2 893.5h6v5h-6z" fill="#cfff30"/><path d="M1570.2 893.5h6v5h-6z" fill="#f1ff0e"/><path d="M1575.2 893.5h6v5h-6z" fill="#ffe000"/><path d="M1580.2 893.5h6v5h-6z" fill="#ff9c00"/><path d="M1585.2 893.5h6v5h-6z" fill="#ff4c00"/><path d="M1590.2 893.5h6v5h-6z" fill="#fc0000"/><path d="M1595.2 893.5h26v5h-26z" fill="#004dff"/><path d="M1620.2 893.5h6v5h-6z" fill="#ff4100"/><path d="M1625.2 893.5h6v5h-6z" fill="#ff8500"/><path d="M1630.2 893.5h6v5h-6z" fill="#ffc900"/><path d="M1635.2 893.5h6v5h-6z" fill="#fcff03"/><path d="M1640.2 893.5h6v5h-6z" fill="#cfff30"/><path d="M1645.2 893.5h6v5h-6z" fill="#b8ff47"/><path d="M1650.2 893.5h6v5h-6z" fill="#96ff69"/><path d="M1655.2 893.5h6v5h-6z" fill="#80ff80"/><path d="M1660.2 893.5h6v5h-6z" fill="#5effa2"/><path d="M1665.2 893.5h6v5h-6z" fill="#47ffb8"/><path d="M1670.2 893.5h6v5h-6z" fill="#30ffcf"/><path d="M1675.2 893.5h6v5h-6z" fill="#1affe5"/><path d="M1680.2 893.5h6v5h-6z" fill="#03fffc"/><path d="M1685.2 893.5h6v5h-6z" fill="#00f6ff"/><path d="M1690.2 893.5h6v5h-6z" fill="#00e0ff"/><path d="M1695.2 893.5h6v5h-6z" fill="#00c9ff"/><path d="M1700.2 893.5h6v5h-6z" fill="#00beff"/><path d="M1705.2 893.5h6v5h-6z" fill="#00b3ff"/><path d="M1710.2 893.5h6v5h-6z" fill="#00a7ff"/><path d="M1715.2 893.5h11v5h-11z" fill="#0091ff"/><path d="M1725.2 893.5h6v5h-6z" fill="#0085ff"/><path d="M1730.2 893.5h6v5h-6z" fill="#007aff"/><path d="M1735.2 893.5h11v5h-11z" fill="#006fff"/><path d="M1745.2 893.5h11v5h-11z" fill="#0063ff"/><path d="M1755.2 893.5h16v5h-16z" fill="#0058ff"/><path d="M1770.2 893.5h16v5h-16z" fill="#004dff"/><path d="M1785.2 893.5h26v5h-26z" fill="#0041ff"/><path d="M1810.2 893.5h31v5h-31z" fill="#0036ff"/><path d="M1375.2 897.5h21v5h-21z" fill="#0014ff"/><path d="M1395.2 897.5h31v5h-31z" fill="#001fff"/><path d="M1425.2 897.5h26v5h-26z" fill="#002aff"/><path d="M1450.2 897.5h16v5h-16z" fill="#0036ff"/><path d="M1465.2 897.5h16v5h-16z" fill="#0041ff"/><path d="M1480.2 897.5h11v5h-11z" fill="#004dff"/><path d="M1490.2 897.5h6v5h-6z" fill="#0058ff"/><path d="M1495.2 897.5h6v5h-6z" fill="#0063ff"/><path d="M1500.2 897.5h6v5h-6z" fill="#006fff"/><path d="M1505.2 897.5h6v5h-6z" fill="#007aff"/><path d="M1510.2 897.5h6v5h-6z" fill="#0085ff"/><path d="M1515.2 897.5h6v5h-6z" fill="#0091ff"/><path d="M1520.2 897.5h6v5h-6z" fill="#009cff"/><path d="M1525.2 897.5h6v5h-6z" fill="#00b3ff"/><path d="M1530.2 897.5h6v5h-6z" fill="#00beff"/><path d="M1535.2 897.5h6v5h-6z" fill="#00d4ff"/><path d="M1540.2 897.5h6v5h-6z" fill="#00ebff"/><path d="M1545.2 897.5h6v5h-6z" fill="#03fffc"/><path d="M1550.2 897.5h6v5h-6z" fill="#1affe5"/><path d="M1555.2 897.5h6v5h-6z" fill="#3cffc3"/><path d="M1560.2 897.5h6v5h-6z" fill="#52ffad"/><path d="M1565.2 897.5h6v5h-6z" fill="#74ff8b"/><path d="M1570.2 897.5h6v5h-6z" fill="#a2ff5e"/><path d="M1575.2 897.5h6v5h-6z" fill="#daff25"/><path d="M1580.2 897.5h6v5h-6z" fill="#ffe000"/><path d="M1585.2 897.5h6v5h-6z" fill="#ff8500"/><path d="M1590.2 897.5h6v5h-6z" fill="#ff1f00"/><path d="M1595.2 897.5h6v5h-6z" fill="#c30000"/><path d="M1600.2 897.5h6v5h-6z" fill="#8b0000"/><path d="M1605.2 897.5h6v5h-6z" fill="#800000"/><path d="M1610.2 897.5h6v5h-6z" fill="#ad0000"/><path d="M1615.2 897.5h6v5h-6z" fill="#ff0800"/><path d="M1620.2 897.5h6v5h-6z" fill="#ff6300"/><path d="M1625.2 897.5h6v5h-6z" fill="#ffc900"/><path d="M1630.2 897.5h6v5h-6z" fill="#e5ff1a"/><path d="M1635.2 897.5h6v5h-6z" fill="#adff52"/><path d="M1640.2 897.5h6v5h-6z" fill="#80ff80"/><path d="M1645.2 897.5h6v5h-6z" fill="#5effa2"/><path d="M1650.2 897.5h6v5h-6z" fill="#3cffc3"/><path d="M1655.2 897.5h6v5h-6z" fill="#25ffda"/><path d="M1660.2 897.5h6v5h-6z" fill="#0efff1"/><path d="M1665.2 897.5h6v5h-6z" fill="#00f6ff"/><path d="M1670.2 897.5h6v5h-6z" fill="#00e0ff"/><path d="M1675.2 897.5h6v5h-6z" fill="#00c9ff"/><path d="M1680.2 897.5h6v5h-6z" fill="#00b3ff"/><path d="M1685.2 897.5h6v5h-6z" fill="#00a7ff"/><path d="M1690.2 897.5h6v5h-6z" fill="#0091ff"/><path d="M1695.2 897.5h6v5h-6z" fill="#0085ff"/><path d="M1700.2 897.5h6v5h-6z" fill="#007aff"/><path d="M1705.2 897.5h6v5h-6z" fill="#006fff"/><path d="M1710.2 897.5h6v5h-6z" fill="#0063ff"/><path d="M1715.2 897.5h11v5h-11z" fill="#0058ff"/><path d="M1725.2 897.5h11v5h-11z" fill="#004dff"/><path d="M1735.2 897.5h11v5h-11z" fill="#0041ff"/><path d="M1745.2 897.5h16v5h-16z" fill="#0036ff"/><path d="M1760.2 897.5h26v5h-26z" fill="#002aff"/><path d="M1785.2 897.5h31v5h-31z" fill="#001fff"/><path d="M1815.2 897.5h26v5h-26z" fill="#0014ff"/><path d="M1375.2 901.5h36v5h-36z" fill="#0000fc"/><path d="M1410.2 901.5h31v5h-31z" fill="#0008ff"/><path d="M1440.2 901.5h26v5h-26z" fill="#0014ff"/><path d="M1465.2 901.5h21v5h-21z" fill="#001fff"/><path d="M1485.2 901.5h11v5h-11z" fill="#002aff"/><path d="M1495.2 901.5h11v5h-11z" fill="#0036ff"/><path d="M1505.2 901.5h6v5h-6z" fill="#0041ff"/><path d="M1510.2 901.5h6v5h-6z" fill="#004dff"/><path d="M1515.2 901.5h6v5h-6z" fill="#0058ff"/><path d="M1520.2 901.5h6v5h-6z" fill="#0063ff"/><path d="M1525.2 901.5h6v5h-6z" fill="#006fff"/><path d="M1530.2 901.5h6v5h-6z" fill="#007aff"/><path d="M1535.2 901.5h6v5h-6z" fill="#0091ff"/><path d="M1540.2 901.5h6v5h-6z" fill="#009cff"/><path d="M1545.2 901.5h6v5h-6z" fill="#00b3ff"/><path d="M1550.2 901.5h6v5h-6z" fill="#00c9ff"/><path d="M1555.2 901.5h6v5h-6z" fill="#00ebff"/><path d="M1560.2 901.5h6v5h-6z" fill="#03fffc"/><path d="M1565.2 901.5h6v5h-6z" fill="#25ffda"/><path d="M1570.2 901.5h6v5h-6z" fill="#52ffad"/><path d="M1575.2 901.5h6v5h-6z" fill="#96ff69"/><path d="M1580.2 901.5h6v5h-6z" fill="#e5ff1a"/><path d="M1585.2 901.5h6v5h-6z" fill="#ffb300"/><path d="M1590.2 901.5h6v5h-6z" fill="#ff4c00"/><path d="M1595.2 901.5h6v5h-6z" fill="#e50000"/><path d="M1600.2 901.5h6v5h-6z" fill="#ad0000"/><path d="M1605.2 901.5h6v5h-6z" fill="#a20000"/><path d="M1610.2 901.5h6v5h-6z" fill="#da0000"/><path d="M1615.2 901.5h6v5h-6z" fill="#ff3600"/><path d="M1620.2 901.5h6v5h-6z" fill="#ff9c00"/><path d="M1625.2 901.5h6v5h-6z" fill="#fcff03"/><path d="M1630.2 901.5h6v5h-6z" fill="#a2ff5e"/><path d="M1635.2 901.5h6v5h-6z" fill="#5effa2"/><path d="M1640.2 901.5h6v5h-6z" fill="#30ffcf"/><path d="M1645.2 901.5h6v5h-6z" fill="#0efff1"/><path d="M1650.2 901.5h6v5h-6z" fill="#00ebff"/><path d="M1655.2 901.5h6v5h-6z" fill="#00d4ff"/><path d="M1660.2 901.5h6v5h-6z" fill="#00beff"/><path d="M1665.2 901.5h6v5h-6z" fill="#00a7ff"/><path d="M1670.2 901.5h6v5h-6z" fill="#0091ff"/><path d="M1675.2 901.5h6v5h-6z" fill="#0085ff"/><path d="M1680.2 901.5h6v5h-6z" fill="#006fff"/><path d="M1685.2 901.5h6v5h-6z" fill="#0063ff"/><path d="M1690.2 901.5h6v5h-6z" fill="#0058ff"/><path d="M1695.2 901.5h6v5h-6z" fill="#004dff"/><path d="M1700.2 901.5h6v5h-6z" fill="#0041ff"/><path d="M1705.2 901.5h11v5h-11z" fill="#0036ff"/><path d="M1715.2 901.5h16v5h-16z" fill="#002aff"/><path d="M1730.2 901.5h16v5h-16z" fill="#001fff"/><path d="M1745.2 901.5h26v5h-26z" fill="#0014ff"/><path d="M1770.2 901.5h36v5h-36z" fill="#0008ff"/><path d="M1805.2 901.5h36v5h-36z" fill="#0000fc"/><path d="M1375.2 905.5h36v5h-36z" fill="#0000e6"/><path d="M1410.2 905.5h36v5h-36z" fill="#0000f1"/><path d="M1445.2 905.5h31v5h-31z" fill="#0000fc"/><path d="M1475.2 905.5h21v5h-21z" fill="#0008ff"/><path d="M1495.2 905.5h16v5h-16z" fill="#0014ff"/><path d="M1510.2 905.5h6v5h-6z" fill="#001fff"/><path d="M1515.2 905.5h11v5h-11z" fill="#002aff"/><path d="M1525.2 905.5h6v5h-6z" fill="#0036ff"/><path d="M1530.2 905.5h6v5h-6z" fill="#0041ff"/><path d="M1535.2 905.5h6v5h-6z" fill="#004dff"/><path d="M1540.2 905.5h6v5h-6z" fill="#0063ff"/><path d="M1545.2 905.5h6v5h-6z" fill="#006fff"/><path d="M1550.2 905.5h6v5h-6z" fill="#0085ff"/><path d="M1555.2 905.5h6v5h-6z" fill="#009cff"/><path d="M1560.2 905.5h6v5h-6z" fill="#00beff"/><path d="M1565.2 905.5h6v5h-6z" fill="#00e0ff"/><path d="M1570.2 905.5h6v5h-6z" fill="#0efff1"/><path d="M1575.2 905.5h6v5h-6z" fill="#47ffb8"/><path d="M1580.2 905.5h6v5h-6z" fill="#96ff69"/><path d="M1585.2 905.5h6v5h-6z" fill="#fcff03"/><path d="M1590.2 905.5h6v5h-6z" fill="#ff9c00"/><path d="M1595.2 905.5h6v5h-6z" fill="#ff4100"/><path d="M1600.2 905.5h6v5h-6z" fill="#ff0800"/><path d="M1605.2 905.5h6v5h-6z" fill="#fc0000"/><path d="M1610.2 905.5h6v5h-6z" fill="#ff2a00"/><path d="M1615.2 905.5h6v5h-6z" fill="#ff8500"/><path d="M1620.2 905.5h6v5h-6z" fill="#ffeb00"/><path d="M1625.2 905.5h6v5h-6z" fill="#b8ff47"/><path d="M1630.2 905.5h6v5h-6z" fill="#5effa2"/><path d="M1635.2 905.5h6v5h-6z" fill="#1affe5"/><path d="M1640.2 905.5h6v5h-6z" fill="#00ebff"/><path d="M1645.2 905.5h6v5h-6z" fill="#00c9ff"/><path d="M1650.2 905.5h6v5h-6z" fill="#00a7ff"/><path d="M1655.2 905.5h6v5h-6z" fill="#0091ff"/><path d="M1660.2 905.5h6v5h-6z" fill="#007aff"/><path d="M1665.2 905.5h6v5h-6z" fill="#0063ff"/><path d="M1670.2 905.5h6v5h-6z" fill="#0058ff"/><path d="M1675.2 905.5h6v5h-6z" fill="#0041ff"/><path d="M1680.2 905.5h6v5h-6z" fill="#0036ff"/><path d="M1685.2 905.5h11v5h-11z" fill="#002aff"/><path d="M1695.2 905.5h11v5h-11z" fill="#001fff"/><path d="M1705.2 905.5h11v5h-11z" fill="#0014ff"/><path d="M1715.2 905.5h26v5h-26z" fill="#0008ff"/><path d="M1740.2 905.5h26v5h-26z" fill="#0000fc"/><path d="M1765.2 905.5h41v5h-41z" fill="#0000f1"/><path d="M1805.2 905.5h36v5h-36z" fill="#0000e6"/><path d="M1375.2 909.5h11v5h-11z" fill="#0000cf"/><path d="M1435.2 909.5h36v5h-36z" fill="#0000e6"/><path d="M1470.2 909.5h26v5h-26z" fill="#0000f1"/><path d="M1495.2 909.5h21v5h-21z" fill="#0000fc"/><path d="M1515.2 909.5h11v5h-11z" fill="#0008ff"/><path d="M1525.2 909.5h11v5h-11z" fill="#0014ff"/><path d="M1535.2 909.5h6v5h-6z" fill="#001fff"/><path d="M1540.2 909.5h6v5h-6z" fill="#002aff"/><path d="M1545.2 909.5h6v5h-6z" fill="#0041ff"/><path d="M1550.2 909.5h6v5h-6z" fill="#004dff"/><path d="M1555.2 909.5h6v5h-6z" fill="#0063ff"/><path d="M1560.2 909.5h6v5h-6z" fill="#007aff"/><path d="M1565.2 909.5h6v5h-6z" fill="#009cff"/><path d="M1570.2 909.5h6v5h-6z" fill="#00c9ff"/><path d="M1575.2 909.5h6v5h-6z" fill="#03fffc"/><path d="M1580.2 909.5h6v5h-6z" fill="#47ffb8"/><path d="M1585.2 909.5h6v5h-6z" fill="#a2ff5e"/><path d="M1590.2 909.5h6v5h-6z" fill="#fcff03"/><path d="M1595.2 909.5h6v5h-6z" fill="#ffb300"/><path d="M1600.2 909.5h6v5h-6z" fill="#ff8500"/><path d="M1605.2 909.5h6v5h-6z" fill="#ff7a00"/><path d="M1610.2 909.5h6v5h-6z" fill="#ffa700"/><path d="M1615.2 909.5h6v5h-6z" fill="#ffeb00"/><path d="M1620.2 909.5h6v5h-6z" fill="#b8ff47"/><path d="M1625.2 909.5h6v5h-6z" fill="#5effa2"/><path d="M1630.2 909.5h6v5h-6z" fill="#1affe5"/><path d="M1635.2 909.5h6v5h-6z" fill="#00d4ff"/><path d="M1640.2 909.5h6v5h-6z" fill="#00a7ff"/><path d="M1645.2 909.5h6v5h-6z" fill="#0085ff"/><path d="M1650.2 909.5h6v5h-6z" fill="#006fff"/><path d="M1655.2 909.5h6v5h-6z" fill="#0058ff"/><path d="M1660.2 909.5h6v5h-6z" fill="#0041ff"/><path d="M1665.2 909.5h6v5h-6z" fill="#0036ff"/><path d="M1670.2 909.5h6v5h-6z" fill="#002aff"/><path d="M1675.2 909.5h6v5h-6z" fill="#001fff"/><path d="M1680.2 909.5h6v5h-6z" fill="#0014ff"/><path d="M1685.2 909.5h11v5h-11z" fill="#0008ff"/><path d="M1695.2 909.5h21v5h-21z" fill="#0000fc"/><path d="M1715.2 909.5h26v5h-26z" fill="#0000f1"/><path d="M1740.2 909.5h41v5h-41z" fill="#0000e6"/><path d="M1825.2 909.5h16v5h-16z" fill="#0000cf"/><path d="M1375.2 913.5h21v5h-21z" fill="#0000c3"/><path d="M1395.2 913.5h51v5h-51z" fill="#0000cf"/><path d="M1480.2 913.5h31v5h-31z" fill="#0000e6"/><path d="M1510.2 913.5h16v5h-16z" fill="#0000f1"/><path d="M1525.2 913.5h11v5h-11z" fill="#0000fc"/><path d="M1535.2 913.5h11v5h-11z" fill="#0008ff"/><path d="M1545.2 913.5h6v5h-6z" fill="#0014ff"/><path d="M1550.2 913.5h6v5h-6z" fill="#002aff"/><path d="M1555.2 913.5h6v5h-6z" fill="#0036ff"/><path d="M1560.2 913.5h6v5h-6z" fill="#004dff"/><path d="M1565.2 913.5h6v5h-6z" fill="#006fff"/><path d="M1570.2 913.5h6v5h-6z" fill="#0091ff"/><path d="M1575.2 913.5h6v5h-6z" fill="#00c9ff"/><path d="M1580.2 913.5h6v5h-6z" fill="#03fffc"/><path d="M1585.2 913.5h6v5h-6z" fill="#47ffb8"/><path d="M1590.2 913.5h6v5h-6z" fill="#8bff74"/><path d="M1595.2 913.5h6v5h-6z" fill="#cfff30"/><path d="M1600.2 913.5h11v5h-11z" fill="#f1ff0e"/><path d="M1610.2 913.5h6v5h-6z" fill="#daff25"/><path d="M1615.2 913.5h6v5h-6z" fill="#a2ff5e"/><path d="M1620.2 913.5h6v5h-6z" fill="#5effa2"/><path d="M1625.2 913.5h6v5h-6z" fill="#0efff1"/><path d="M1630.2 913.5h6v5h-6z" fill="#00d4ff"/><path d="M1635.2 913.5h6v5h-6z" fill="#009cff"/><path d="M1640.2 913.5h6v5h-6z" fill="#007aff"/><path d="M1645.2 913.5h6v5h-6z" fill="#0058ff"/><path d="M1650.2 913.5h6v5h-6z" fill="#0041ff"/><path d="M1655.2 913.5h6v5h-6z" fill="#002aff"/><path d="M1660.2 913.5h6v5h-6z" fill="#001fff"/><path d="M1665.2 913.5h6v5h-6z" fill="#0014ff"/><path d="M1670.2 913.5h6v5h-6z" fill="#0008ff"/><path d="M1675.2 913.5h11v5h-11z" fill="#0000fc"/><path d="M1685.2 913.5h21v5h-21z" fill="#0000f1"/><path d="M1705.2 913.5h26v5h-26z" fill="#0000e6"/><path d="M1765.2 913.5h56v5h-56z" fill="#0000cf"/><path d="M1820.2 913.5h21v5h-21z" fill="#0000c3"/><path d="M1375.2 917.5h61v5h-61z" fill="#0000c3"/><path d="M1435.2 917.5h46v5h-46z" fill="#0000cf"/><path d="M1510.2 917.5h21v5h-21z" fill="#0000e6"/><path d="M1530.2 917.5h11v5h-11z" fill="#0000f1"/><path d="M1540.2 917.5h11v5h-11z" fill="#0000fc"/><path d="M1550.2 917.5h6v5h-6z" fill="#0008ff"/><path d="M1555.2 917.5h6v5h-6z" fill="#001fff"/><path d="M1560.2 917.5h6v5h-6z" fill="#002aff"/><path d="M1565.2 917.5h6v5h-6z" fill="#004dff"/><path d="M1570.2 917.5h6v5h-6z" fill="#006fff"/><path d="M1575.2 917.5h6v5h-6z" fill="#0091ff"/><path d="M1580.2 917.5h6v5h-6z" fill="#00c9ff"/><path d="M1585.2 917.5h6v5h-6z" fill="#03fffc"/><path d="M1590.2 917.5h6v5h-6z" fill="#30ffcf"/><path d="M1595.2 917.5h6v5h-6z" fill="#69ff96"/><path d="M1600.2 917.5h6v5h-6z" fill="#80ff80"/><path d="M1605.2 917.5h6v5h-6z" fill="#8bff74"/><path d="M1610.2 917.5h6v5h-6z" fill="#69ff96"/><path d="M1615.2 917.5h6v5h-6z" fill="#47ffb8"/><path d="M1620.2 917.5h6v5h-6z" fill="#0efff1"/><path d="M1625.2 917.5h6v5h-6z" fill="#00d4ff"/><path d="M1630.2 917.5h6v5h-6z" fill="#009cff"/><path d="M1635.2 917.5h6v5h-6z" fill="#007aff"/><path d="M1640.2 917.5h6v5h-6z" fill="#004dff"/><path d="M1645.2 917.5h6v5h-6z" fill="#0036ff"/><path d="M1650.2 917.5h6v5h-6z" fill="#001fff"/><path d="M1655.2 917.5h6v5h-6z" fill="#0014ff"/><path d="M1660.2 917.5h11v5h-11z" fill="#0000fc"/><path d="M1670.2 917.5h11v5h-11z" fill="#0000f1"/><path d="M1680.2 917.5h21v5h-21z" fill="#0000e6"/><path d="M1735.2 917.5h41v5h-41z" fill="#0000cf"/><path d="M1775.2 917.5h61v5h-61z" fill="#0000c3"/><path d="M1835.2 917.5h6v5h-6z" fill="#0000b8"/><path d="M1375.2 921.5h26v5h-26z" fill="#0000b8"/><path d="M1400.2 921.5h56v5h-56z" fill="#0000c3"/><path d="M1455.2 921.5h41v5h-41z" fill="#0000cf"/><path d="M1525.2 921.5h16v5h-16z" fill="#0000e6"/><path d="M1540.2 921.5h11v5h-11z" fill="#0000f1"/><path d="M1550.2 921.5h6v5h-6z" fill="#0000fc"/><path d="M1555.2 921.5h6v5h-6z" fill="#0008ff"/><path d="M1560.2 921.5h6v5h-6z" fill="#001fff"/><path d="M1565.2 921.5h6v5h-6z" fill="#0036ff"/><path d="M1570.2 921.5h6v5h-6z" fill="#0058ff"/><path d="M1575.2 921.5h6v5h-6z" fill="#007aff"/><path d="M1580.2 921.5h6v5h-6z" fill="#00a7ff"/><path d="M1585.2 921.5h6v5h-6z" fill="#00d4ff"/><path d="M1590.2 921.5h6v5h-6z" fill="#03fffc"/><path d="M1595.2 921.5h6v5h-6z" fill="#25ffda"/><path d="M1600.2 921.5h11v5h-11z" fill="#3cffc3"/><path d="M1610.2 921.5h6v5h-6z" fill="#25ffda"/><path d="M1615.2 921.5h6v5h-6z" fill="#0efff1"/><path d="M1620.2 921.5h6v5h-6z" fill="#00e0ff"/><path d="M1625.2 921.5h6v5h-6z" fill="#00b3ff"/><path d="M1630.2 921.5h6v5h-6z" fill="#0085ff"/><path d="M1635.2 921.5h6v5h-6z" fill="#0058ff"/><path d="M1640.2 921.5h6v5h-6z" fill="#0041ff"/><path d="M1645.2 921.5h6v5h-6z" fill="#001fff"/><path d="M1650.2 921.5h6v5h-6z" fill="#0014ff"/><path d="M1655.2 921.5h6v5h-6z" fill="#0000fc"/><path d="M1660.2 921.5h11v5h-11z" fill="#0000f1"/><path d="M1670.2 921.5h21v5h-21z" fill="#0000e6"/><path d="M1715.2 921.5h41v5h-41z" fill="#0000cf"/><path d="M1755.2 921.5h56v5h-56z" fill="#0000c3"/><path d="M1810.2 921.5h31v5h-31z" fill="#0000b8"/><path d="M1375.2 925.5h26v5h-26z" fill="#0000b8"/><path d="M1400.2 925.5h56v5h-56z" fill="#0000c3"/><path d="M1455.2 925.5h41v5h-41z" fill="#0000cf"/><path d="M1525.2 925.5h16v5h-16z" fill="#0000e6"/><path d="M1540.2 925.5h11v5h-11z" fill="#0000f1"/><path d="M1550.2 925.5h6v5h-6z" fill="#0000fc"/><path d="M1555.2 925.5h6v5h-6z" fill="#0008ff"/><path d="M1560.2 925.5h6v5h-6z" fill="#001fff"/><path d="M1565.2 925.5h6v5h-6z" fill="#0036ff"/><path d="M1570.2 925.5h6v5h-6z" fill="#004dff"/><path d="M1575.2 925.5h6v5h-6z" fill="#006fff"/><path d="M1580.2 925.5h6v5h-6z" fill="#009cff"/><path d="M1585.2 925.5h6v5h-6z" fill="#00beff"/><path d="M1590.2 925.5h6v5h-6z" fill="#00e0ff"/><path d="M1595.2 925.5h6v5h-6z" fill="#03fffc"/><path d="M1600.2 925.5h11v5h-11z" fill="#1affe5"/><path d="M1610.2 925.5h6v5h-6z" fill="#0efff1"/><path d="M1615.2 925.5h6v5h-6z" fill="#00ebff"/><path d="M1620.2 925.5h6v5h-6z" fill="#00c9ff"/><path d="M1625.2 925.5h6v5h-6z" fill="#00a7ff"/><path d="M1630.2 925.5h6v5h-6z" fill="#007aff"/><path d="M1635.2 925.5h6v5h-6z" fill="#0058ff"/><path d="M1640.2 925.5h6v5h-6z" fill="#0036ff"/><path d="M1645.2 925.5h6v5h-6z" fill="#001fff"/><path d="M1650.2 925.5h6v5h-6z" fill="#0014ff"/><path d="M1655.2 925.5h6v5h-6z" fill="#0000fc"/><path d="M1660.2 925.5h11v5h-11z" fill="#0000f1"/><path d="M1670.2 925.5h21v5h-21z" fill="#0000e6"/><path d="M1720.2 925.5h36v5h-36z" fill="#0000cf"/><path d="M1755.2 925.5h56v5h-56z" fill="#0000c3"/><path d="M1810.2 925.5h31v5h-31z" fill="#0000b8"/><path d="M1375.2 929.5h56v5h-56z" fill="#0000c3"/><path d="M1430.2 929.5h46v5h-46z" fill="#0000cf"/><path d="M1510.2 929.5h21v5h-21z" fill="#0000e6"/><path d="M1530.2 929.5h11v5h-11z" fill="#0000f1"/><path d="M1540.2 929.5h11v5h-11z" fill="#0000fc"/><path d="M1550.2 929.5h6v5h-6z" fill="#0008ff"/><path d="M1555.2 929.5h6v5h-6z" fill="#0014ff"/><path d="M1560.2 929.5h6v5h-6z" fill="#002aff"/><path d="M1565.2 929.5h6v5h-6z" fill="#0041ff"/><path d="M1570.2 929.5h6v5h-6z" fill="#0063ff"/><path d="M1575.2 929.5h6v5h-6z" fill="#0085ff"/><path d="M1580.2 929.5h6v5h-6z" fill="#00a7ff"/><path d="M1585.2 929.5h6v5h-6z" fill="#00c9ff"/><path d="M1590.2 929.5h6v5h-6z" fill="#00e0ff"/><path d="M1595.2 929.5h6v5h-6z" fill="#03fffc"/><path d="M1600.2 929.5h11v5h-11z" fill="#0efff1"/><path d="M1610.2 929.5h6v5h-6z" fill="#03fffc"/><path d="M1615.2 929.5h6v5h-6z" fill="#00ebff"/><path d="M1620.2 929.5h6v5h-6z" fill="#00c9ff"/><path d="M1625.2 929.5h6v5h-6z" fill="#00a7ff"/><path d="M1630.2 929.5h6v5h-6z" fill="#0085ff"/><path d="M1635.2 929.5h6v5h-6z" fill="#0063ff"/><path d="M1640.2 929.5h6v5h-6z" fill="#004dff"/><path d="M1645.2 929.5h6v5h-6z" fill="#0036ff"/><path d="M1650.2 929.5h6v5h-6z" fill="#001fff"/><path d="M1655.2 929.5h6v5h-6z" fill="#0008ff"/><path d="M1660.2 929.5h11v5h-11z" fill="#0000fc"/><path d="M1670.2 929.5h11v5h-11z" fill="#0000f1"/><path d="M1680.2 929.5h26v5h-26z" fill="#0000e6"/><path d="M1735.2 929.5h46v5h-46z" fill="#0000cf"/><path d="M1780.2 929.5h61v5h-61z" fill="#0000c3"/><path d="M1375.2 933.5h11v5h-11z" fill="#0000c3"/><path d="M1385.2 933.5h56v5h-56z" fill="#0000cf"/><path d="M1475.2 933.5h31v5h-31z" fill="#0000e6"/><path d="M1505.2 933.5h21v5h-21z" fill="#0000f1"/><path d="M1525.2 933.5h11v5h-11z" fill="#0000fc"/><path d="M1535.2 933.5h11v5h-11z" fill="#0008ff"/><path d="M1545.2 933.5h6v5h-6z" fill="#0014ff"/><path d="M1550.2 933.5h6v5h-6z" fill="#001fff"/><path d="M1555.2 933.5h6v5h-6z" fill="#0036ff"/><path d="M1560.2 933.5h6v5h-6z" fill="#004dff"/><path d="M1565.2 933.5h6v5h-6z" fill="#0063ff"/><path d="M1570.2 933.5h6v5h-6z" fill="#0085ff"/><path d="M1575.2 933.5h6v5h-6z" fill="#009cff"/><path d="M1580.2 933.5h6v5h-6z" fill="#00beff"/><path d="M1585.2 933.5h6v5h-6z" fill="#00e0ff"/><path d="M1590.2 933.5h6v5h-6z" fill="#00f6ff"/><path d="M1595.2 933.5h6v5h-6z" fill="#0efff1"/><path d="M1600.2 933.5h11v5h-11z" fill="#1affe5"/><path d="M1610.2 933.5h6v5h-6z" fill="#0efff1"/><path d="M1615.2 933.5h6v5h-6z" fill="#03fffc"/><path d="M1620.2 933.5h6v5h-6z" fill="#00e0ff"/><path d="M1625.2 933.5h6v5h-6z" fill="#00c9ff"/><path d="M1630.2 933.5h6v5h-6z" fill="#00a7ff"/><path d="M1635.2 933.5h6v5h-6z" fill="#0085ff"/><path d="M1640.2 933.5h6v5h-6z" fill="#006fff"/><path d="M1645.2 933.5h6v5h-6z" fill="#004dff"/><path d="M1650.2 933.5h6v5h-6z" fill="#0036ff"/><path d="M1655.2 933.5h6v5h-6z" fill="#002aff"/><path d="M1660.2 933.5h6v5h-6z" fill="#0014ff"/><path d="M1665.2 933.5h11v5h-11z" fill="#0008ff"/><path d="M1675.2 933.5h11v5h-11z" fill="#0000fc"/><path d="M1685.2 933.5h21v5h-21z" fill="#0000f1"/><path d="M1705.2 933.5h31v5h-31z" fill="#0000e6"/><path d="M1775.2 933.5h51v5h-51z" fill="#0000cf"/><path d="M1825.2 933.5h16v5h-16z" fill="#0000c3"/><path d="M1425.2 937.5h41v5h-41z" fill="#0000e6"/><path d="M1465.2 937.5h31v5h-31z" fill="#0000f1"/><path d="M1495.2 937.5h21v5h-21z" fill="#0000fc"/><path d="M1515.2 937.5h11v5h-11z" fill="#0008ff"/><path d="M1525.2 937.5h11v5h-11z" fill="#0014ff"/><path d="M1535.2 937.5h6v5h-6z" fill="#001fff"/><path d="M1540.2 937.5h6v5h-6z" fill="#002aff"/><path d="M1545.2 937.5h6v5h-6z" fill="#0036ff"/><path d="M1550.2 937.5h6v5h-6z" fill="#004dff"/><path d="M1555.2 937.5h6v5h-6z" fill="#0063ff"/><path d="M1560.2 937.5h6v5h-6z" fill="#007aff"/><path d="M1565.2 937.5h6v5h-6z" fill="#0091ff"/><path d="M1570.2 937.5h6v5h-6z" fill="#00a7ff"/><path d="M1575.2 937.5h6v5h-6z" fill="#00c9ff"/><path d="M1580.2 937.5h6v5h-6z" fill="#00e0ff"/><path d="M1585.2 937.5h6v5h-6z" fill="#03fffc"/><path d="M1590.2 937.5h6v5h-6z" fill="#1affe5"/><path d="M1595.2 937.5h6v5h-6z" fill="#25ffda"/><path d="M1600.2 937.5h11v5h-11z" fill="#30ffcf"/><path d="M1610.2 937.5h6v5h-6z" fill="#25ffda"/><path d="M1615.2 937.5h6v5h-6z" fill="#1affe5"/><path d="M1620.2 937.5h6v5h-6z" fill="#03fffc"/><path d="M1625.2 937.5h6v5h-6z" fill="#00ebff"/><path d="M1630.2 937.5h6v5h-6z" fill="#00d4ff"/><path d="M1635.2 937.5h6v5h-6z" fill="#00b3ff"/><path d="M1640.2 937.5h6v5h-6z" fill="#009cff"/><path d="M1645.2 937.5h6v5h-6z" fill="#007aff"/><path d="M1650.2 937.5h6v5h-6z" fill="#0063ff"/><path d="M1655.2 937.5h6v5h-6z" fill="#004dff"/><path d="M1660.2 937.5h6v5h-6z" fill="#0041ff"/><path d="M1665.2 937.5h6v5h-6z" fill="#0036ff"/><path d="M1670.2 937.5h11v5h-11z" fill="#001fff"/><path d="M1680.2 937.5h6v5h-6z" fill="#0014ff"/><path d="M1685.2 937.5h16v5h-16z" fill="#0008ff"/><path d="M1700.2 937.5h21v5h-21z" fill="#0000fc"/><path d="M1720.2 937.5h31v5h-31z" fill="#0000f1"/><path d="M1750.2 937.5h36v5h-36z" fill="#0000e6"/><path d="M1835.2 937.5h6v5h-6z" fill="#0000cf"/><path d="M1375.2 941.5h26v5h-26z" fill="#0000e6"/><path d="M1400.2 941.5h36v5h-36z" fill="#0000f1"/><path d="M1435.2 941.5h36v5h-36z" fill="#0000fc"/><path d="M1470.2 941.5h21v5h-21z" fill="#0008ff"/><path d="M1490.2 941.5h16v5h-16z" fill="#0014ff"/><path d="M1505.2 941.5h11v5h-11z" fill="#001fff"/><path d="M1515.2 941.5h11v5h-11z" fill="#002aff"/><path d="M1525.2 941.5h6v5h-6z" fill="#0036ff"/><path d="M1530.2 941.5h6v5h-6z" fill="#0041ff"/><path d="M1535.2 941.5h6v5h-6z" fill="#004dff"/><path d="M1540.2 941.5h6v5h-6z" fill="#0058ff"/><path d="M1545.2 941.5h6v5h-6z" fill="#006fff"/><path d="M1550.2 941.5h6v5h-6z" fill="#0085ff"/><path d="M1555.2 941.5h6v5h-6z" fill="#009cff"/><path d="M1560.2 941.5h6v5h-6z" fill="#00b3ff"/><path d="M1565.2 941.5h6v5h-6z" fill="#00c9ff"/><path d="M1570.2 941.5h6v5h-6z" fill="#00e0ff"/><path d="M1575.2 941.5h6v5h-6z" fill="#00f6ff"/><path d="M1580.2 941.5h6v5h-6z" fill="#0efff1"/><path d="M1585.2 941.5h6v5h-6z" fill="#25ffda"/><path d="M1590.2 941.5h6v5h-6z" fill="#3cffc3"/><path d="M1595.2 941.5h6v5h-6z" fill="#47ffb8"/><path d="M1600.2 941.5h16v5h-16z" fill="#52ffad"/><path d="M1615.2 941.5h6v5h-6z" fill="#3cffc3"/><path d="M1620.2 941.5h6v5h-6z" fill="#30ffcf"/><path d="M1625.2 941.5h6v5h-6z" fill="#1affe5"/><path d="M1630.2 941.5h6v5h-6z" fill="#03fffc"/><path d="M1635.2 941.5h6v5h-6z" fill="#00ebff"/><path d="M1640.2 941.5h6v5h-6z" fill="#00c9ff"/><path d="M1645.2 941.5h6v5h-6z" fill="#00b3ff"/><path d="M1650.2 941.5h6v5h-6z" fill="#009cff"/><path d="M1655.2 941.5h6v5h-6z" fill="#0085ff"/><path d="M1660.2 941.5h6v5h-6z" fill="#006fff"/><path d="M1665.2 941.5h6v5h-6z" fill="#0063ff"/><path d="M1670.2 941.5h6v5h-6z" fill="#004dff"/><path d="M1675.2 941.5h6v5h-6z" fill="#0041ff"/><path d="M1680.2 941.5h6v5h-6z" fill="#0036ff"/><path d="M1685.2 941.5h11v5h-11z" fill="#002aff"/><path d="M1695.2 941.5h11v5h-11z" fill="#001fff"/><path d="M1705.2 941.5h16v5h-16z" fill="#0014ff"/><path d="M1720.2 941.5h26v5h-26z" fill="#0008ff"/><path d="M1745.2 941.5h31v5h-31z" fill="#0000fc"/><path d="M1775.2 941.5h41v5h-41z" fill="#0000f1"/><path d="M1815.2 941.5h26v5h-26z" fill="#0000e6"/><path d="M1375.2 945.5h26v5h-26z" fill="#0000fc"/><path d="M1400.2 945.5h31v5h-31z" fill="#0008ff"/><path d="M1430.2 945.5h31v5h-31z" fill="#0014ff"/><path d="M1460.2 945.5h21v5h-21z" fill="#001fff"/><path d="M1480.2 945.5h16v5h-16z" fill="#002aff"/><path d="M1495.2 945.5h11v5h-11z" fill="#0036ff"/><path d="M1505.2 945.5h6v5h-6z" fill="#0041ff"/><path d="M1510.2 945.5h6v5h-6z" fill="#004dff"/><path d="M1515.2 945.5h6v5h-6z" fill="#0058ff"/><path d="M1520.2 945.5h6v5h-6z" fill="#0063ff"/><path d="M1525.2 945.5h6v5h-6z" fill="#006fff"/><path d="M1530.2 945.5h6v5h-6z" fill="#007aff"/><path d="M1535.2 945.5h6v5h-6z" fill="#0085ff"/><path d="M1540.2 945.5h6v5h-6z" fill="#009cff"/><path d="M1545.2 945.5h6v5h-6z" fill="#00a7ff"/><path d="M1550.2 945.5h6v5h-6z" fill="#00beff"/><path d="M1555.2 945.5h6v5h-6z" fill="#00d4ff"/><path d="M1560.2 945.5h6v5h-6z" fill="#00ebff"/><path d="M1565.2 945.5h6v5h-6z" fill="#03fffc"/><path d="M1570.2 945.5h6v5h-6z" fill="#1affe5"/><path d="M1575.2 945.5h6v5h-6z" fill="#30ffcf"/><path d="M1580.2 945.5h6v5h-6z" fill="#47ffb8"/><path d="M1585.2 945.5h6v5h-6z" fill="#5effa2"/><path d="M1590.2 945.5h6v5h-6z" fill="#69ff96"/><path d="M1595.2 945.5h6v5h-6z" fill="#74ff8b"/><path d="M1600.2 945.5h16v5h-16z" fill="#80ff80"/><path d="M1615.2 945.5h6v5h-6z" fill="#69ff96"/><path d="M1620.2 945.5h6v5h-6z" fill="#5effa2"/><path d="M1625.2 945.5h6v5h-6z" fill="#47ffb8"/><path d="M1630.2 945.5h6v5h-6z" fill="#3cffc3"/><path d="M1635.2 945.5h6v5h-6z" fill="#25ffda"/><path d="M1640.2 945.5h6v5h-6z" fill="#0efff1"/><path d="M1645.2 945.5h6v5h-6z" fill="#00f6ff"/><path d="M1650.2 945.5h6v5h-6z" fill="#00e0ff"/><path d="M1655.2 945.5h6v5h-6z" fill="#00c9ff"/><path d="M1660.2 945.5h6v5h-6z" fill="#00b3ff"/><path d="M1665.2 945.5h6v5h-6z" fill="#009cff"/><path d="M1670.2 945.5h6v5h-6z" fill="#0091ff"/><path d="M1675.2 945.5h6v5h-6z" fill="#007aff"/><path d="M1680.2 945.5h6v5h-6z" fill="#006fff"/><path d="M1685.2 945.5h6v5h-6z" fill="#0063ff"/><path d="M1690.2 945.5h6v5h-6z" fill="#0058ff"/><path d="M1695.2 945.5h6v5h-6z" fill="#004dff"/><path d="M1700.2 945.5h11v5h-11z" fill="#0041ff"/><path d="M1710.2 945.5h11v5h-11z" fill="#0036ff"/><path d="M1720.2 945.5h11v5h-11z" fill="#002aff"/><path d="M1730.2 945.5h21v5h-21z" fill="#001fff"/><path d="M1750.2 945.5h31v5h-31z" fill="#0014ff"/><path d="M1780.2 945.5h36v5h-36z" fill="#0008ff"/><path d="M1815.2 945.5h26v5h-26z" fill="#0000fc"/><path d="M1375.2 949.5h11v5h-11z" fill="#0014ff"/><path d="M1385.2 949.5h31v5h-31z" fill="#001fff"/><path d="M1415.2 949.5h26v5h-26z" fill="#002aff"/><path d="M1440.2 949.5h21v5h-21z" fill="#0036ff"/><path d="M1460.2 949.5h16v5h-16z" fill="#0041ff"/><path d="M1475.2 949.5h11v5h-11z" fill="#004dff"/><path d="M1485.2 949.5h11v5h-11z" fill="#0058ff"/><path d="M1495.2 949.5h6v5h-6z" fill="#0063ff"/><path d="M1500.2 949.5h6v5h-6z" fill="#006fff"/><path d="M1505.2 949.5h6v5h-6z" fill="#007aff"/><path d="M1510.2 949.5h6v5h-6z" fill="#0085ff"/><path d="M1515.2 949.5h6v5h-6z" fill="#0091ff"/><path d="M1520.2 949.5h6v5h-6z" fill="#009cff"/><path d="M1525.2 949.5h6v5h-6z" fill="#00a7ff"/><path d="M1530.2 949.5h6v5h-6z" fill="#00beff"/><path d="M1535.2 949.5h6v5h-6z" fill="#00c9ff"/><path d="M1540.2 949.5h6v5h-6z" fill="#00e0ff"/><path d="M1545.2 949.5h6v5h-6z" fill="#00f6ff"/><path d="M1550.2 949.5h6v5h-6z" fill="#03fffc"/><path d="M1555.2 949.5h6v5h-6z" fill="#1affe5"/><path d="M1560.2 949.5h6v5h-6z" fill="#30ffcf"/><path d="M1565.2 949.5h6v5h-6z" fill="#47ffb8"/><path d="M1570.2 949.5h6v5h-6z" fill="#5effa2"/><path d="M1575.2 949.5h6v5h-6z" fill="#74ff8b"/><path d="M1580.2 949.5h6v5h-6z" fill="#80ff80"/><path d="M1585.2 949.5h6v5h-6z" fill="#96ff69"/><path d="M1590.2 949.5h6v5h-6z" fill="#a2ff5e"/><path d="M1595.2 949.5h6v5h-6z" fill="#adff52"/><path d="M1600.2 949.5h11v5h-11z" fill="#b8ff47"/><path d="M1610.2 949.5h6v5h-6z" fill="#adff52"/><path d="M1615.2 949.5h6v5h-6z" fill="#a2ff5e"/><path d="M1620.2 949.5h6v5h-6z" fill="#96ff69"/><path d="M1625.2 949.5h6v5h-6z" fill="#8bff74"/><path d="M1630.2 949.5h6v5h-6z" fill="#74ff8b"/><path d="M1635.2 949.5h6v5h-6z" fill="#5effa2"/><path d="M1640.2 949.5h6v5h-6z" fill="#47ffb8"/><path d="M1645.2 949.5h6v5h-6z" fill="#3cffc3"/><path d="M1650.2 949.5h6v5h-6z" fill="#25ffda"/><path d="M1655.2 949.5h6v5h-6z" fill="#0efff1"/><path d="M1660.2 949.5h6v5h-6z" fill="#00f6ff"/><path d="M1665.2 949.5h6v5h-6z" fill="#00e0ff"/><path d="M1670.2 949.5h6v5h-6z" fill="#00d4ff"/><path d="M1675.2 949.5h6v5h-6z" fill="#00beff"/><path d="M1680.2 949.5h6v5h-6z" fill="#00b3ff"/><path d="M1685.2 949.5h6v5h-6z" fill="#009cff"/><path d="M1690.2 949.5h6v5h-6z" fill="#0091ff"/><path d="M1695.2 949.5h6v5h-6z" fill="#0085ff"/><path d="M1700.2 949.5h6v5h-6z" fill="#007aff"/><path d="M1705.2 949.5h6v5h-6z" fill="#006fff"/><path d="M1710.2 949.5h11v5h-11z" fill="#0063ff"/><path d="M1720.2 949.5h6v5h-6z" fill="#0058ff"/><path d="M1725.2 949.5h11v5h-11z" fill="#004dff"/><path d="M1735.2 949.5h16v5h-16z" fill="#0041ff"/><path d="M1750.2 949.5h21v5h-21z" fill="#0036ff"/><path d="M1770.2 949.5h26v5h-26z" fill="#002aff"/><path d="M1795.2 949.5h31v5h-31z" fill="#001fff"/><path d="M1825.2 949.5h16v5h-16z" fill="#0014ff"/><path d="M1375.2 953.5h21v5h-21z" fill="#0036ff"/><path d="M1395.2 953.5h26v5h-26z" fill="#0041ff"/><path d="M1420.2 953.5h16v5h-16z" fill="#004dff"/><path d="M1435.2 953.5h16v5h-16z" fill="#0058ff"/><path d="M1450.2 953.5h11v5h-11z" fill="#0063ff"/><path d="M1460.2 953.5h11v5h-11z" fill="#006fff"/><path d="M1470.2 953.5h11v5h-11z" fill="#007aff"/><path d="M1480.2 953.5h6v5h-6z" fill="#0085ff"/><path d="M1485.2 953.5h6v5h-6z" fill="#0091ff"/><path d="M1490.2 953.5h11v5h-11z" fill="#009cff"/><path d="M1500.2 953.5h6v5h-6z" fill="#00a7ff"/><path d="M1505.2 953.5h6v5h-6z" fill="#00beff"/><path d="M1510.2 953.5h6v5h-6z" fill="#00c9ff"/><path d="M1515.2 953.5h6v5h-6z" fill="#00d4ff"/><path d="M1520.2 953.5h6v5h-6z" fill="#00e0ff"/><path d="M1525.2 953.5h6v5h-6z" fill="#00f6ff"/><path d="M1530.2 953.5h6v5h-6z" fill="#03fffc"/><path d="M1535.2 953.5h6v5h-6z" fill="#1affe5"/><path d="M1540.2 953.5h6v5h-6z" fill="#25ffda"/><path d="M1545.2 953.5h6v5h-6z" fill="#3cffc3"/><path d="M1550.2 953.5h6v5h-6z" fill="#52ffad"/><path d="M1555.2 953.5h6v5h-6z" fill="#5effa2"/><path d="M1560.2 953.5h6v5h-6z" fill="#74ff8b"/><path d="M1565.2 953.5h6v5h-6z" fill="#8bff74"/><path d="M1570.2 953.5h6v5h-6z" fill="#a2ff5e"/><path d="M1575.2 953.5h6v5h-6z" fill="#adff52"/><path d="M1580.2 953.5h6v5h-6z" fill="#c3ff3c"/><path d="M1585.2 953.5h6v5h-6z" fill="#cfff30"/><path d="M1590.2 953.5h6v5h-6z" fill="#daff25"/><path d="M1595.2 953.5h11v5h-11z" fill="#f1ff0e"/><path d="M1605.2 953.5h6v5h-6z" fill="#fcff03"/><path d="M1610.2 953.5h6v5h-6z" fill="#f1ff0e"/><path d="M1615.2 953.5h6v5h-6z" fill="#e5ff1a"/><path d="M1620.2 953.5h6v5h-6z" fill="#daff25"/><path d="M1625.2 953.5h6v5h-6z" fill="#c3ff3c"/><path d="M1630.2 953.5h6v5h-6z" fill="#b8ff47"/><path d="M1635.2 953.5h6v5h-6z" fill="#a2ff5e"/><path d="M1640.2 953.5h6v5h-6z" fill="#8bff74"/><path d="M1645.2 953.5h6v5h-6z" fill="#80ff80"/><path d="M1650.2 953.5h6v5h-6z" fill="#69ff96"/><path d="M1655.2 953.5h6v5h-6z" fill="#52ffad"/><path d="M1660.2 953.5h6v5h-6z" fill="#3cffc3"/><path d="M1665.2 953.5h6v5h-6z" fill="#30ffcf"/><path d="M1670.2 953.5h6v5h-6z" fill="#1affe5"/><path d="M1675.2 953.5h6v5h-6z" fill="#0efff1"/><path d="M1680.2 953.5h6v5h-6z" fill="#00f6ff"/><path d="M1685.2 953.5h6v5h-6z" fill="#00ebff"/><path d="M1690.2 953.5h6v5h-6z" fill="#00d4ff"/><path d="M1695.2 953.5h6v5h-6z" fill="#00c9ff"/><path d="M1700.2 953.5h6v5h-6z" fill="#00beff"/><path d="M1705.2 953.5h6v5h-6z" fill="#00b3ff"/><path d="M1710.2 953.5h6v5h-6z" fill="#00a7ff"/><path d="M1715.2 953.5h6v5h-6z" fill="#009cff"/><path d="M1720.2 953.5h6v5h-6z" fill="#0091ff"/><path d="M1725.2 953.5h6v5h-6z" fill="#0085ff"/><path d="M1730.2 953.5h11v5h-11z" fill="#007aff"/><path d="M1740.2 953.5h11v5h-11z" fill="#006fff"/><path d="M1750.2 953.5h11v5h-11z" fill="#0063ff"/><path d="M1760.2 953.5h16v5h-16z" fill="#0058ff"/><path d="M1775.2 953.5h21v5h-21z" fill="#004dff"/><path d="M1795.2 953.5h26v5h-26z" fill="#0041ff"/><path d="M1820.2 953.5h21v5h-21z" fill="#0036ff"/></g></g>
<rect x="74.7" y="1021.6" width="208.9" height="422.5" fill="#fbe5d6"/>
<rect x="283.6" y="1021.6" width="261.5" height="427.5" fill="#bdd7ee"/>
<polyline points="74.7,1093.8 76.6,1094.5 78.5,1095.2 80.3,1095.9 82.2,1096.7 84.1,1097.4 86,1098.1 87.9,1098.8 89.8,1099.6 91.6,1100.3 93.5,1101 95.4,1101.7 97.3,1102.5 99.2,1103.2 101,1103.9 102.9,1104.7 104.8,1105.4 106.7,1106.1 108.6,1106.8 110.5,1107.6 112.3,1108.3 114.2,1109 116.1,1109.7 118,1110.5 119.9,1111.2 121.7,1111.9 123.6,1112.6 125.5,1113.4 127.4,1114.1 129.3,1114.8 131.1,1115.5 133,1116.3 134.9,1117 136.8,1117.7 138.7,1118.4 140.6,1119.2 142.4,1119.9 144.3,1120.6 146.2,1121.3 148.1,1122.1 150,1122.8 151.8,1123.5 153.7,1124.2 155.6,1125 157.5,1125.7 159.4,1126.4 161.3,1127.2 163.1,1127.9 165,1128.6 166.9,1129.3 168.8,1130.1 170.7,1130.8 172.5,1131.5 174.4,1132.2 176.3,1133 178.2,1133.7 180.1,1134.4 182,1135.1 183.8,1135.9 185.7,1136.6 187.6,1137.3 189.5,1138 191.4,1138.8 193.2,1139.5 195.1,1140.2 197,1140.9 198.9,1141.7 200.8,1142.4 202.6,1143.1 204.5,1143.8 206.4,1144.6 208.3,1145.3 210.2,1146 212.1,1146.8 213.9,1147.5 215.8,1148.2 217.7,1148.9 219.6,1149.7 221.5,1150.4 223.3,1151.1 225.2,1151.8 227.1,1152.6 229,1153.3 230.9,1154 232.8,1154.7 234.6,1155.5 236.5,1156.2 238.4,1156.9 240.3,1157.6 242.2,1158.4 244,1159.1 245.9,1159.8 247.8,1160.5 249.7,1161.3 251.6,1162 253.5,1162.7 255.3,1163.4 257.2,1164.2 259.1,1164.9 261,1165.6 262.9,1166.3 264.7,1167.1 266.6,1167.8 268.5,1168.5 270.4,1169.3 272.3,1170 274.1,1170.7 276,1171.4 277.9,1172.2 279.8,1172.9 282.1,1173.8 283.6,1194.4 284,1193.9 284.5,1193.3 285,1192.8 285.4,1192.3 285.9,1191.8 286.4,1191.3 286.9,1190.9 287.3,1190.4 287.8,1190 288.3,1189.6 288.7,1189.1 289.2,1188.7 289.7,1188.3 290.1,1188 290.6,1187.6 291.1,1187.2 291.6,1186.9 292,1186.5 292.5,1186.2 293,1185.9 293.4,1185.5 293.9,1185.2 294.4,1184.9 294.8,1184.6 295.3,1184.3 295.8,1184.1 296.3,1183.8 296.7,1183.5 297.2,1183.3 297.7,1183 298.1,1182.8 298.6,1182.5 299.1,1182.3 299.6,1182.1 300,1181.9 300.5,1181.6 301,1181.4 301.4,1181.2 301.9,1181 302.4,1180.8 302.8,1180.6 303.3,1180.4 303.8,1180.3 304.3,1180.1 304.7,1179.9 305.2,1179.7 305.7,1179.6 306.1,1179.4 306.6,1179.3 307.1,1179.1 307.5,1179 308,1178.8 308.5,1178.7 309,1178.5 309.4,1178.4 309.9,1178.3 310.4,1178.1 310.8,1178 311.3,1177.9 311.8,1177.8 313.7,1177.3 315.5,1176.9 317.4,1176.5 319.3,1176.1 321.2,1175.8 323.1,1175.5 325,1175.2 326.8,1174.9 328.7,1174.7 330.6,1174.4 332.5,1174.2 334.4,1174 336.2,1173.8 338.1,1173.6 340,1173.4 341.9,1173.2 343.8,1173 345.7,1172.9 347.5,1172.7 349.4,1172.5 351.3,1172.4 353.2,1172.2 355.1,1172.1 356.9,1172 358.8,1171.8 360.7,1171.7 362.6,1171.5 364.5,1171.4 366.3,1171.3 368.2,1171.1 370.1,1171 372,1170.9 373.9,1170.7 375.8,1170.6 377.6,1170.5 379.5,1170.3 381.4,1170.2 383.3,1170.1 385.2,1170 387,1169.8 388.9,1169.7 390.8,1169.6 392.7,1169.5 394.6,1169.3 396.5,1169.2 398.3,1169.1 400.2,1169 402.1,1168.9 404,1168.7 405.9,1168.6 407.7,1168.5 409.6,1168.4 411.5,1168.2 413.4,1168.1 415.3,1168 417.2,1167.9 419,1167.7 420.9,1167.6 422.8,1167.5 424.7,1167.4 426.6,1167.3 428.4,1167.1 430.3,1167 432.2,1166.9 434.1,1166.8 436,1166.6 437.8,1166.5 439.7,1166.4 441.6,1166.3 443.5,1166.2 445.4,1166 447.3,1165.9 449.1,1165.8 451,1165.7 452.9,1165.5 454.8,1165.4 456.7,1165.3 458.5,1165.2 460.4,1165.1 462.3,1164.9 464.2,1164.8 466.1,1164.7 468,1164.6 469.8,1164.5 471.7,1164.3 473.6,1164.2 475.5,1164.1 477.4,1164 479.2,1163.8 481.1,1163.7 483,1163.6 484.9,1163.5 486.8,1163.4 488.7,1163.2 490.5,1163.1 492.4,1163 494.3,1162.9 496.2,1162.7 498.1,1162.6 499.9,1162.5 501.8,1162.4 503.7,1162.3 505.6,1162.1 507.5,1162 509.3,1161.9 511.2,1161.8 513.1,1161.6 515,1161.5 516.9,1161.4 518.8,1161.3 520.6,1161.2 522.5,1161 524.4,1160.9 526.3,1160.8 528.2,1160.7 530,1160.5 531.9,1160.4 533.8,1160.3 535.7,1160.2 537.6,1160.1 539.5,1159.9 541.3,1159.8 543.2,1159.7 545.1,1159.6" fill="none" stroke="#000" stroke-width="3.4" stroke-linejoin="round"/>
<polyline points="74.7,1326.9 76.6,1327.6 78.5,1328.3 80.3,1329.1 82.2,1329.8 84.1,1330.5 86,1331.2 87.9,1332 89.8,1332.7 91.6,1333.4 93.5,1334.2 95.4,1334.9 97.3,1335.6 99.2,1336.3 101,1337.1 102.9,1337.8 104.8,1338.5 106.7,1339.2 108.6,1340 110.5,1340.7 112.3,1341.4 114.2,1342.1 116.1,1342.9 118,1343.6 119.9,1344.3 121.7,1345 123.6,1345.8 125.5,1346.5 127.4,1347.2 129.3,1347.9 131.1,1348.7 133,1349.4 134.9,1350.1 136.8,1350.8 138.7,1351.6 140.6,1352.3 142.4,1353 144.3,1353.7 146.2,1354.5 148.1,1355.2 150,1355.9 151.8,1356.7 153.7,1357.4 155.6,1358.1 157.5,1358.8 159.4,1359.6 161.3,1360.3 163.1,1361 165,1361.7 166.9,1362.5 168.8,1363.2 170.7,1363.9 172.5,1364.6 174.4,1365.4 176.3,1366.1 178.2,1366.8 180.1,1367.5 182,1368.3 183.8,1369 185.7,1369.7 187.6,1370.4 189.5,1371.2 191.4,1371.9 193.2,1372.6 195.1,1373.3 197,1374.1 198.9,1374.8 200.8,1375.5 202.6,1376.3 204.5,1377 206.4,1377.7 208.3,1378.4 210.2,1379.2 212.1,1379.9 213.9,1380.6 215.8,1381.3 217.7,1382.1 219.6,1382.8 221.5,1383.5 223.3,1384.2 225.2,1385 227.1,1385.7 229,1386.4 230.9,1387.1 232.8,1387.9 234.6,1388.6 236.5,1389.3 238.4,1390 240.3,1390.8 242.2,1391.5 244,1392.2 245.9,1392.9 247.8,1393.7 249.7,1394.4 251.6,1395.1 253.5,1395.9 255.3,1396.6 257.2,1397.3 259.1,1398 261,1398.8 262.9,1399.5 264.7,1400.2 266.6,1400.9 268.5,1401.7 270.4,1402.4 272.3,1403.1 274.1,1403.8 276,1404.6 277.9,1405.3 279.8,1406 282.1,1406.9 283.6,1427.6 284,1427 284.5,1426.5 285,1426 285.4,1425.4 285.9,1425 286.4,1424.5 286.9,1424 287.3,1423.6 287.8,1423.1 288.3,1422.7 288.7,1422.3 289.2,1421.9 289.7,1421.5 290.1,1421.1 290.6,1420.7 291.1,1420.3 291.6,1420 292,1419.6 292.5,1419.3 293,1419 293.4,1418.7 293.9,1418.4 294.4,1418.1 294.8,1417.8 295.3,1417.5 295.8,1417.2 296.3,1416.9 296.7,1416.7 297.2,1416.4 297.7,1416.1 298.1,1415.9 298.6,1415.7 299.1,1415.4 299.6,1415.2 300,1415 300.5,1414.8 301,1414.6 301.4,1414.4 301.9,1414.2 302.4,1414 302.8,1413.8 303.3,1413.6 303.8,1413.4 304.3,1413.2 304.7,1413 305.2,1412.9 305.7,1412.7 306.1,1412.6 306.6,1412.4 307.1,1412.2 307.5,1412.1 308,1411.9 308.5,1411.8 309,1411.7 309.4,1411.5 309.9,1411.4 310.4,1411.3 310.8,1411.1 311.3,1411 311.8,1410.9 313.7,1410.4 315.5,1410 317.4,1409.6 319.3,1409.3 321.2,1408.9 323.1,1408.6 325,1408.3 326.8,1408 328.7,1407.8 330.6,1407.6 332.5,1407.3 334.4,1407.1 336.2,1406.9 338.1,1406.7 340,1406.5 341.9,1406.3 343.8,1406.2 345.7,1406 347.5,1405.8 349.4,1405.7 351.3,1405.5 353.2,1405.4 355.1,1405.2 356.9,1405.1 358.8,1404.9 360.7,1404.8 362.6,1404.7 364.5,1404.5 366.3,1404.4 368.2,1404.3 370.1,1404.1 372,1404 373.9,1403.9 375.8,1403.7 377.6,1403.6 379.5,1403.5 381.4,1403.4 383.3,1403.2 385.2,1403.1 387,1403 388.9,1402.8 390.8,1402.7 392.7,1402.6 394.6,1402.5 396.5,1402.4 398.3,1402.2 400.2,1402.1 402.1,1402 404,1401.9 405.9,1401.7 407.7,1401.6 409.6,1401.5 411.5,1401.4 413.4,1401.2 415.3,1401.1 417.2,1401 419,1400.9 420.9,1400.8 422.8,1400.6 424.7,1400.5 426.6,1400.4 428.4,1400.3 430.3,1400.1 432.2,1400 434.1,1399.9 436,1399.8 437.8,1399.7 439.7,1399.5 441.6,1399.4 443.5,1399.3 445.4,1399.2 447.3,1399 449.1,1398.9 451,1398.8 452.9,1398.7 454.8,1398.6 456.7,1398.4 458.5,1398.3 460.4,1398.2 462.3,1398.1 464.2,1397.9 466.1,1397.8 468,1397.7 469.8,1397.6 471.7,1397.5 473.6,1397.3 475.5,1397.2 477.4,1397.1 479.2,1397 481.1,1396.8 483,1396.7 484.9,1396.6 486.8,1396.5 488.7,1396.4 490.5,1396.2 492.4,1396.1 494.3,1396 496.2,1395.9 498.1,1395.8 499.9,1395.6 501.8,1395.5 503.7,1395.4 505.6,1395.3 507.5,1395.1 509.3,1395 511.2,1394.9 513.1,1394.8 515,1394.7 516.9,1394.5 518.8,1394.4 520.6,1394.3 522.5,1394.2 524.4,1394 526.3,1393.9 528.2,1393.8 530,1393.7 531.9,1393.6 533.8,1393.4 535.7,1393.3 537.6,1393.2 539.5,1393.1 541.3,1392.9 543.2,1392.8 545.1,1392.7" fill="none" stroke="#000" stroke-width="3.4" stroke-linejoin="round"/>
<polyline points="74.7,1432.7 76.6,1432.7 78.5,1432.7 80.3,1432.7 82.2,1432.7 84.1,1432.7 86,1432.7 87.9,1432.7 89.8,1432.7 91.6,1432.7 93.5,1432.7 95.4,1432.7 97.3,1432.7 99.2,1432.7 101,1432.7 102.9,1432.7 104.8,1432.7 106.7,1432.7 108.6,1432.7 110.5,1432.7 112.3,1432.7 114.2,1432.7 116.1,1432.7 118,1432.7 119.9,1432.7 121.7,1432.7 123.6,1432.7 125.5,1432.7 127.4,1432.7 129.3,1432.7 131.1,1432.7 133,1432.7 134.9,1432.7 136.8,1432.7 138.7,1432.7 140.6,1432.7 142.4,1432.7 144.3,1432.7 146.2,1432.7 148.1,1432.7 150,1432.7 151.8,1432.7 153.7,1432.7 155.6,1432.7 157.5,1432.7 159.4,1432.7 161.3,1432.7 163.1,1432.7 165,1432.7 166.9,1432.7 168.8,1432.7 170.7,1432.7 172.5,1432.7 174.4,1432.7 176.3,1432.7 178.2,1432.7 180.1,1432.7 182,1432.7 183.8,1432.7 185.7,1432.7 187.6,1432.7 189.5,1432.7 191.4,1432.7 193.2,1432.7 195.1,1432.7 197,1432.7 198.9,1432.7 200.8,1432.7 202.6,1432.7 204.5,1432.7 206.4,1432.7 208.3,1432.7 210.2,1432.7 212.1,1432.7 213.9,1432.7 215.8,1432.7 217.7,1432.7 219.6,1432.7 221.5,1432.7 223.3,1432.7 225.2,1432.7 227.1,1432.7 229,1432.7 230.9,1432.7 232.8,1432.7 234.6,1432.7 236.5,1432.7 238.4,1432.7 240.3,1432.7 242.2,1432.7 244,1432.7 245.9,1432.7 247.8,1432.7 249.7,1432.7 251.6,1432.7 253.5,1432.6 253.9,1432.6 254.4,1432.6 254.9,1432.6 255.3,1432.6 255.8,1432.6 256.3,1432.6 256.7,1432.6 257.2,1432.6 257.7,1432.6 258.2,1432.5 258.6,1432.5 259.1,1432.5 259.6,1432.4 260,1432.4 260.5,1432.3 261,1432.2 261.4,1432.1 261.9,1432 262.4,1431.8 262.9,1431.7 263.3,1431.5 263.8,1431.2 264.3,1430.9 264.7,1430.6 265.2,1430.2 265.7,1429.7 266.2,1429.2 266.6,1428.6 267.1,1427.8 267.6,1427 268,1426 268.5,1424.9 269,1423.6 269.4,1422.1 269.9,1420.4 270.4,1418.5 270.9,1416.4 271.3,1414 271.8,1411.2 272.3,1408.2 272.7,1404.8 273.2,1401 273.7,1396.8 274.1,1392.1 274.6,1387 275.1,1381.4 275.6,1375.3 276,1368.7 276.5,1361.5 277,1353.8 277.4,1345.5 277.9,1336.6 278.4,1327.1 278.9,1317.1 279.3,1306.6 279.8,1295.5 280.3,1284 280.7,1272 281.2,1259.7 281.7,1247 282.1,1234.1 282.6,1221 283.1,1207.9 283.6,1194.8 284,1181.9 284.5,1169.3 285,1157 285.4,1145.3 285.9,1134.3 286.4,1124.1 286.9,1114.9 287.3,1106.9 287.8,1100.2 288.3,1094.9 288.7,1091.4 289.2,1090 289.7,1091.5 290.1,1095.5 290.6,1101.6 291.1,1109 291.6,1117.3 292,1125.9 292.5,1134.8 293,1143.7 293.4,1152.6 293.9,1161.3 294.4,1169.9 294.8,1178.4 295.3,1186.6 295.8,1194.6 296.3,1202.4 296.7,1209.9 297.2,1217.3 297.7,1224.4 298.1,1231.3 298.6,1238 299.1,1244.5 299.6,1250.7 300,1256.8 300.5,1262.7 301,1268.4 301.4,1273.9 301.9,1279.2 302.4,1284.3 302.8,1289.3 303.3,1294.1 303.8,1298.8 304.3,1303.3 304.7,1307.6 305.2,1311.9 305.7,1315.9 306.1,1319.9 306.6,1323.7 307.1,1327.3 307.5,1330.9 308,1334.3 308.5,1337.6 309,1340.8 309.4,1343.9 309.9,1346.9 310.4,1349.8 310.8,1352.6 311.3,1355.3 311.8,1357.9 312.3,1360.5 312.7,1362.9 313.2,1365.3 313.7,1367.5 314.1,1369.7 314.6,1371.9 315.1,1373.9 315.5,1375.9 316,1377.8 316.5,1379.7 317,1381.5 317.4,1383.2 317.9,1384.9 318.4,1386.5 318.8,1388.1 319.3,1389.6 319.8,1391 320.2,1392.4 320.7,1393.8 321.2,1395.1 321.7,1396.4 322.1,1397.6 322.6,1398.8 323.1,1399.9 323.5,1401 324,1402.1 324.5,1403.1 325,1404.1 325.4,1405.1 325.9,1406 326.4,1406.9 326.8,1407.8 327.3,1408.7 327.8,1409.5 328.2,1410.3 328.7,1411 329.2,1411.7 329.7,1412.5 330.1,1413.1 330.6,1413.8 331.1,1414.4 331.5,1415.1 332,1415.6 332.5,1416.2 332.9,1416.8 333.4,1417.3 333.9,1417.8 334.4,1418.3 334.8,1418.8 335.3,1419.3 335.8,1419.7 336.2,1420.2 336.7,1420.6 337.2,1421 337.7,1421.4 338.1,1421.8 338.6,1422.2 339.1,1422.5 339.5,1422.9 340,1423.2 340.5,1423.5 340.9,1423.8 341.4,1424.1 341.9,1424.4 342.4,1424.7 342.8,1425 343.3,1425.2 343.8,1425.5 344.2,1425.7 344.7,1425.9 345.2,1426.2 345.7,1426.4 346.1,1426.6 346.6,1426.8 347.1,1427 347.5,1427.2 349.4,1427.9 351.3,1428.5 353.2,1429.1 355.1,1429.5 356.9,1429.9 358.8,1430.3 360.7,1430.6 362.6,1430.8 364.5,1431.1 366.3,1431.3 368.2,1431.5 370.1,1431.6 372,1431.7 373.9,1431.9 375.8,1432 377.6,1432.1 379.5,1432.1 381.4,1432.2 383.3,1432.3 385.2,1432.3 387,1432.4 388.9,1432.4 390.8,1432.4 392.7,1432.5 394.6,1432.5 396.5,1432.5 398.3,1432.5 400.2,1432.5 402.1,1432.6 404,1432.6 405.9,1432.6 407.7,1432.6 409.6,1432.6 411.5,1432.6 413.4,1432.6 415.3,1432.6 417.2,1432.6 419,1432.6 420.9,1432.6 422.8,1432.6 424.7,1432.6 426.6,1432.6 428.4,1432.6 430.3,1432.6 432.2,1432.6 434.1,1432.6 436,1432.6 437.8,1432.7 439.7,1432.7 441.6,1432.7 443.5,1432.7 445.4,1432.7 447.3,1432.7 449.1,1432.7 451,1432.7 452.9,1432.7 454.8,1432.7 456.7,1432.7 458.5,1432.7 460.4,1432.7 462.3,1432.7 464.2,1432.7 466.1,1432.7 468,1432.7 469.8,1432.7 471.7,1432.7 473.6,1432.7 475.5,1432.7 477.4,1432.7 479.2,1432.7 481.1,1432.7 483,1432.7 484.9,1432.7 486.8,1432.7 488.7,1432.7 490.5,1432.7 492.4,1432.7 494.3,1432.7 496.2,1432.7 498.1,1432.7 499.9,1432.7 501.8,1432.7 503.7,1432.7 505.6,1432.7 507.5,1432.7 509.3,1432.7 511.2,1432.7 513.1,1432.7 515,1432.7 516.9,1432.7 518.8,1432.7 520.6,1432.7 522.5,1432.7 524.4,1432.7 526.3,1432.7 528.2,1432.7 530,1432.7 531.9,1432.7 533.8,1432.7 535.7,1432.7 537.6,1432.7 539.5,1432.7 541.3,1432.7 543.2,1432.7 545.1,1432.7" fill="none" stroke="#ff0000" stroke-width="3.4" stroke-linejoin="round"/>
<path d="M545.1 1021.6H74.7M74.7 1021.6V1449.1H545.1" fill="none" stroke="#000" stroke-width="3" stroke-linecap="square"/>
<line x1="545.1" y1="1021.6" x2="545.1" y2="1449.1" stroke="#ff0000" stroke-width="3" stroke-linecap="square"/>
<path d="M168.8 1449.1v-7.5M168.8 1021.6v7.5M262.9 1449.1v-7.5M262.9 1021.6v7.5M356.9 1449.1v-7.5M356.9 1021.6v7.5M451 1449.1v-7.5M451 1021.6v7.5M74.7 1078.6h8M74.7 1192.6h8M74.7 1306.6h8M74.7 1420.6h8" stroke="#000" stroke-width="2.6"/>
<path d="M545.1 1432.7h-9M545.1 1268.2h-9M545.1 1103.8h-9" stroke="#ff0000" stroke-width="2.6"/>
<g font-family="'Liberation Sans', Arial, sans-serif" font-weight="bold" font-size="29" text-anchor="middle"><text x="74.7" y="1480.6">0</text><text x="168.8" y="1480.6">100</text><text x="262.9" y="1480.6">200</text><text x="356.9" y="1480.6">300</text><text x="451" y="1480.6">400</text><text x="545.1" y="1480.6">500</text></g>
<g font-family="'Liberation Sans', Arial, sans-serif" font-weight="bold" font-size="29" text-anchor="end"><text x="65.2" y="1087.1">2</text><text x="65.2" y="1201.1">0</text><text x="65.2" y="1315.1">-2</text><text x="65.2" y="1429.1">-4</text></g>
<g font-family="'Liberation Sans', Arial, sans-serif" font-weight="bold" font-size="29" fill="#ff0000"><text x="554.6" y="1442.7">0.0</text><text x="554.6" y="1278.2">0.5</text><text x="554.6" y="1113.8">1.0</text></g>
<text transform="translate(25.3 1241.6) rotate(-90)" x="0" y="0" text-anchor="middle" font-family="'Liberation Sans', Arial, sans-serif" font-weight="bold" font-size="30" textLength="255" lengthAdjust="spacingAndGlyphs">Energy bend (eV)</text>
<text transform="translate(637.2 1253.6) rotate(-90)" x="0" y="0" text-anchor="middle" font-family="'Liberation Sans', Arial, sans-serif" font-weight="bold" font-size="30.5" fill="#ff0000" textLength="497" lengthAdjust="spacingAndGlyphs">Carrier concentration ( <tspan font-weight="normal">&#215;</tspan>10<tspan dy="-15" font-size="18">13</tspan><tspan dy="15"> cm</tspan><tspan dy="-15" font-size="18">-2</tspan><tspan dy="15">)</tspan></text>
<text x="308.7" y="1530.6" text-anchor="middle" font-family="'Liberation Sans', Arial, sans-serif" font-weight="bold" font-size="30">Length (&#197;)</text>
<text x="289" y="1092.3" font-family="'Liberation Serif', 'Times New Roman', serif" font-size="31" fill="#ff0000" textLength="217" lengthAdjust="spacingAndGlyphs">1.04&#215; 10<tspan dy="-12" font-size="21">13</tspan><tspan dy="12"> </tspan><tspan font-style="italic">cm</tspan><tspan dy="-12" font-size="21">&#8722;2</tspan></text>
<text x="141.8" y="1207.2" font-family="'Liberation Sans', Arial, sans-serif" font-size="29" textLength="127.4" lengthAdjust="spacingAndGlyphs">-0.032 eV</text>
<text x="134.6" y="1268.2" font-family="'Liberation Sans', Arial, sans-serif" font-size="29" textLength="92.2" lengthAdjust="spacingAndGlyphs">AlGaN</text>
<text x="358.2" y="1268.2" font-family="'Liberation Sans', Arial, sans-serif" font-size="29" textLength="61.8" lengthAdjust="spacingAndGlyphs">GaN</text>
<rect x="729" y="1025.2" width="208.9" height="422.5" fill="#fbe5d6"/>
<rect x="937.9" y="1025.2" width="261.5" height="427.5" fill="#bdd7ee"/>
<polyline points="729,1097.4 730.9,1098.1 732.8,1098.8 734.6,1099.5 736.5,1100.3 738.4,1101 740.3,1101.7 742.2,1102.4 744.1,1103.2 745.9,1103.9 747.8,1104.6 749.7,1105.3 751.6,1106.1 753.5,1106.8 755.3,1107.5 757.2,1108.3 759.1,1109 761,1109.7 762.9,1110.4 764.8,1111.2 766.6,1111.9 768.5,1112.6 770.4,1113.3 772.3,1114.1 774.2,1114.8 776,1115.5 777.9,1116.2 779.8,1117 781.7,1117.7 783.6,1118.4 785.4,1119.1 787.3,1119.9 789.2,1120.6 791.1,1121.3 793,1122 794.9,1122.8 796.7,1123.5 798.6,1124.2 800.5,1124.9 802.4,1125.7 804.3,1126.4 806.1,1127.1 808,1127.8 809.9,1128.6 811.8,1129.3 813.7,1130 815.6,1130.8 817.4,1131.5 819.3,1132.2 821.2,1132.9 823.1,1133.7 825,1134.4 826.8,1135.1 828.7,1135.8 830.6,1136.6 832.5,1137.3 834.4,1138 836.3,1138.7 838.1,1139.5 840,1140.2 841.9,1140.9 843.8,1141.6 845.7,1142.4 847.5,1143.1 849.4,1143.8 851.3,1144.5 853.2,1145.3 855.1,1146 856.9,1146.7 858.8,1147.4 860.7,1148.2 862.6,1148.9 864.5,1149.6 866.4,1150.4 868.2,1151.1 870.1,1151.8 872,1152.5 873.9,1153.3 875.8,1154 877.6,1154.7 879.5,1155.4 881.4,1156.2 883.3,1156.9 885.2,1157.6 887.1,1158.3 888.9,1159.1 890.8,1159.8 892.7,1160.5 894.6,1161.2 896.5,1162 898.3,1162.7 900.2,1163.4 902.1,1164.1 904,1164.9 905.9,1165.6 907.8,1166.3 909.6,1167 911.5,1167.8 913.4,1168.5 915.3,1169.2 917.2,1169.9 919,1170.7 920.9,1171.4 922.8,1172.1 924.7,1172.9 926.6,1173.6 928.4,1174.3 930.3,1175 932.2,1175.8 934.1,1176.5 936.4,1177.4 937.9,1198.7 938.3,1198.1 938.8,1197.5 939.3,1197 939.7,1196.5 940.2,1196 940.7,1195.5 941.2,1195 941.6,1194.5 942.1,1194.1 942.6,1193.6 943,1193.2 943.5,1192.8 944,1192.4 944.4,1192 944.9,1191.6 945.4,1191.2 945.9,1190.8 946.3,1190.5 946.8,1190.1 947.3,1189.8 947.7,1189.5 948.2,1189.2 948.7,1188.8 949.1,1188.5 949.6,1188.2 950.1,1188 950.6,1187.7 951,1187.4 951.5,1187.1 952,1186.9 952.4,1186.6 952.9,1186.4 953.4,1186.1 953.9,1185.9 954.3,1185.7 954.8,1185.5 955.3,1185.2 955.7,1185 956.2,1184.8 956.7,1184.6 957.1,1184.4 957.6,1184.2 958.1,1184 958.6,1183.9 959,1183.7 959.5,1183.5 960,1183.3 960.4,1183.2 960.9,1183 961.4,1182.9 961.8,1182.7 962.3,1182.6 962.8,1182.4 963.3,1182.3 963.7,1182.1 964.2,1182 964.7,1181.9 965.1,1181.7 965.6,1181.6 966.1,1181.5 968,1181 969.8,1180.6 971.7,1180.2 973.6,1179.8 975.5,1179.4 977.4,1179.1 979.3,1178.8 981.1,1178.6 983,1178.3 984.9,1178.1 986.8,1177.8 988.7,1177.6 990.5,1177.4 992.4,1177.2 994.3,1177 996.2,1176.8 998.1,1176.7 1000,1176.5 1001.8,1176.3 1003.7,1176.2 1005.6,1176 1007.5,1175.9 1009.4,1175.7 1011.2,1175.6 1013.1,1175.4 1015,1175.3 1016.9,1175.1 1018.8,1175 1020.6,1174.9 1022.5,1174.7 1024.4,1174.6 1026.3,1174.5 1028.2,1174.3 1030.1,1174.2 1031.9,1174.1 1033.8,1174 1035.7,1173.8 1037.6,1173.7 1039.5,1173.6 1041.3,1173.4 1043.2,1173.3 1045.1,1173.2 1047,1173.1 1048.9,1172.9 1050.8,1172.8 1052.6,1172.7 1054.5,1172.6 1056.4,1172.5 1058.3,1172.3 1060.2,1172.2 1062,1172.1 1063.9,1172 1065.8,1171.8 1067.7,1171.7 1069.6,1171.6 1071.5,1171.5 1073.3,1171.3 1075.2,1171.2 1077.1,1171.1 1079,1171 1080.9,1170.9 1082.7,1170.7 1084.6,1170.6 1086.5,1170.5 1088.4,1170.4 1090.3,1170.2 1092.1,1170.1 1094,1170 1095.9,1169.9 1097.8,1169.8 1099.7,1169.6 1101.6,1169.5 1103.4,1169.4 1105.3,1169.3 1107.2,1169.1 1109.1,1169 1111,1168.9 1112.8,1168.8 1114.7,1168.7 1116.6,1168.5 1118.5,1168.4 1120.4,1168.3 1122.3,1168.2 1124.1,1168.1 1126,1167.9 1127.9,1167.8 1129.8,1167.7 1131.7,1167.6 1133.5,1167.4 1135.4,1167.3 1137.3,1167.2 1139.2,1167.1 1141.1,1167 1143,1166.8 1144.8,1166.7 1146.7,1166.6 1148.6,1166.5 1150.5,1166.3 1152.4,1166.2 1154.2,1166.1 1156.1,1166 1158,1165.9 1159.9,1165.7 1161.8,1165.6 1163.6,1165.5 1165.5,1165.4 1167.4,1165.2 1169.3,1165.1 1171.2,1165 1173.1,1164.9 1174.9,1164.8 1176.8,1164.6 1178.7,1164.5 1180.6,1164.4 1182.5,1164.3 1184.3,1164.1 1186.2,1164 1188.1,1163.9 1190,1163.8 1191.9,1163.7 1193.8,1163.5 1195.6,1163.4 1197.5,1163.3 1199.4,1163.2" fill="none" stroke="#000" stroke-width="3.4" stroke-linejoin="round"/>
<polyline points="729,1330.5 730.9,1331.2 732.8,1331.9 734.6,1332.7 736.5,1333.4 738.4,1334.1 740.3,1334.8 742.2,1335.6 744.1,1336.3 745.9,1337 747.8,1337.8 749.7,1338.5 751.6,1339.2 753.5,1339.9 755.3,1340.7 757.2,1341.4 759.1,1342.1 761,1342.8 762.9,1343.6 764.8,1344.3 766.6,1345 768.5,1345.7 770.4,1346.5 772.3,1347.2 774.2,1347.9 776,1348.6 777.9,1349.4 779.8,1350.1 781.7,1350.8 783.6,1351.5 785.4,1352.3 787.3,1353 789.2,1353.7 791.1,1354.4 793,1355.2 794.9,1355.9 796.7,1356.6 798.6,1357.3 800.5,1358.1 802.4,1358.8 804.3,1359.5 806.1,1360.3 808,1361 809.9,1361.7 811.8,1362.4 813.7,1363.2 815.6,1363.9 817.4,1364.6 819.3,1365.3 821.2,1366.1 823.1,1366.8 825,1367.5 826.8,1368.2 828.7,1369 830.6,1369.7 832.5,1370.4 834.4,1371.1 836.3,1371.9 838.1,1372.6 840,1373.3 841.9,1374 843.8,1374.8 845.7,1375.5 847.5,1376.2 849.4,1376.9 851.3,1377.7 853.2,1378.4 855.1,1379.1 856.9,1379.9 858.8,1380.6 860.7,1381.3 862.6,1382 864.5,1382.8 866.4,1383.5 868.2,1384.2 870.1,1384.9 872,1385.7 873.9,1386.4 875.8,1387.1 877.6,1387.8 879.5,1388.6 881.4,1389.3 883.3,1390 885.2,1390.7 887.1,1391.5 888.9,1392.2 890.8,1392.9 892.7,1393.6 894.6,1394.4 896.5,1395.1 898.3,1395.8 900.2,1396.5 902.1,1397.3 904,1398 905.9,1398.7 907.8,1399.5 909.6,1400.2 911.5,1400.9 913.4,1401.6 915.3,1402.4 917.2,1403.1 919,1403.8 920.9,1404.5 922.8,1405.3 924.7,1406 926.6,1406.7 928.4,1407.4 930.3,1408.2 932.2,1408.9 934.1,1409.6 936.4,1410.5 937.9,1431.8 938.3,1431.2 938.8,1430.7 939.3,1430.1 939.7,1429.6 940.2,1429.1 940.7,1428.6 941.2,1428.1 941.6,1427.7 942.1,1427.2 942.6,1426.8 943,1426.3 943.5,1425.9 944,1425.5 944.4,1425.1 944.9,1424.7 945.4,1424.3 945.9,1424 946.3,1423.6 946.8,1423.3 947.3,1422.9 947.7,1422.6 948.2,1422.3 948.7,1422 949.1,1421.7 949.6,1421.4 950.1,1421.1 950.6,1420.8 951,1420.5 951.5,1420.3 952,1420 952.4,1419.8 952.9,1419.5 953.4,1419.3 953.9,1419 954.3,1418.8 954.8,1418.6 955.3,1418.4 955.7,1418.2 956.2,1417.9 956.7,1417.7 957.1,1417.6 957.6,1417.4 958.1,1417.2 958.6,1417 959,1416.8 959.5,1416.6 960,1416.5 960.4,1416.3 960.9,1416.1 961.4,1416 961.8,1415.8 962.3,1415.7 962.8,1415.5 963.3,1415.4 963.7,1415.3 964.2,1415.1 964.7,1415 965.1,1414.9 965.6,1414.7 966.1,1414.6 968,1414.1 969.8,1413.7 971.7,1413.3 973.6,1412.9 975.5,1412.6 977.4,1412.3 979.3,1412 981.1,1411.7 983,1411.4 984.9,1411.2 986.8,1411 988.7,1410.7 990.5,1410.5 992.4,1410.3 994.3,1410.1 996.2,1410 998.1,1409.8 1000,1409.6 1001.8,1409.4 1003.7,1409.3 1005.6,1409.1 1007.5,1409 1009.4,1408.8 1011.2,1408.7 1013.1,1408.5 1015,1408.4 1016.9,1408.3 1018.8,1408.1 1020.6,1408 1022.5,1407.9 1024.4,1407.7 1026.3,1407.6 1028.2,1407.5 1030.1,1407.3 1031.9,1407.2 1033.8,1407.1 1035.7,1407 1037.6,1406.8 1039.5,1406.7 1041.3,1406.6 1043.2,1406.5 1045.1,1406.3 1047,1406.2 1048.9,1406.1 1050.8,1406 1052.6,1405.8 1054.5,1405.7 1056.4,1405.6 1058.3,1405.5 1060.2,1405.3 1062,1405.2 1063.9,1405.1 1065.8,1405 1067.7,1404.8 1069.6,1404.7 1071.5,1404.6 1073.3,1404.5 1075.2,1404.4 1077.1,1404.2 1079,1404.1 1080.9,1404 1082.7,1403.9 1084.6,1403.7 1086.5,1403.6 1088.4,1403.5 1090.3,1403.4 1092.1,1403.3 1094,1403.1 1095.9,1403 1097.8,1402.9 1099.7,1402.8 1101.6,1402.6 1103.4,1402.5 1105.3,1402.4 1107.2,1402.3 1109.1,1402.2 1111,1402 1112.8,1401.9 1114.7,1401.8 1116.6,1401.7 1118.5,1401.5 1120.4,1401.4 1122.3,1401.3 1124.1,1401.2 1126,1401.1 1127.9,1400.9 1129.8,1400.8 1131.7,1400.7 1133.5,1400.6 1135.4,1400.4 1137.3,1400.3 1139.2,1400.2 1141.1,1400.1 1143,1400 1144.8,1399.8 1146.7,1399.7 1148.6,1399.6 1150.5,1399.5 1152.4,1399.4 1154.2,1399.2 1156.1,1399.1 1158,1399 1159.9,1398.9 1161.8,1398.7 1163.6,1398.6 1165.5,1398.5 1167.4,1398.4 1169.3,1398.3 1171.2,1398.1 1173.1,1398 1174.9,1397.9 1176.8,1397.8 1178.7,1397.6 1180.6,1397.5 1182.5,1397.4 1184.3,1397.3 1186.2,1397.2 1188.1,1397 1190,1396.9 1191.9,1396.8 1193.8,1396.7 1195.6,1396.5 1197.5,1396.4 1199.4,1396.3" fill="none" stroke="#000" stroke-width="3.4" stroke-linejoin="round"/>
<polyline points="729,1436.3 730.9,1436.3 732.8,1436.3 734.6,1436.3 736.5,1436.3 738.4,1436.3 740.3,1436.3 742.2,1436.3 744.1,1436.3 745.9,1436.3 747.8,1436.3 749.7,1436.3 751.6,1436.3 753.5,1436.3 755.3,1436.3 757.2,1436.3 759.1,1436.3 761,1436.3 762.9,1436.3 764.8,1436.3 766.6,1436.3 768.5,1436.3 770.4,1436.3 772.3,1436.3 774.2,1436.3 776,1436.3 777.9,1436.3 779.8,1436.3 781.7,1436.3 783.6,1436.3 785.4,1436.3 787.3,1436.3 789.2,1436.3 791.1,1436.3 793,1436.3 794.9,1436.3 796.7,1436.3 798.6,1436.3 800.5,1436.3 802.4,1436.3 804.3,1436.3 806.1,1436.3 808,1436.3 809.9,1436.3 811.8,1436.3 813.7,1436.3 815.6,1436.3 817.4,1436.3 819.3,1436.3 821.2,1436.3 823.1,1436.3 825,1436.3 826.8,1436.3 828.7,1436.3 830.6,1436.3 832.5,1436.3 834.4,1436.3 836.3,1436.3 838.1,1436.3 840,1436.3 841.9,1436.3 843.8,1436.3 845.7,1436.3 847.5,1436.3 849.4,1436.3 851.3,1436.3 853.2,1436.3 855.1,1436.3 856.9,1436.3 858.8,1436.3 860.7,1436.3 862.6,1436.3 864.5,1436.3 866.4,1436.3 868.2,1436.3 870.1,1436.3 872,1436.3 873.9,1436.3 875.8,1436.3 877.6,1436.3 879.5,1436.3 881.4,1436.3 883.3,1436.3 885.2,1436.3 887.1,1436.3 888.9,1436.3 890.8,1436.3 892.7,1436.3 894.6,1436.3 896.5,1436.3 898.3,1436.3 900.2,1436.3 902.1,1436.3 904,1436.3 905.9,1436.3 907.8,1436.2 908.2,1436.2 908.7,1436.2 909.2,1436.2 909.6,1436.2 910.1,1436.2 910.6,1436.2 911,1436.2 911.5,1436.2 912,1436.1 912.5,1436.1 912.9,1436.1 913.4,1436 913.9,1436 914.3,1435.9 914.8,1435.9 915.3,1435.8 915.7,1435.7 916.2,1435.5 916.7,1435.4 917.2,1435.2 917.6,1435 918.1,1434.7 918.6,1434.4 919,1434.1 919.5,1433.6 920,1433.1 920.5,1432.6 920.9,1431.9 921.4,1431.1 921.9,1430.2 922.3,1429.2 922.8,1428 923.3,1426.6 923.7,1425 924.2,1423.2 924.7,1421.2 925.2,1418.9 925.6,1416.3 926.1,1413.4 926.6,1410.2 927,1406.5 927.5,1402.5 928,1398 928.4,1393.1 928.9,1387.6 929.4,1381.7 929.9,1375.2 930.3,1368.1 930.8,1360.5 931.3,1352.2 931.7,1343.4 932.2,1333.9 932.7,1323.9 933.2,1313.2 933.6,1302 934.1,1290.2 934.6,1277.9 935,1265.2 935.5,1252 936,1238.5 936.4,1224.8 936.9,1210.8 937.4,1196.9 937.9,1182.9 938.3,1169.1 938.8,1155.7 939.3,1142.6 939.7,1130.2 940.2,1118.4 940.7,1107.6 941.2,1097.8 941.6,1089.2 942.1,1082.1 942.6,1076.5 943,1072.8 943.5,1071.2 944,1072.8 944.4,1077.1 944.9,1083.6 945.4,1091.5 945.9,1100.3 946.3,1109.5 946.8,1118.9 947.3,1128.5 947.7,1137.9 948.2,1147.2 948.7,1156.4 949.1,1165.4 949.6,1174.1 950.1,1182.6 950.6,1190.9 951,1199 951.5,1206.8 952,1214.4 952.4,1221.7 952.9,1228.9 953.4,1235.8 953.9,1242.5 954.3,1248.9 954.8,1255.2 955.3,1261.2 955.7,1267.1 956.2,1272.8 956.7,1278.3 957.1,1283.6 957.6,1288.7 958.1,1293.7 958.6,1298.5 959,1303.1 959.5,1307.6 960,1311.9 960.4,1316.1 960.9,1320.1 961.4,1324.1 961.8,1327.8 962.3,1331.5 962.8,1335 963.3,1338.4 963.7,1341.7 964.2,1344.9 964.7,1348 965.1,1351 965.6,1353.9 966.1,1356.7 966.6,1359.4 967,1361.9 967.5,1364.5 968,1366.9 968.4,1369.2 968.9,1371.5 969.4,1373.7 969.8,1375.8 970.3,1377.8 970.8,1379.8 971.3,1381.7 971.7,1383.6 972.2,1385.4 972.7,1387.1 973.1,1388.7 973.6,1390.3 974.1,1391.9 974.5,1393.4 975,1394.9 975.5,1396.3 976,1397.6 976.4,1398.9 976.9,1400.2 977.4,1401.4 977.8,1402.6 978.3,1403.7 978.8,1404.8 979.3,1405.9 979.7,1406.9 980.2,1407.9 980.7,1408.9 981.1,1409.8 981.6,1410.7 982.1,1411.6 982.5,1412.4 983,1413.2 983.5,1414 984,1414.7 984.4,1415.5 984.9,1416.2 985.4,1416.8 985.8,1417.5 986.3,1418.1 986.8,1418.8 987.2,1419.3 987.7,1419.9 988.2,1420.5 988.7,1421 989.1,1421.5 989.6,1422 990.1,1422.5 990.5,1423 991,1423.4 991.5,1423.9 992,1424.3 992.4,1424.7 992.9,1425.1 993.4,1425.5 993.8,1425.8 994.3,1426.2 994.8,1426.5 995.2,1426.8 995.7,1427.2 996.2,1427.5 996.7,1427.8 997.1,1428.1 997.6,1428.3 998.1,1428.6 998.5,1428.9 999,1429.1 999.5,1429.4 1000,1429.6 1000.4,1429.8 1000.9,1430 1001.4,1430.2 1001.8,1430.4 1003.7,1431.2 1005.6,1431.8 1007.5,1432.4 1009.4,1432.9 1011.2,1433.3 1013.1,1433.7 1015,1434 1016.9,1434.3 1018.8,1434.6 1020.6,1434.8 1022.5,1435 1024.4,1435.1 1026.3,1435.3 1028.2,1435.4 1030.1,1435.5 1031.9,1435.6 1033.8,1435.7 1035.7,1435.8 1037.6,1435.8 1039.5,1435.9 1041.3,1435.9 1043.2,1436 1045.1,1436 1047,1436 1048.9,1436.1 1050.8,1436.1 1052.6,1436.1 1054.5,1436.1 1056.4,1436.2 1058.3,1436.2 1060.2,1436.2 1062,1436.2 1063.9,1436.2 1065.8,1436.2 1067.7,1436.2 1069.6,1436.2 1071.5,1436.2 1073.3,1436.2 1075.2,1436.2 1077.1,1436.2 1079,1436.2 1080.9,1436.2 1082.7,1436.2 1084.6,1436.2 1086.5,1436.2 1088.4,1436.2 1090.3,1436.2 1092.1,1436.2 1094,1436.3 1095.9,1436.3 1097.8,1436.3 1099.7,1436.3 1101.6,1436.3 1103.4,1436.3 1105.3,1436.3 1107.2,1436.3 1109.1,1436.3 1111,1436.3 1112.8,1436.3 1114.7,1436.3 1116.6,1436.3 1118.5,1436.3 1120.4,1436.3 1122.3,1436.3 1124.1,1436.3 1126,1436.3 1127.9,1436.3 1129.8,1436.3 1131.7,1436.3 1133.5,1436.3 1135.4,1436.3 1137.3,1436.3 1139.2,1436.3 1141.1,1436.3 1143,1436.3 1144.8,1436.3 1146.7,1436.3 1148.6,1436.3 1150.5,1436.3 1152.4,1436.3 1154.2,1436.3 1156.1,1436.3 1158,1436.3 1159.9,1436.3 1161.8,1436.3 1163.6,1436.3 1165.5,1436.3 1167.4,1436.3 1169.3,1436.3 1171.2,1436.3 1173.1,1436.3 1174.9,1436.3 1176.8,1436.3 1178.7,1436.3 1180.6,1436.3 1182.5,1436.3 1184.3,1436.3 1186.2,1436.3 1188.1,1436.3 1190,1436.3 1191.9,1436.3 1193.8,1436.3 1195.6,1436.3 1197.5,1436.3 1199.4,1436.3" fill="none" stroke="#ff0000" stroke-width="3.4" stroke-linejoin="round"/>
<path d="M1199.4 1025.2H729M729 1025.2V1452.7H1199.4" fill="none" stroke="#000" stroke-width="3" stroke-linecap="square"/>
<line x1="1199.4" y1="1025.2" x2="1199.4" y2="1452.7" stroke="#ff0000" stroke-width="3" stroke-linecap="square"/>
<path d="M823.1 1452.7v-7.5M823.1 1025.2v7.5M917.2 1452.7v-7.5M917.2 1025.2v7.5M1011.2 1452.7v-7.5M1011.2 1025.2v7.5M1105.3 1452.7v-7.5M1105.3 1025.2v7.5M729 1082.2h8M729 1196.2h8M729 1310.2h8M729 1424.2h8" stroke="#000" stroke-width="2.6"/>
<path d="M1199.4 1436.3h-9M1199.4 1271.8h-9M1199.4 1107.4h-9" stroke="#ff0000" stroke-width="2.6"/>
<g font-family="'Liberation Sans', Arial, sans-serif" font-weight="bold" font-size="29" text-anchor="middle"><text x="729" y="1484.2">0</text><text x="823.1" y="1484.2">100</text><text x="917.2" y="1484.2">200</text><text x="1011.2" y="1484.2">300</text><text x="1105.3" y="1484.2">400</text><text x="1199.4" y="1484.2">500</text></g>
<g font-family="'Liberation Sans', Arial, sans-serif" font-weight="bold" font-size="29" text-anchor="end"><text x="719.5" y="1090.7">2</text><text x="719.5" y="1204.7">0</text><text x="719.5" y="1318.7">-2</text><text x="719.5" y="1432.7">-4</text></g>
<g font-family="'Liberation Sans', Arial, sans-serif" font-weight="bold" font-size="29" fill="#ff0000"><text x="1208.9" y="1446.3">0.0</text><text x="1208.9" y="1281.8">0.5</text><text x="1208.9" y="1117.4">1.0</text></g>
<text transform="translate(679.6 1245.2) rotate(-90)" x="0" y="0" text-anchor="middle" font-family="'Liberation Sans', Arial, sans-serif" font-weight="bold" font-size="30" textLength="255" lengthAdjust="spacingAndGlyphs">Energy bend (eV)</text>
<text transform="translate(1291.5 1257.2) rotate(-90)" x="0" y="0" text-anchor="middle" font-family="'Liberation Sans', Arial, sans-serif" font-weight="bold" font-size="30.5" fill="#ff0000" textLength="497" lengthAdjust="spacingAndGlyphs">Carrier concentration ( <tspan font-weight="normal">&#215;</tspan>10<tspan dy="-15" font-size="18">13</tspan><tspan dy="15"> cm</tspan><tspan dy="-15" font-size="18">-2</tspan><tspan dy="15">)</tspan></text>
<text x="963" y="1534.2" text-anchor="middle" font-family="'Liberation Sans', Arial, sans-serif" font-weight="bold" font-size="30">Length (&#197;)</text>
<text x="950.5" y="1083.7" font-family="'Liberation Serif', 'Times New Roman', serif" font-size="31" fill="#ff0000" textLength="213.5" lengthAdjust="spacingAndGlyphs">1.11&#215; 10<tspan dy="-12" font-size="21">13</tspan><tspan dy="12"> </tspan><tspan font-style="italic">cm</tspan><tspan dy="-12" font-size="21">&#8722;2</tspan></text>
<text x="792.5" y="1212.9" font-family="'Liberation Sans', Arial, sans-serif" font-size="29" textLength="127.5" lengthAdjust="spacingAndGlyphs">-0.043 eV</text>
<text x="787.2" y="1272.2" font-family="'Liberation Sans', Arial, sans-serif" font-size="29" textLength="92.6" lengthAdjust="spacingAndGlyphs">AlGaN</text>
<text x="1010.8" y="1272.2" font-family="'Liberation Sans', Arial, sans-serif" font-size="29" textLength="61.7" lengthAdjust="spacingAndGlyphs">GaN</text>
<rect x="1368.4" y="1023.2" width="208.9" height="422.5" fill="#fbe5d6"/>
<rect x="1577.3" y="1023.2" width="261.5" height="427.5" fill="#bdd7ee"/>
<polyline points="1368.4,1095.4 1370.3,1096.1 1372.2,1096.8 1374,1097.5 1375.9,1098.3 1377.8,1099 1379.7,1099.7 1381.6,1100.4 1383.5,1101.2 1385.3,1101.9 1387.2,1102.6 1389.1,1103.3 1391,1104.1 1392.9,1104.8 1394.7,1105.5 1396.6,1106.3 1398.5,1107 1400.4,1107.7 1402.3,1108.4 1404.2,1109.2 1406,1109.9 1407.9,1110.6 1409.8,1111.3 1411.7,1112.1 1413.6,1112.8 1415.4,1113.5 1417.3,1114.2 1419.2,1115 1421.1,1115.7 1423,1116.4 1424.8,1117.1 1426.7,1117.9 1428.6,1118.6 1430.5,1119.3 1432.4,1120 1434.3,1120.8 1436.1,1121.5 1438,1122.2 1439.9,1122.9 1441.8,1123.7 1443.7,1124.4 1445.5,1125.1 1447.4,1125.8 1449.3,1126.6 1451.2,1127.3 1453.1,1128 1455,1128.8 1456.8,1129.5 1458.7,1130.2 1460.6,1130.9 1462.5,1131.7 1464.4,1132.4 1466.2,1133.1 1468.1,1133.8 1470,1134.6 1471.9,1135.3 1473.8,1136 1475.7,1136.7 1477.5,1137.5 1479.4,1138.2 1481.3,1138.9 1483.2,1139.6 1485.1,1140.4 1486.9,1141.1 1488.8,1141.8 1490.7,1142.5 1492.6,1143.3 1494.5,1144 1496.3,1144.7 1498.2,1145.4 1500.1,1146.2 1502,1146.9 1503.9,1147.6 1505.8,1148.4 1507.6,1149.1 1509.5,1149.8 1511.4,1150.5 1513.3,1151.3 1515.2,1152 1517,1152.7 1518.9,1153.4 1520.8,1154.2 1522.7,1154.9 1524.6,1155.6 1526.5,1156.3 1528.3,1157.1 1530.2,1157.8 1532.1,1158.5 1534,1159.2 1535.9,1160 1537.7,1160.7 1539.6,1161.4 1541.5,1162.1 1543.4,1162.9 1545.3,1163.6 1547.2,1164.3 1549,1165 1550.9,1165.8 1552.8,1166.5 1554.7,1167.2 1556.6,1167.9 1558.4,1168.7 1560.3,1169.4 1562.2,1170.1 1564.1,1170.9 1566,1171.6 1567.8,1172.3 1569.7,1173 1571.6,1173.8 1573.5,1174.5 1575.8,1175.4 1577.3,1197.2 1577.7,1196.6 1578.2,1196.1 1578.7,1195.5 1579.1,1195 1579.6,1194.5 1580.1,1193.9 1580.6,1193.5 1581,1193 1581.5,1192.5 1582,1192.1 1582.4,1191.6 1582.9,1191.2 1583.4,1190.8 1583.8,1190.3 1584.3,1190 1584.8,1189.6 1585.3,1189.2 1585.7,1188.8 1586.2,1188.5 1586.7,1188.1 1587.1,1187.8 1587.6,1187.5 1588.1,1187.1 1588.5,1186.8 1589,1186.5 1589.5,1186.2 1590,1185.9 1590.4,1185.7 1590.9,1185.4 1591.4,1185.1 1591.8,1184.9 1592.3,1184.6 1592.8,1184.4 1593.3,1184.1 1593.7,1183.9 1594.2,1183.7 1594.7,1183.4 1595.1,1183.2 1595.6,1183 1596.1,1182.8 1596.5,1182.6 1597,1182.4 1597.5,1182.2 1598,1182 1598.4,1181.8 1598.9,1181.7 1599.4,1181.5 1599.8,1181.3 1600.3,1181.2 1600.8,1181 1601.2,1180.8 1601.7,1180.7 1602.2,1180.5 1602.7,1180.4 1603.1,1180.2 1603.6,1180.1 1604.1,1180 1604.5,1179.8 1605,1179.7 1605.5,1179.6 1607.4,1179.1 1609.2,1178.6 1611.1,1178.2 1613,1177.9 1614.9,1177.5 1616.8,1177.2 1618.7,1176.9 1620.5,1176.6 1622.4,1176.3 1624.3,1176.1 1626.2,1175.9 1628.1,1175.6 1629.9,1175.4 1631.8,1175.2 1633.7,1175 1635.6,1174.8 1637.5,1174.7 1639.4,1174.5 1641.2,1174.3 1643.1,1174.2 1645,1174 1646.9,1173.9 1648.8,1173.7 1650.6,1173.6 1652.5,1173.4 1654.4,1173.3 1656.3,1173.1 1658.2,1173 1660,1172.9 1661.9,1172.7 1663.8,1172.6 1665.7,1172.5 1667.6,1172.3 1669.5,1172.2 1671.3,1172.1 1673.2,1172 1675.1,1171.8 1677,1171.7 1678.9,1171.6 1680.7,1171.4 1682.6,1171.3 1684.5,1171.2 1686.4,1171.1 1688.3,1170.9 1690.2,1170.8 1692,1170.7 1693.9,1170.6 1695.8,1170.5 1697.7,1170.3 1699.6,1170.2 1701.4,1170.1 1703.3,1170 1705.2,1169.8 1707.1,1169.7 1709,1169.6 1710.9,1169.5 1712.7,1169.3 1714.6,1169.2 1716.5,1169.1 1718.4,1169 1720.3,1168.9 1722.1,1168.7 1724,1168.6 1725.9,1168.5 1727.8,1168.4 1729.7,1168.2 1731.5,1168.1 1733.4,1168 1735.3,1167.9 1737.2,1167.8 1739.1,1167.6 1741,1167.5 1742.8,1167.4 1744.7,1167.3 1746.6,1167.1 1748.5,1167 1750.4,1166.9 1752.2,1166.8 1754.1,1166.7 1756,1166.5 1757.9,1166.4 1759.8,1166.3 1761.7,1166.2 1763.5,1166.1 1765.4,1165.9 1767.3,1165.8 1769.2,1165.7 1771.1,1165.6 1772.9,1165.4 1774.8,1165.3 1776.7,1165.2 1778.6,1165.1 1780.5,1165 1782.4,1164.8 1784.2,1164.7 1786.1,1164.6 1788,1164.5 1789.9,1164.3 1791.8,1164.2 1793.6,1164.1 1795.5,1164 1797.4,1163.9 1799.3,1163.7 1801.2,1163.6 1803,1163.5 1804.9,1163.4 1806.8,1163.2 1808.7,1163.1 1810.6,1163 1812.5,1162.9 1814.3,1162.8 1816.2,1162.6 1818.1,1162.5 1820,1162.4 1821.9,1162.3 1823.7,1162.1 1825.6,1162 1827.5,1161.9 1829.4,1161.8 1831.3,1161.7 1833.2,1161.5 1835,1161.4 1836.9,1161.3 1838.8,1161.2" fill="none" stroke="#000" stroke-width="3.4" stroke-linejoin="round"/>
<polyline points="1368.4,1328.5 1370.3,1329.2 1372.2,1329.9 1374,1330.7 1375.9,1331.4 1377.8,1332.1 1379.7,1332.8 1381.6,1333.6 1383.5,1334.3 1385.3,1335 1387.2,1335.8 1389.1,1336.5 1391,1337.2 1392.9,1337.9 1394.7,1338.7 1396.6,1339.4 1398.5,1340.1 1400.4,1340.8 1402.3,1341.6 1404.2,1342.3 1406,1343 1407.9,1343.7 1409.8,1344.5 1411.7,1345.2 1413.6,1345.9 1415.4,1346.6 1417.3,1347.4 1419.2,1348.1 1421.1,1348.8 1423,1349.5 1424.8,1350.3 1426.7,1351 1428.6,1351.7 1430.5,1352.4 1432.4,1353.2 1434.3,1353.9 1436.1,1354.6 1438,1355.3 1439.9,1356.1 1441.8,1356.8 1443.7,1357.5 1445.5,1358.3 1447.4,1359 1449.3,1359.7 1451.2,1360.4 1453.1,1361.2 1455,1361.9 1456.8,1362.6 1458.7,1363.3 1460.6,1364.1 1462.5,1364.8 1464.4,1365.5 1466.2,1366.2 1468.1,1367 1470,1367.7 1471.9,1368.4 1473.8,1369.1 1475.7,1369.9 1477.5,1370.6 1479.4,1371.3 1481.3,1372 1483.2,1372.8 1485.1,1373.5 1486.9,1374.2 1488.8,1374.9 1490.7,1375.7 1492.6,1376.4 1494.5,1377.1 1496.3,1377.9 1498.2,1378.6 1500.1,1379.3 1502,1380 1503.9,1380.8 1505.8,1381.5 1507.6,1382.2 1509.5,1382.9 1511.4,1383.7 1513.3,1384.4 1515.2,1385.1 1517,1385.8 1518.9,1386.6 1520.8,1387.3 1522.7,1388 1524.6,1388.7 1526.5,1389.5 1528.3,1390.2 1530.2,1390.9 1532.1,1391.6 1534,1392.4 1535.9,1393.1 1537.7,1393.8 1539.6,1394.5 1541.5,1395.3 1543.4,1396 1545.3,1396.7 1547.2,1397.5 1549,1398.2 1550.9,1398.9 1552.8,1399.6 1554.7,1400.4 1556.6,1401.1 1558.4,1401.8 1560.3,1402.5 1562.2,1403.3 1564.1,1404 1566,1404.7 1567.8,1405.4 1569.7,1406.2 1571.6,1406.9 1573.5,1407.6 1575.8,1408.5 1577.3,1430.4 1577.7,1429.8 1578.2,1429.2 1578.7,1428.6 1579.1,1428.1 1579.6,1427.6 1580.1,1427.1 1580.6,1426.6 1581,1426.1 1581.5,1425.6 1582,1425.2 1582.4,1424.7 1582.9,1424.3 1583.4,1423.9 1583.8,1423.5 1584.3,1423.1 1584.8,1422.7 1585.3,1422.3 1585.7,1422 1586.2,1421.6 1586.7,1421.2 1587.1,1420.9 1587.6,1420.6 1588.1,1420.3 1588.5,1420 1589,1419.6 1589.5,1419.4 1590,1419.1 1590.4,1418.8 1590.9,1418.5 1591.4,1418.2 1591.8,1418 1592.3,1417.7 1592.8,1417.5 1593.3,1417.2 1593.7,1417 1594.2,1416.8 1594.7,1416.6 1595.1,1416.3 1595.6,1416.1 1596.1,1415.9 1596.5,1415.7 1597,1415.5 1597.5,1415.3 1598,1415.1 1598.4,1415 1598.9,1414.8 1599.4,1414.6 1599.8,1414.4 1600.3,1414.3 1600.8,1414.1 1601.2,1414 1601.7,1413.8 1602.2,1413.7 1602.7,1413.5 1603.1,1413.4 1603.6,1413.2 1604.1,1413.1 1604.5,1413 1605,1412.8 1605.5,1412.7 1607.4,1412.2 1609.2,1411.8 1611.1,1411.4 1613,1411 1614.9,1410.6 1616.8,1410.3 1618.7,1410 1620.5,1409.7 1622.4,1409.5 1624.3,1409.2 1626.2,1409 1628.1,1408.8 1629.9,1408.5 1631.8,1408.3 1633.7,1408.2 1635.6,1408 1637.5,1407.8 1639.4,1407.6 1641.2,1407.5 1643.1,1407.3 1645,1407.1 1646.9,1407 1648.8,1406.8 1650.6,1406.7 1652.5,1406.5 1654.4,1406.4 1656.3,1406.3 1658.2,1406.1 1660,1406 1661.9,1405.9 1663.8,1405.7 1665.7,1405.6 1667.6,1405.5 1669.5,1405.3 1671.3,1405.2 1673.2,1405.1 1675.1,1405 1677,1404.8 1678.9,1404.7 1680.7,1404.6 1682.6,1404.5 1684.5,1404.3 1686.4,1404.2 1688.3,1404.1 1690.2,1404 1692,1403.8 1693.9,1403.7 1695.8,1403.6 1697.7,1403.5 1699.6,1403.3 1701.4,1403.2 1703.3,1403.1 1705.2,1403 1707.1,1402.8 1709,1402.7 1710.9,1402.6 1712.7,1402.5 1714.6,1402.4 1716.5,1402.2 1718.4,1402.1 1720.3,1402 1722.1,1401.9 1724,1401.7 1725.9,1401.6 1727.8,1401.5 1729.7,1401.4 1731.5,1401.3 1733.4,1401.1 1735.3,1401 1737.2,1400.9 1739.1,1400.8 1741,1400.6 1742.8,1400.5 1744.7,1400.4 1746.6,1400.3 1748.5,1400.2 1750.4,1400 1752.2,1399.9 1754.1,1399.8 1756,1399.7 1757.9,1399.5 1759.8,1399.4 1761.7,1399.3 1763.5,1399.2 1765.4,1399.1 1767.3,1398.9 1769.2,1398.8 1771.1,1398.7 1772.9,1398.6 1774.8,1398.4 1776.7,1398.3 1778.6,1398.2 1780.5,1398.1 1782.4,1398 1784.2,1397.8 1786.1,1397.7 1788,1397.6 1789.9,1397.5 1791.8,1397.4 1793.6,1397.2 1795.5,1397.1 1797.4,1397 1799.3,1396.9 1801.2,1396.7 1803,1396.6 1804.9,1396.5 1806.8,1396.4 1808.7,1396.3 1810.6,1396.1 1812.5,1396 1814.3,1395.9 1816.2,1395.8 1818.1,1395.6 1820,1395.5 1821.9,1395.4 1823.7,1395.3 1825.6,1395.2 1827.5,1395 1829.4,1394.9 1831.3,1394.8 1833.2,1394.7 1835,1394.5 1836.9,1394.4 1838.8,1394.3" fill="none" stroke="#000" stroke-width="3.4" stroke-linejoin="round"/>
<polyline points="1368.4,1434.3 1370.3,1434.3 1372.2,1434.3 1374,1434.3 1375.9,1434.3 1377.8,1434.3 1379.7,1434.3 1381.6,1434.3 1383.5,1434.3 1385.3,1434.3 1387.2,1434.3 1389.1,1434.3 1391,1434.3 1392.9,1434.3 1394.7,1434.3 1396.6,1434.3 1398.5,1434.3 1400.4,1434.3 1402.3,1434.3 1404.2,1434.3 1406,1434.3 1407.9,1434.3 1409.8,1434.3 1411.7,1434.3 1413.6,1434.3 1415.4,1434.3 1417.3,1434.3 1419.2,1434.3 1421.1,1434.3 1423,1434.3 1424.8,1434.3 1426.7,1434.3 1428.6,1434.3 1430.5,1434.3 1432.4,1434.3 1434.3,1434.3 1436.1,1434.3 1438,1434.3 1439.9,1434.3 1441.8,1434.3 1443.7,1434.3 1445.5,1434.3 1447.4,1434.3 1449.3,1434.3 1451.2,1434.3 1453.1,1434.3 1455,1434.3 1456.8,1434.3 1458.7,1434.3 1460.6,1434.3 1462.5,1434.3 1464.4,1434.3 1466.2,1434.3 1468.1,1434.3 1470,1434.3 1471.9,1434.3 1473.8,1434.3 1475.7,1434.3 1477.5,1434.3 1479.4,1434.3 1481.3,1434.3 1483.2,1434.3 1485.1,1434.3 1486.9,1434.3 1488.8,1434.3 1490.7,1434.3 1492.6,1434.3 1494.5,1434.3 1496.3,1434.3 1498.2,1434.3 1500.1,1434.3 1502,1434.3 1503.9,1434.3 1505.8,1434.3 1507.6,1434.3 1509.5,1434.3 1511.4,1434.3 1513.3,1434.3 1515.2,1434.3 1517,1434.3 1518.9,1434.3 1520.8,1434.3 1522.7,1434.3 1524.6,1434.3 1526.5,1434.3 1528.3,1434.3 1530.2,1434.3 1532.1,1434.3 1534,1434.3 1535.9,1434.3 1537.7,1434.3 1539.6,1434.3 1541.5,1434.3 1543.4,1434.3 1545.3,1434.3 1547.2,1434.2 1547.6,1434.2 1548.1,1434.2 1548.6,1434.2 1549,1434.2 1549.5,1434.2 1550,1434.2 1550.4,1434.2 1550.9,1434.2 1551.4,1434.1 1551.9,1434.1 1552.3,1434.1 1552.8,1434 1553.3,1434 1553.7,1433.9 1554.2,1433.8 1554.7,1433.7 1555.1,1433.6 1555.6,1433.5 1556.1,1433.3 1556.6,1433.1 1557,1432.9 1557.5,1432.6 1558,1432.3 1558.4,1431.9 1558.9,1431.4 1559.4,1430.9 1559.9,1430.3 1560.3,1429.6 1560.8,1428.7 1561.3,1427.8 1561.7,1426.6 1562.2,1425.3 1562.7,1423.9 1563.1,1422.2 1563.6,1420.3 1564.1,1418.1 1564.6,1415.6 1565,1412.8 1565.5,1409.7 1566,1406.2 1566.4,1402.3 1566.9,1397.9 1567.4,1393.1 1567.8,1387.8 1568.3,1381.9 1568.8,1375.5 1569.3,1368.5 1569.7,1360.9 1570.2,1352.7 1570.7,1343.8 1571.1,1334.3 1571.6,1324.1 1572.1,1313.3 1572.6,1301.8 1573,1289.7 1573.5,1277 1574,1263.8 1574.4,1250.1 1574.9,1235.9 1575.4,1221.4 1575.8,1206.6 1576.3,1191.6 1576.8,1176.5 1577.3,1161.5 1577.7,1146.7 1578.2,1132.2 1578.7,1118.1 1579.1,1104.7 1579.6,1092.1 1580.1,1080.4 1580.6,1069.9 1581,1060.7 1581.5,1052.9 1582,1046.9 1582.4,1042.9 1582.9,1041.3 1583.4,1043 1583.8,1047.6 1584.3,1054.6 1584.8,1063.1 1585.3,1072.5 1585.7,1082.5 1586.2,1092.7 1586.7,1102.9 1587.1,1113.1 1587.6,1123.1 1588.1,1133 1588.5,1142.6 1589,1152 1589.5,1161.2 1590,1170.2 1590.4,1178.8 1590.9,1187.2 1591.4,1195.4 1591.8,1203.3 1592.3,1211 1592.8,1218.4 1593.3,1225.6 1593.7,1232.6 1594.2,1239.3 1594.7,1245.8 1595.1,1252.2 1595.6,1258.3 1596.1,1264.2 1596.5,1269.9 1597,1275.4 1597.5,1280.7 1598,1285.9 1598.4,1290.9 1598.9,1295.7 1599.4,1300.4 1599.8,1304.9 1600.3,1309.3 1600.8,1313.5 1601.2,1317.5 1601.7,1321.5 1602.2,1325.3 1602.7,1329 1603.1,1332.5 1603.6,1335.9 1604.1,1339.3 1604.5,1342.5 1605,1345.6 1605.5,1348.6 1606,1351.5 1606.4,1354.3 1606.9,1357 1607.4,1359.6 1607.8,1362.1 1608.3,1364.5 1608.8,1366.9 1609.2,1369.2 1609.7,1371.4 1610.2,1373.5 1610.7,1375.6 1611.1,1377.5 1611.6,1379.5 1612.1,1381.3 1612.5,1383.1 1613,1384.8 1613.5,1386.5 1613.9,1388.1 1614.4,1389.7 1614.9,1391.2 1615.4,1392.6 1615.8,1394.1 1616.3,1395.4 1616.8,1396.7 1617.2,1398 1617.7,1399.2 1618.2,1400.4 1618.7,1401.6 1619.1,1402.7 1619.6,1403.7 1620.1,1404.8 1620.5,1405.8 1621,1406.7 1621.5,1407.7 1621.9,1408.6 1622.4,1409.4 1622.9,1410.3 1623.4,1411.1 1623.8,1411.9 1624.3,1412.6 1624.8,1413.4 1625.2,1414.1 1625.7,1414.8 1626.2,1415.4 1626.6,1416.1 1627.1,1416.7 1627.6,1417.3 1628.1,1417.8 1628.5,1418.4 1629,1418.9 1629.5,1419.5 1629.9,1420 1630.4,1420.4 1630.9,1420.9 1631.4,1421.4 1631.8,1421.8 1632.3,1422.2 1632.8,1422.6 1633.2,1423 1633.7,1423.4 1634.2,1423.8 1634.6,1424.1 1635.1,1424.5 1635.6,1424.8 1636.1,1425.1 1636.5,1425.4 1637,1425.7 1637.5,1426 1637.9,1426.3 1638.4,1426.6 1638.9,1426.8 1639.4,1427.1 1639.8,1427.3 1640.3,1427.6 1640.8,1427.8 1641.2,1428 1643.1,1428.8 1645,1429.5 1646.9,1430.1 1648.8,1430.7 1650.6,1431.1 1652.5,1431.5 1654.4,1431.9 1656.3,1432.2 1658.2,1432.4 1660,1432.7 1661.9,1432.9 1663.8,1433.1 1665.7,1433.2 1667.6,1433.3 1669.5,1433.5 1671.3,1433.6 1673.2,1433.7 1675.1,1433.7 1677,1433.8 1678.9,1433.9 1680.7,1433.9 1682.6,1434 1684.5,1434 1686.4,1434 1688.3,1434.1 1690.2,1434.1 1692,1434.1 1693.9,1434.1 1695.8,1434.1 1697.7,1434.2 1699.6,1434.2 1701.4,1434.2 1703.3,1434.2 1705.2,1434.2 1707.1,1434.2 1709,1434.2 1710.9,1434.2 1712.7,1434.2 1714.6,1434.2 1716.5,1434.2 1718.4,1434.2 1720.3,1434.2 1722.1,1434.2 1724,1434.2 1725.9,1434.2 1727.8,1434.2 1729.7,1434.2 1731.5,1434.2 1733.4,1434.3 1735.3,1434.3 1737.2,1434.3 1739.1,1434.3 1741,1434.3 1742.8,1434.3 1744.7,1434.3 1746.6,1434.3 1748.5,1434.3 1750.4,1434.3 1752.2,1434.3 1754.1,1434.3 1756,1434.3 1757.9,1434.3 1759.8,1434.3 1761.7,1434.3 1763.5,1434.3 1765.4,1434.3 1767.3,1434.3 1769.2,1434.3 1771.1,1434.3 1772.9,1434.3 1774.8,1434.3 1776.7,1434.3 1778.6,1434.3 1780.5,1434.3 1782.4,1434.3 1784.2,1434.3 1786.1,1434.3 1788,1434.3 1789.9,1434.3 1791.8,1434.3 1793.6,1434.3 1795.5,1434.3 1797.4,1434.3 1799.3,1434.3 1801.2,1434.3 1803,1434.3 1804.9,1434.3 1806.8,1434.3 1808.7,1434.3 1810.6,1434.3 1812.5,1434.3 1814.3,1434.3 1816.2,1434.3 1818.1,1434.3 1820,1434.3 1821.9,1434.3 1823.7,1434.3 1825.6,1434.3 1827.5,1434.3 1829.4,1434.3 1831.3,1434.3 1833.2,1434.3 1835,1434.3 1836.9,1434.3 1838.8,1434.3" fill="none" stroke="#ff0000" stroke-width="3.4" stroke-linejoin="round"/>
<path d="M1838.8 1023.2H1368.4M1368.4 1023.2V1450.7H1838.8" fill="none" stroke="#000" stroke-width="3" stroke-linecap="square"/>
<line x1="1838.8" y1="1023.2" x2="1838.8" y2="1450.7" stroke="#ff0000" stroke-width="3" stroke-linecap="square"/>
<path d="M1462.5 1450.7v-7.5M1462.5 1023.2v7.5M1556.6 1450.7v-7.5M1556.6 1023.2v7.5M1650.6 1450.7v-7.5M1650.6 1023.2v7.5M1744.7 1450.7v-7.5M1744.7 1023.2v7.5M1368.4 1080.2h8M1368.4 1194.2h8M1368.4 1308.2h8M1368.4 1422.2h8" stroke="#000" stroke-width="2.6"/>
<path d="M1838.8 1434.3h-9M1838.8 1269.8h-9M1838.8 1105.4h-9" stroke="#ff0000" stroke-width="2.6"/>
<g font-family="'Liberation Sans', Arial, sans-serif" font-weight="bold" font-size="29" text-anchor="middle"><text x="1368.4" y="1482.2">0</text><text x="1462.5" y="1482.2">100</text><text x="1556.6" y="1482.2">200</text><text x="1650.6" y="1482.2">300</text><text x="1744.7" y="1482.2">400</text><text x="1838.8" y="1482.2">500</text></g>
<g font-family="'Liberation Sans', Arial, sans-serif" font-weight="bold" font-size="29" text-anchor="end"><text x="1358.9" y="1088.7">2</text><text x="1358.9" y="1202.7">0</text><text x="1358.9" y="1316.7">-2</text><text x="1358.9" y="1430.7">-4</text></g>
<g font-family="'Liberation Sans', Arial, sans-serif" font-weight="bold" font-size="29" fill="#ff0000"><text x="1848.3" y="1444.3">0.0</text><text x="1848.3" y="1279.8">0.5</text><text x="1848.3" y="1115.4">1.0</text></g>
<text transform="translate(1319 1243.2) rotate(-90)" x="0" y="0" text-anchor="middle" font-family="'Liberation Sans', Arial, sans-serif" font-weight="bold" font-size="30" textLength="255" lengthAdjust="spacingAndGlyphs">Energy bend (eV)</text>
<text transform="translate(1930.9 1255.2) rotate(-90)" x="0" y="0" text-anchor="middle" font-family="'Liberation Sans', Arial, sans-serif" font-weight="bold" font-size="30.5" fill="#ff0000" textLength="497" lengthAdjust="spacingAndGlyphs">Carrier concentration ( <tspan font-weight="normal">&#215;</tspan>10<tspan dy="-15" font-size="18">13</tspan><tspan dy="15"> cm</tspan><tspan dy="-15" font-size="18">-2</tspan><tspan dy="15">)</tspan></text>
<text x="1602.4" y="1532.2" text-anchor="middle" font-family="'Liberation Sans', Arial, sans-serif" font-weight="bold" font-size="30">Length (&#197;)</text>
<text x="1613.3" y="1069.1" font-family="'Liberation Serif', 'Times New Roman', serif" font-size="31" fill="#ff0000" textLength="216.3" lengthAdjust="spacingAndGlyphs">1.19&#215; 10<tspan dy="-12" font-size="21">13</tspan><tspan dy="12"> </tspan><tspan font-style="italic">cm</tspan><tspan dy="-12" font-size="21">&#8722;2</tspan></text>
<text x="1433.2" y="1216" font-family="'Liberation Sans', Arial, sans-serif" font-size="29" textLength="128.1" lengthAdjust="spacingAndGlyphs">-0.053 eV</text>
<text x="1428.7" y="1276.4" font-family="'Liberation Sans', Arial, sans-serif" font-size="29" textLength="91.9" lengthAdjust="spacingAndGlyphs">AlGaN</text>
<text x="1651.7" y="1276.4" font-family="'Liberation Sans', Arial, sans-serif" font-size="29" textLength="62.2" lengthAdjust="spacingAndGlyphs">GaN</text>
<rect x="1945.4" y="890.9" width="46.9" height="566.8" fill="url(#cbar)"/>
<rect x="1989.3" y="890.9" width="3" height="566.8" fill="#000" fill-opacity="0.22"/>
<rect x="1945.4" y="890.9" width="46.9" height="1.2" fill="#556070"/>
<path d="M1945.4 951.4h6.5M1992.3 951.4h-6.5M1945.4 1015.3h6.5M1992.3 1015.3h-6.5M1945.4 1079.2h6.5M1992.3 1079.2h-6.5M1945.4 1143.1h6.5M1992.3 1143.1h-6.5M1945.4 1207h6.5M1992.3 1207h-6.5M1945.4 1270.9h6.5M1992.3 1270.9h-6.5M1945.4 1334.8h6.5M1992.3 1334.8h-6.5M1945.4 1398.7h6.5M1992.3 1398.7h-6.5" stroke="#333" stroke-width="1.3" stroke-opacity="0.7"/>
<text x="2003" y="1459.8" font-family="'Liberation Sans', Arial, sans-serif" font-size="32.66" textLength="63.01" lengthAdjust="spacingAndGlyphs">0.00</text>
<g font-family="'Liberation Sans', Arial, sans-serif" font-size="28.8"><text x="2001.9" y="963.2">0.16</text><text x="2001.9" y="1089.8">0.12</text><text x="2001.9" y="1221.8">0.08</text><text x="2001.9" y="1344.1">0.04</text></g>
<text x="1945" y="866.2" font-family="'Liberation Sans', Arial, sans-serif" font-size="25.21" textLength="57.17" lengthAdjust="spacingAndGlyphs">GPa</text>
</svg></body></html>
